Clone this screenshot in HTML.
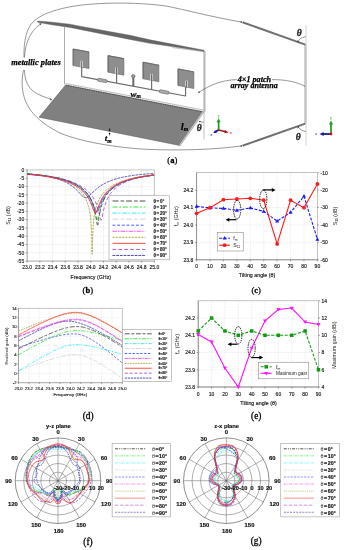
<!DOCTYPE html>
<html lang="en">
<head>
<meta charset="utf-8">
<title>Figure</title>
<style>
html,body{margin:0;padding:0;background:#fff;}
body{width:344px;height:550px;overflow:hidden;}
svg{display:block;filter:blur(0.35px);}
</style>
</head>
<body>
<svg width="344" height="550" viewBox="0 0 344 550">
<rect x="0" y="0" width="344" height="550" fill="#fff"/>
<g id="panel-a">
<g fill="none" stroke="#444" stroke-width="0.55">
<path d="M24 57.5 C23.5 40 27 28 33 22 C42 13 62 7 86 4.6 C110 2.3 140 2.5 166 6 C184 9.5 212 17 241 22"/>
<path d="M24.5 57.5 C25 44 30 31 40.5 24"/>
<path d="M23.5 70 C21 82 22 92 25.5 101 C30 112 40 123 60 133 C80 141.5 115 147.5 146 149.3 C176 150.6 212 150 241 146"/>
<path d="M24.5 70 C24.5 80 28 88 35 92.5 C40 95.5 46 97.5 51.5 99.5"/>
</g>
<path d="M41.6 23.2 L39.2 23.5 L40.5 25.3Z" fill="#444"/>
<path d="M52.4 99.9 L50.4 98.2 L50 100.2Z" fill="#444"/>
<polygon points="64.5,27 204,50.8 204,111.3 66,84.6 64.5,84.3" fill="#fff" stroke="none"/>
<line x1="64.5" y1="27" x2="64.5" y2="84.5" stroke="#8a8a8a" stroke-width="0.7"/>
<polygon points="203.7,51 205.2,51.3 205.2,111.6 203.7,111.3" fill="#c4c4c4" stroke="#888" stroke-width="0.35"/>
<line x1="204" y1="111.5" x2="204" y2="139.5" stroke="#999" stroke-width="0.6"/>
<path d="M172 47.6 L204 51.8" stroke="#999" stroke-width="0.5" fill="none"/>
<polygon points="37.6,21 50,21.95 70,24.2 80,26.15 130,35.35 150,39.85 204,50.25 204,51.35 150,43.35 130,39.45 80,29.45 70,27.4 50,24.45 37.6,22.2" fill="#666" stroke="#555" stroke-width="0.4"/>
<polygon points="66,84.6 202.5,111.2 178.7,145.3 39,117.2" fill="#808080" stroke="#555" stroke-width="0.5"/>
<polygon points="202.5,111.2 203.9,112 180,146 178.7,145.3" fill="#c9c9c9" stroke="#555" stroke-width="0.35"/>
<line x1="66" y1="84.2" x2="203" y2="110.7" stroke="#f4f4f4" stroke-width="0.9"/>
<line x1="66" y1="83.5" x2="203.5" y2="110" stroke="#777" stroke-width="0.45"/>
<line x1="66" y1="85.4" x2="202" y2="111.9" stroke="#222" stroke-width="0.7" stroke-dasharray="0.7 1.1"/>
<polygon points="73.1,49 89,52 89,68.6 73.1,65.6" fill="#8e8e8e" stroke="#666" stroke-width="0.6"/>
<polyline points="73.1,65.6 73.1,49 89,52" fill="none" stroke="#5c5c5c" stroke-width="0.7"/>
<polygon points="108,55.6 123.9,58.6 123.9,75.2 108,72.2" fill="#8e8e8e" stroke="#666" stroke-width="0.6"/>
<polyline points="108,72.2 108,55.6 123.9,58.6" fill="none" stroke="#5c5c5c" stroke-width="0.7"/>
<polygon points="143,62.2 158.9,65.2 158.9,81.8 143,78.8" fill="#8e8e8e" stroke="#666" stroke-width="0.6"/>
<polyline points="143,78.8 143,62.2 158.9,65.2" fill="none" stroke="#5c5c5c" stroke-width="0.7"/>
<polygon points="178,68.9 193.9,71.9 193.9,88.5 178,85.5" fill="#8e8e8e" stroke="#666" stroke-width="0.6"/>
<polyline points="178,85.5 178,68.9 193.9,71.9" fill="none" stroke="#5c5c5c" stroke-width="0.7"/>
<g fill="none" stroke-linejoin="round">
<line x1="81.7" y1="60.8" x2="81.7" y2="67.2" stroke="#e8e8e8" stroke-width="2.6"/>
<line x1="116.6" y1="67.4" x2="116.6" y2="73.8" stroke="#e8e8e8" stroke-width="2.6"/>
<line x1="151.6" y1="74" x2="151.6" y2="80.4" stroke="#e8e8e8" stroke-width="2.6"/>
<line x1="186.6" y1="80.7" x2="186.6" y2="87.1" stroke="#e8e8e8" stroke-width="2.6"/>
<path d="M81.7 67 L81.7 76.6 L185.6 95.98 L185.6 86.5" stroke="#6a6a6a" stroke-width="1.15"/>
<path d="M116.6 67.5 L116.6 83.11" stroke="#6a6a6a" stroke-width="1.15"/>
<path d="M151.6 75 L151.6 89.64" stroke="#6a6a6a" stroke-width="1.15"/>
<line x1="81.7" y1="61" x2="81.7" y2="67.7" stroke="#6a6a6a" stroke-width="1.1"/>
<line x1="116.6" y1="67.6" x2="116.6" y2="74.3" stroke="#6a6a6a" stroke-width="1.1"/>
<line x1="151.6" y1="74.2" x2="151.6" y2="80.9" stroke="#6a6a6a" stroke-width="1.1"/>
<line x1="186.6" y1="80.9" x2="186.6" y2="87.6" stroke="#6a6a6a" stroke-width="1.1"/>
</g>
<g transform="translate(102.4 80.46) rotate(10.6)"><rect x="-4.9" y="-1.5" width="9.8" height="3" rx="1.2" fill="#a9a9a9" stroke="#555" stroke-width="0.5"/></g>
<g transform="translate(164.2 91.99) rotate(10.6)"><rect x="-4.9" y="-1.5" width="9.8" height="3" rx="1.2" fill="#a9a9a9" stroke="#555" stroke-width="0.5"/></g>
<line x1="133.3" y1="76.5" x2="133.3" y2="86.22" stroke="#6a6a6a" stroke-width="2"/>
<circle cx="133.3" cy="76.2" r="1.75" fill="#9a9a9a" stroke="#555" stroke-width="0.5"/>
<text x="36" y="65.2" font-size="8.4" text-anchor="middle" font-family='"Liberation Serif", serif' font-weight="bold" font-style="italic" fill="#000" stroke="#000" stroke-width="0.25">metallic plates</text>
<text x="130.4" y="96.6" font-size="9" font-family='"Liberation Serif", serif' font-weight="bold" font-style="italic" fill="#000" stroke="#000" stroke-width="0.2">w<tspan font-size="5.6" dy="1.6">m</tspan></text>
<text x="180.8" y="129.6" font-size="10.5" font-family='"Liberation Serif", serif' font-weight="bold" font-style="italic" fill="#000" stroke="#000" stroke-width="0.2">l<tspan font-size="5.6" dy="1.2">m</tspan></text>
<text x="104.8" y="141" font-size="9" font-family='"Liberation Serif", serif' font-weight="bold" font-style="italic" fill="#000" stroke="#000" stroke-width="0.2">t<tspan font-size="5.6" dy="1.5">m</tspan></text>
<path d="M109.6 128.3 L109.6 130.6 M109.6 133.2 L109.6 135.4" stroke="#000" stroke-width="0.6" fill="none"/>
<path d="M109.6 131.4 L108.6 129.8 L110.6 129.8Z M109.6 132.4 L108.6 134 L110.6 134Z" fill="#000"/>
<text x="199.2" y="131" font-size="9.5" text-anchor="middle" font-family='"Liberation Serif", serif' font-weight="bold" font-style="italic" fill="#222" stroke="#222" stroke-width="0.28">θ</text>
<path d="M199.4 121.3 Q201.5 122.4 203.8 122.2" stroke="#333" stroke-width="0.5" fill="none"/>
<path d="M198.8 120.9 L200.8 121 L199.9 122.5Z" fill="#333"/>
<text x="254.4" y="82" font-size="8.1" text-anchor="middle" font-family='"Liberation Serif", serif' font-weight="bold" font-style="italic" fill="#000" stroke="#000" stroke-width="0.25">4×1 patch</text>
<text x="254.2" y="88" font-size="8.1" text-anchor="middle" font-family='"Liberation Serif", serif' font-weight="bold" font-style="italic" fill="#000" stroke="#000" stroke-width="0.25">array antenna</text>
<g fill="none" stroke="#444" stroke-width="0.55">
<path d="M199 92.2 C210 85 222 80 236.8 79.6"/>
<path d="M272 79.6 C286 79.6 297 82 305 86.3"/>
</g>
<circle cx="199" cy="92.2" r="0.8" fill="#333"/>
<circle cx="305" cy="86.3" r="0.7" fill="#333"/>
<line x1="306" y1="25" x2="306" y2="145.5" stroke="#b5b5b5" stroke-width="0.6"/>
<line x1="305.7" y1="44.6" x2="305.7" y2="123.6" stroke="#c6c6c6" stroke-width="1.9"/>
<line x1="304.6" y1="44.6" x2="304.6" y2="123.6" stroke="#999" stroke-width="0.4"/>
<line x1="242.5" y1="22.3" x2="305.3" y2="44.6" stroke="#707070" stroke-width="2"/>
<line x1="242.5" y1="145.7" x2="305.3" y2="123.6" stroke="#707070" stroke-width="2"/>
<circle cx="241.3" cy="22" r="0.8" fill="#222"/>
<circle cx="241.3" cy="146" r="0.8" fill="#222"/>
<text x="299.3" y="35.6" font-size="9.5" text-anchor="middle" font-family='"Liberation Serif", serif' font-weight="bold" font-style="italic" fill="#222" stroke="#222" stroke-width="0.28">θ</text>
<text x="298.3" y="139.6" font-size="9.5" text-anchor="middle" font-family='"Liberation Serif", serif' font-weight="bold" font-style="italic" fill="#222" stroke="#222" stroke-width="0.28">θ</text>
<path d="M297.5 41.6 Q300.5 37.2 305.8 36.6" stroke="#333" stroke-width="0.5" fill="none"/>
<path d="M297.8 126.8 Q300.8 131 305.8 131.6" stroke="#333" stroke-width="0.5" fill="none"/>
<path d="M297.2 42.4 L297.5 40.4 L299 41.6Z" fill="#333"/>
<path d="M297.3 126.2 L297.8 128.2 L299.2 127Z" fill="#333"/>
<g stroke-linecap="butt">
<line x1="218.6" y1="130.4" x2="218.6" y2="121.6" stroke="#1e9a1e" stroke-width="1.7"/>
<path d="M218.6 118.2 L216.6 122.2 L220.6 122.2Z" fill="#1e9a1e"/>
<line x1="218.6" y1="130" x2="225.6" y2="131.7" stroke="#b01818" stroke-width="1.6"/>
<path d="M228.6 132.4 L225 130 L224.4 133.3Z" fill="#b01818"/>
<line x1="218.6" y1="130" x2="215.6" y2="131.6" stroke="#181894" stroke-width="1.8"/>
<path d="M213.2 133 L216.8 133 L215.2 130.3Z" fill="#181894"/>
</g>
<text x="218.6" y="117.8" font-size="3.4" text-anchor="middle" font-family='"Liberation Sans", sans-serif' font-weight="bold" font-style="normal" fill="#5cc85c" stroke="#5cc85c" stroke-width="0.1">Y</text>
<text x="230.8" y="133.9" font-size="3.6" text-anchor="middle" font-family='"Liberation Sans", sans-serif' font-weight="bold" font-style="normal" fill="#f04040" stroke="#f04040" stroke-width="0.11">x</text>
<text x="211.4" y="135.6" font-size="3.6" text-anchor="middle" font-family='"Liberation Sans", sans-serif' font-weight="bold" font-style="normal" fill="#6060f0" stroke="#6060f0" stroke-width="0.11">z</text>
<line x1="331" y1="134" x2="331" y2="124" stroke="#1e9a1e" stroke-width="1.7"/>
<path d="M331 120.4 L329 124.6 L333 124.6Z" fill="#1e9a1e"/>
<line x1="331" y1="134" x2="323" y2="134" stroke="#181894" stroke-width="1.8"/>
<path d="M319.6 134 L323.6 132.1 L323.6 135.9Z" fill="#181894"/>
<circle cx="331" cy="134" r="1.4" fill="#d01818"/>
<text x="331" y="119.6" font-size="3.4" text-anchor="middle" font-family='"Liberation Sans", sans-serif' font-weight="bold" font-style="normal" fill="#5cc85c" stroke="#5cc85c" stroke-width="0.1">Y</text>
<text x="316.2" y="135" font-size="3.6" text-anchor="middle" font-family='"Liberation Sans", sans-serif' font-weight="bold" font-style="normal" fill="#6060f0" stroke="#6060f0" stroke-width="0.11">z</text>
<text x="172.3" y="163.1" font-size="8.5" text-anchor="middle" font-family='"Liberation Serif", serif' font-weight="normal" font-style="normal" fill="#000" stroke="#000" stroke-width="0.26">(<tspan font-weight="bold">a</tspan>)</text>
</g>
<g id="panel-b">
<rect x="27.15" y="169.9" width="127.25" height="91.2" fill="#fff" stroke="none"/>
<g stroke="#d6d6d6" stroke-width="0.45" stroke-dasharray="1.6 1.2" fill="none">
<line x1="39.87" y1="169.9" x2="39.87" y2="261.1"/>
<line x1="52.6" y1="169.9" x2="52.6" y2="261.1"/>
<line x1="65.33" y1="169.9" x2="65.33" y2="261.1"/>
<line x1="78.05" y1="169.9" x2="78.05" y2="261.1"/>
<line x1="90.78" y1="169.9" x2="90.78" y2="261.1"/>
<line x1="103.5" y1="169.9" x2="103.5" y2="261.1"/>
<line x1="116.22" y1="169.9" x2="116.22" y2="261.1"/>
<line x1="128.95" y1="169.9" x2="128.95" y2="261.1"/>
<line x1="141.68" y1="169.9" x2="141.68" y2="261.1"/>
<line x1="27.15" y1="178.19" x2="154.4" y2="178.19"/>
<line x1="27.15" y1="186.48" x2="154.4" y2="186.48"/>
<line x1="27.15" y1="194.77" x2="154.4" y2="194.77"/>
<line x1="27.15" y1="203.06" x2="154.4" y2="203.06"/>
<line x1="27.15" y1="211.35" x2="154.4" y2="211.35"/>
<line x1="27.15" y1="219.65" x2="154.4" y2="219.65"/>
<line x1="27.15" y1="227.94" x2="154.4" y2="227.94"/>
<line x1="27.15" y1="236.23" x2="154.4" y2="236.23"/>
<line x1="27.15" y1="244.52" x2="154.4" y2="244.52"/>
<line x1="27.15" y1="252.81" x2="154.4" y2="252.81"/>
</g>
<clipPath id="clipb"><rect x="27.15" y="169.9" width="127.25" height="91.2"/></clipPath>
<g clip-path="url(#clipb)" fill="none" stroke-width="0.8" stroke-linejoin="round">
<path d="M27.15 174.17 L27.95 174.23 L28.74 174.3 L29.54 174.37 L30.33 174.44 L31.13 174.51 L31.92 174.58 L32.72 174.65 L33.51 174.73 L34.31 174.81 L35.1 174.89 L35.9 174.97 L36.69 175.06 L37.49 175.14 L38.28 175.23 L39.08 175.32 L39.87 175.42 L40.67 175.52 L41.47 175.62 L42.26 175.72 L43.06 175.82 L43.85 175.93 L44.65 176.04 L45.44 176.16 L46.24 176.28 L47.03 176.4 L47.83 176.53 L48.62 176.65 L49.42 176.79 L50.21 176.93 L51.01 177.07 L51.8 177.21 L52.6 177.36 L53.4 177.52 L54.19 177.68 L54.99 177.85 L55.78 178.02 L56.58 178.19 L57.37 178.38 L58.17 178.57 L58.96 178.76 L59.76 178.96 L60.55 179.17 L61.35 179.39 L62.14 179.61 L62.94 179.85 L63.73 180.09 L64.53 180.34 L65.33 180.6 L66.12 180.87 L66.92 181.15 L67.71 181.44 L68.51 181.74 L69.3 182.05 L70.1 182.38 L70.89 182.72 L71.69 183.07 L72.48 183.44 L73.28 183.83 L74.07 184.24 L74.87 184.66 L75.66 185.1 L76.46 185.56 L77.25 186.05 L78.05 186.56 L78.85 187.1 L79.64 187.66 L80.44 188.26 L81.23 188.89 L82.03 189.56 L82.82 190.27 L83.62 191.03 L84.41 191.83 L85.21 192.69 L86 193.61 L86.8 194.61 L87.59 195.68 L88.39 196.84 L89.18 198.1 L89.98 199.48 L90.78 200.99 L91.57 202.65 L92.37 204.46 L93.16 206.41 L93.96 208.43 L94.75 210.33 L95.55 211.73 L96.12 211.52 L96.34 212.04 L97.14 211.04 L97.93 209.3 L98.73 207.3 L99.52 205.3 L100.32 203.43 L101.11 201.7 L101.91 200.13 L102.7 198.69 L103.5 197.38 L104.3 196.18 L105.09 195.07 L105.89 194.04 L106.68 193.09 L107.48 192.2 L108.27 191.37 L109.07 190.6 L109.86 189.87 L110.66 189.18 L111.45 188.53 L112.25 187.92 L113.04 187.34 L113.84 186.79 L114.63 186.27 L115.43 185.77 L116.22 185.3 L117.02 184.85 L117.82 184.42 L118.61 184.01 L119.41 183.61 L120.2 183.24 L121 182.87 L121.79 182.53 L122.59 182.19 L123.38 181.87 L124.18 181.57 L124.97 181.27 L125.77 180.99 L126.56 180.71 L127.36 180.45 L128.15 180.2 L128.95 179.95 L129.75 179.72 L130.54 179.49 L131.34 179.27 L132.13 179.06 L132.93 178.85 L133.72 178.65 L134.52 178.46 L135.31 178.27 L136.11 178.09 L136.9 177.92 L137.7 177.75 L138.49 177.59 L139.29 177.43 L140.08 177.28 L140.88 177.13 L141.68 176.99 L142.47 176.85 L143.27 176.71 L144.06 176.58 L144.86 176.45 L145.65 176.33 L146.45 176.21 L147.24 176.09 L148.04 175.98 L148.83 175.87 L149.63 175.76 L150.42 175.66 L151.22 175.56 L152.01 175.46 L152.81 175.37 L153.6 175.27 L154.4 175.18" stroke="#cdcdcd" stroke-dasharray="6 2 3.6 2"/>
<path d="M27.15 173.99 L27.95 174.06 L28.74 174.12 L29.54 174.18 L30.33 174.25 L31.13 174.32 L31.92 174.38 L32.72 174.46 L33.51 174.53 L34.31 174.6 L35.1 174.68 L35.9 174.76 L36.69 174.84 L37.49 174.92 L38.28 175.01 L39.08 175.1 L39.87 175.19 L40.67 175.28 L41.47 175.37 L42.26 175.47 L43.06 175.57 L43.85 175.68 L44.65 175.78 L45.44 175.89 L46.24 176.01 L47.03 176.12 L47.83 176.24 L48.62 176.37 L49.42 176.49 L50.21 176.63 L51.01 176.76 L51.8 176.9 L52.6 177.05 L53.4 177.19 L54.19 177.35 L54.99 177.51 L55.78 177.67 L56.58 177.84 L57.37 178.02 L58.17 178.2 L58.96 178.38 L59.76 178.58 L60.55 178.78 L61.35 178.99 L62.14 179.2 L62.94 179.42 L63.73 179.65 L64.53 179.89 L65.33 180.14 L66.12 180.4 L66.92 180.67 L67.71 180.95 L68.51 181.24 L69.3 181.54 L70.1 181.85 L70.89 182.18 L71.69 182.52 L72.48 182.87 L73.28 183.24 L74.07 183.63 L74.87 184.03 L75.66 184.46 L76.46 184.9 L77.25 185.36 L78.05 185.85 L78.85 186.37 L79.64 186.91 L80.44 187.48 L81.23 188.08 L82.03 188.71 L82.82 189.39 L83.62 190.11 L84.41 190.87 L85.21 191.68 L86 192.56 L86.8 193.49 L87.59 194.5 L88.39 195.6 L89.18 196.79 L89.98 198.09 L90.78 199.51 L91.57 201.08 L92.37 202.8 L93.16 204.71 L93.96 206.78 L94.75 208.94 L95.55 210.99 L96.34 212.46 L96.82 212.18 L97.14 212.63 L97.93 211.41 L98.73 209.49 L99.52 207.37 L100.32 205.31 L101.11 203.4 L101.91 201.65 L102.7 200.07 L103.5 198.63 L104.3 197.31 L105.09 196.1 L105.89 195 L106.68 193.97 L107.48 193.02 L108.27 192.14 L109.07 191.31 L109.86 190.54 L110.66 189.81 L111.45 189.13 L112.25 188.48 L113.04 187.87 L113.84 187.29 L114.63 186.75 L115.43 186.23 L116.22 185.73 L117.02 185.26 L117.82 184.81 L118.61 184.38 L119.41 183.97 L120.2 183.58 L121 183.2 L121.79 182.84 L122.59 182.49 L123.38 182.16 L124.18 181.84 L124.97 181.54 L125.77 181.24 L126.56 180.96 L127.36 180.69 L128.15 180.43 L128.95 180.17 L129.75 179.93 L130.54 179.69 L131.34 179.47 L132.13 179.25 L132.93 179.03 L133.72 178.83 L134.52 178.63 L135.31 178.44 L136.11 178.26 L136.9 178.08 L137.7 177.9 L138.49 177.74 L139.29 177.57 L140.08 177.42 L140.88 177.26 L141.68 177.12 L142.47 176.97 L143.27 176.83 L144.06 176.7 L144.86 176.57 L145.65 176.44 L146.45 176.32 L147.24 176.2 L148.04 176.08 L148.83 175.97 L149.63 175.86 L150.42 175.75 L151.22 175.65 L152.01 175.55 L152.81 175.45 L153.6 175.36 L154.4 175.26" stroke="#10e8ff" stroke-dasharray="4.6 1.5 1.8 1.8"/>
<path d="M27.15 173.87 L27.95 173.93 L28.74 173.99 L29.54 174.05 L30.33 174.11 L31.13 174.18 L31.92 174.24 L32.72 174.31 L33.51 174.38 L34.31 174.46 L35.1 174.53 L35.9 174.61 L36.69 174.69 L37.49 174.77 L38.28 174.85 L39.08 174.94 L39.87 175.02 L40.67 175.11 L41.47 175.21 L42.26 175.3 L43.06 175.4 L43.85 175.5 L44.65 175.61 L45.44 175.71 L46.24 175.82 L47.03 175.94 L47.83 176.05 L48.62 176.18 L49.42 176.3 L50.21 176.43 L51.01 176.56 L51.8 176.7 L52.6 176.84 L53.4 176.99 L54.19 177.14 L54.99 177.29 L55.78 177.45 L56.58 177.62 L57.37 177.79 L58.17 177.97 L58.96 178.15 L59.76 178.34 L60.55 178.54 L61.35 178.74 L62.14 178.96 L62.94 179.17 L63.73 179.4 L64.53 179.64 L65.33 179.88 L66.12 180.14 L66.92 180.4 L67.71 180.68 L68.51 180.96 L69.3 181.26 L70.1 181.57 L70.89 181.89 L71.69 182.23 L72.48 182.58 L73.28 182.95 L74.07 183.34 L74.87 183.74 L75.66 184.16 L76.46 184.6 L77.25 185.06 L78.05 185.55 L78.85 186.06 L79.64 186.6 L80.44 187.17 L81.23 187.78 L82.03 188.42 L82.82 189.1 L83.62 189.82 L84.41 190.59 L85.21 191.42 L86 192.31 L86.8 193.27 L87.59 194.31 L88.39 195.44 L89.18 196.69 L89.98 198.06 L90.78 199.59 L91.57 201.32 L92.37 203.28 L93.16 205.55 L93.96 208.21 L94.75 211.37 L95.55 215.06 L96.34 218.8 L97.01 219.81 L97.14 220.32 L97.93 217.78 L98.73 214.02 L99.52 210.54 L100.32 207.58 L101.11 205.07 L101.91 202.91 L102.7 201.04 L103.5 199.38 L104.3 197.91 L105.09 196.58 L105.89 195.37 L106.68 194.27 L107.48 193.25 L108.27 192.32 L109.07 191.45 L109.86 190.64 L110.66 189.88 L111.45 189.17 L112.25 188.5 L113.04 187.87 L113.84 187.28 L114.63 186.71 L115.43 186.18 L116.22 185.67 L117.02 185.19 L117.82 184.73 L118.61 184.29 L119.41 183.88 L120.2 183.48 L121 183.1 L121.79 182.73 L122.59 182.38 L123.38 182.04 L124.18 181.72 L124.97 181.41 L125.77 181.12 L126.56 180.83 L127.36 180.56 L128.15 180.29 L128.95 180.04 L129.75 179.79 L130.54 179.56 L131.34 179.33 L132.13 179.11 L132.93 178.9 L133.72 178.69 L134.52 178.5 L135.31 178.3 L136.11 178.12 L136.9 177.94 L137.7 177.77 L138.49 177.6 L139.29 177.44 L140.08 177.28 L140.88 177.13 L141.68 176.98 L142.47 176.84 L143.27 176.7 L144.06 176.57 L144.86 176.44 L145.65 176.31 L146.45 176.19 L147.24 176.07 L148.04 175.96 L148.83 175.85 L149.63 175.74 L150.42 175.63 L151.22 175.53 L152.01 175.43 L152.81 175.33 L153.6 175.24 L154.4 175.15" stroke="#10e810" stroke-dasharray="5 1.8 1.8 1.8"/>
<path d="M27.15 173.95 L27.95 174.01 L28.74 174.07 L29.54 174.13 L30.33 174.2 L31.13 174.26 L31.92 174.33 L32.72 174.4 L33.51 174.47 L34.31 174.54 L35.1 174.62 L35.9 174.7 L36.69 174.78 L37.49 174.86 L38.28 174.94 L39.08 175.03 L39.87 175.11 L40.67 175.2 L41.47 175.3 L42.26 175.39 L43.06 175.49 L43.85 175.59 L44.65 175.7 L45.44 175.81 L46.24 175.92 L47.03 176.03 L47.83 176.15 L48.62 176.27 L49.42 176.39 L50.21 176.52 L51.01 176.65 L51.8 176.79 L52.6 176.93 L53.4 177.08 L54.19 177.23 L54.99 177.38 L55.78 177.54 L56.58 177.71 L57.37 177.88 L58.17 178.05 L58.96 178.24 L59.76 178.43 L60.55 178.62 L61.35 178.82 L62.14 179.03 L62.94 179.25 L63.73 179.47 L64.53 179.71 L65.33 179.95 L66.12 180.2 L66.92 180.46 L67.71 180.73 L68.51 181.01 L69.3 181.31 L70.1 181.61 L70.89 181.93 L71.69 182.26 L72.48 182.6 L73.28 182.96 L74.07 183.34 L74.87 183.73 L75.66 184.15 L76.46 184.58 L77.25 185.03 L78.05 185.5 L78.85 186 L79.64 186.53 L80.44 187.08 L81.23 187.67 L82.03 188.28 L82.82 188.94 L83.62 189.64 L84.41 190.38 L85.21 191.18 L86 192.03 L86.8 192.95 L87.59 193.94 L88.39 195.03 L89.18 196.21 L89.98 197.51 L90.78 198.96 L91.57 200.58 L92.37 202.43 L93.16 204.57 L93.96 207.09 L94.75 210.15 L95.55 213.96 L96.34 218.81 L97.14 224.21 L97.58 225.12 L97.93 224.68 L98.73 219.27 L99.52 214.23 L100.32 210.28 L101.11 207.13 L101.91 204.55 L102.7 202.37 L103.5 200.49 L104.3 198.83 L105.09 197.37 L105.89 196.05 L106.68 194.85 L107.48 193.76 L108.27 192.76 L109.07 191.84 L109.86 190.98 L110.66 190.18 L111.45 189.43 L112.25 188.73 L113.04 188.07 L113.84 187.45 L114.63 186.86 L115.43 186.31 L116.22 185.78 L117.02 185.28 L117.82 184.81 L118.61 184.35 L119.41 183.92 L120.2 183.51 L121 183.12 L121.79 182.75 L122.59 182.39 L123.38 182.04 L124.18 181.71 L124.97 181.4 L125.77 181.09 L126.56 180.8 L127.36 180.52 L128.15 180.25 L128.95 179.99 L129.75 179.75 L130.54 179.5 L131.34 179.27 L132.13 179.05 L132.93 178.84 L133.72 178.63 L134.52 178.43 L135.31 178.23 L136.11 178.05 L136.9 177.87 L137.7 177.69 L138.49 177.52 L139.29 177.36 L140.08 177.2 L140.88 177.05 L141.68 176.9 L142.47 176.76 L143.27 176.62 L144.06 176.49 L144.86 176.36 L145.65 176.23 L146.45 176.11 L147.24 175.99 L148.04 175.87 L148.83 175.76 L149.63 175.65 L150.42 175.55 L151.22 175.44 L152.01 175.34 L152.81 175.25 L153.6 175.15 L154.4 175.06" stroke="#303030" stroke-dasharray="6 2 3.6 2"/>
<path d="M27.15 174.1 L27.95 174.16 L28.74 174.23 L29.54 174.29 L30.33 174.36 L31.13 174.43 L31.92 174.5 L32.72 174.57 L33.51 174.64 L34.31 174.72 L35.1 174.8 L35.9 174.88 L36.69 174.96 L37.49 175.04 L38.28 175.13 L39.08 175.22 L39.87 175.31 L40.67 175.41 L41.47 175.5 L42.26 175.6 L43.06 175.7 L43.85 175.81 L44.65 175.92 L45.44 176.03 L46.24 176.14 L47.03 176.26 L47.83 176.38 L48.62 176.51 L49.42 176.64 L50.21 176.77 L51.01 176.91 L51.8 177.05 L52.6 177.19 L53.4 177.34 L54.19 177.5 L54.99 177.66 L55.78 177.82 L56.58 177.99 L57.37 178.17 L58.17 178.35 L58.96 178.54 L59.76 178.73 L60.55 178.93 L61.35 179.14 L62.14 179.36 L62.94 179.58 L63.73 179.81 L64.53 180.05 L65.33 180.3 L66.12 180.56 L66.92 180.83 L67.71 181.1 L68.51 181.39 L69.3 181.69 L70.1 182.01 L70.89 182.33 L71.69 182.67 L72.48 183.02 L73.28 183.39 L74.07 183.77 L74.87 184.17 L75.66 184.59 L76.46 185.03 L77.25 185.49 L78.05 185.97 L78.85 186.48 L79.64 187.01 L80.44 187.57 L81.23 188.17 L82.03 188.79 L82.82 189.45 L83.62 190.15 L84.41 190.9 L85.21 191.69 L86 192.54 L86.8 193.45 L87.59 194.42 L88.39 195.48 L89.18 196.61 L89.98 197.85 L90.78 199.2 L91.57 200.66 L92.37 202.27 L93.16 204.01 L93.96 205.87 L94.75 207.79 L95.55 209.61 L96.34 210.98 L97.01 210.86 L97.14 211.42 L97.93 210.55 L98.73 208.87 L99.52 206.89 L100.32 204.89 L101.11 203.01 L101.91 201.27 L102.7 199.68 L103.5 198.23 L104.3 196.91 L105.09 195.69 L105.89 194.58 L106.68 193.54 L107.48 192.59 L108.27 191.7 L109.07 190.87 L109.86 190.09 L110.66 189.36 L111.45 188.67 L112.25 188.02 L113.04 187.41 L113.84 186.84 L114.63 186.29 L115.43 185.77 L116.22 185.27 L117.02 184.8 L117.82 184.35 L118.61 183.93 L119.41 183.52 L120.2 183.13 L121 182.75 L121.79 182.4 L122.59 182.05 L123.38 181.72 L124.18 181.41 L124.97 181.11 L125.77 180.81 L126.56 180.54 L127.36 180.27 L128.15 180.01 L128.95 179.76 L129.75 179.52 L130.54 179.29 L131.34 179.06 L132.13 178.85 L132.93 178.64 L133.72 178.44 L134.52 178.25 L135.31 178.06 L136.11 177.88 L136.9 177.7 L137.7 177.54 L138.49 177.37 L139.29 177.21 L140.08 177.06 L140.88 176.91 L141.68 176.77 L142.47 176.63 L143.27 176.5 L144.06 176.37 L144.86 176.24 L145.65 176.12 L146.45 176 L147.24 175.88 L148.04 175.77 L148.83 175.66 L149.63 175.55 L150.42 175.45 L151.22 175.35 L152.01 175.25 L152.81 175.16 L153.6 175.07 L154.4 174.98" stroke="#2838ff" stroke-dasharray="2.8 1.9"/>
<path d="M27.15 174.33 L27.95 174.4 L28.74 174.46 L29.54 174.53 L30.33 174.6 L31.13 174.68 L31.92 174.75 L32.72 174.83 L33.51 174.91 L34.31 174.99 L35.1 175.07 L35.9 175.16 L36.69 175.25 L37.49 175.34 L38.28 175.43 L39.08 175.53 L39.87 175.62 L40.67 175.72 L41.47 175.83 L42.26 175.93 L43.06 176.04 L43.85 176.16 L44.65 176.27 L45.44 176.39 L46.24 176.51 L47.03 176.64 L47.83 176.77 L48.62 176.9 L49.42 177.04 L50.21 177.18 L51.01 177.33 L51.8 177.48 L52.6 177.64 L53.4 177.8 L54.19 177.96 L54.99 178.13 L55.78 178.31 L56.58 178.49 L57.37 178.68 L58.17 178.88 L58.96 179.08 L59.76 179.29 L60.55 179.5 L61.35 179.72 L62.14 179.96 L62.94 180.2 L63.73 180.44 L64.53 180.7 L65.33 180.97 L66.12 181.25 L66.92 181.53 L67.71 181.83 L68.51 182.14 L69.3 182.47 L70.1 182.8 L70.89 183.15 L71.69 183.52 L72.48 183.9 L73.28 184.3 L74.07 184.72 L74.87 185.15 L75.66 185.61 L76.46 186.08 L77.25 186.59 L78.05 187.11 L78.85 187.67 L79.64 188.25 L80.44 188.87 L81.23 189.53 L82.03 190.22 L82.82 190.96 L83.62 191.74 L84.41 192.58 L85.21 193.48 L86 194.44 L86.8 195.48 L87.59 196.61 L88.39 197.84 L89.18 199.18 L89.98 200.65 L90.78 202.27 L91.57 204.05 L92.37 206.01 L93.16 208.11 L93.96 210.25 L94.75 212.14 L95.55 213.21 L95.74 212.68 L96.34 212.78 L97.14 211.14 L97.93 209.01 L98.73 206.83 L99.52 204.76 L100.32 202.87 L101.11 201.16 L101.91 199.61 L102.7 198.2 L103.5 196.92 L104.3 195.74 L105.09 194.66 L105.89 193.65 L106.68 192.72 L107.48 191.86 L108.27 191.05 L109.07 190.29 L109.86 189.58 L110.66 188.91 L111.45 188.27 L112.25 187.67 L113.04 187.11 L113.84 186.57 L114.63 186.06 L115.43 185.57 L116.22 185.1 L117.02 184.66 L117.82 184.24 L118.61 183.83 L119.41 183.45 L120.2 183.08 L121 182.72 L121.79 182.38 L122.59 182.05 L123.38 181.74 L124.18 181.44 L124.97 181.15 L125.77 180.87 L126.56 180.6 L127.36 180.34 L128.15 180.09 L128.95 179.85 L129.75 179.61 L130.54 179.39 L131.34 179.17 L132.13 178.96 L132.93 178.76 L133.72 178.57 L134.52 178.38 L135.31 178.19 L136.11 178.02 L136.9 177.85 L137.7 177.68 L138.49 177.52 L139.29 177.36 L140.08 177.21 L140.88 177.07 L141.68 176.92 L142.47 176.79 L143.27 176.65 L144.06 176.52 L144.86 176.4 L145.65 176.28 L146.45 176.16 L147.24 176.04 L148.04 175.93 L148.83 175.82 L149.63 175.72 L150.42 175.62 L151.22 175.52 L152.01 175.42 L152.81 175.32 L153.6 175.23 L154.4 175.14" stroke="#ff28ff" stroke-dasharray="4.5 1 1.3 1.3"/>
<path d="M27.15 173.76 L27.95 173.83 L28.74 173.9 L29.54 173.97 L30.33 174.04 L31.13 174.12 L31.92 174.2 L32.72 174.28 L33.51 174.37 L34.31 174.45 L35.1 174.54 L35.9 174.64 L36.69 174.73 L37.49 174.83 L38.28 174.93 L39.08 175.04 L39.87 175.15 L40.67 175.26 L41.47 175.38 L42.26 175.5 L43.06 175.63 L43.85 175.75 L44.65 175.89 L45.44 176.03 L46.24 176.17 L47.03 176.32 L47.83 176.48 L48.62 176.64 L49.42 176.81 L50.21 176.98 L51.01 177.16 L51.8 177.35 L52.6 177.54 L53.4 177.74 L54.19 177.96 L54.99 178.17 L55.78 178.4 L56.58 178.64 L57.37 178.89 L58.17 179.14 L58.96 179.41 L59.76 179.69 L60.55 179.99 L61.35 180.29 L62.14 180.61 L62.94 180.94 L63.73 181.29 L64.53 181.66 L65.33 182.04 L66.12 182.44 L66.92 182.86 L67.71 183.3 L68.51 183.76 L69.3 184.24 L70.1 184.75 L70.89 185.28 L71.69 185.84 L72.48 186.43 L73.28 187.05 L74.07 187.7 L74.87 188.38 L75.66 189.09 L76.46 189.84 L77.25 190.62 L78.05 191.43 L78.85 192.27 L79.64 193.13 L80.44 194 L81.23 194.85 L82.03 195.67 L82.82 196.43 L83.62 197.07 L84.41 197.55 L85.21 197.81 L85.56 197.26 L86 197.8 L86.8 197.55 L87.59 197.11 L88.39 196.54 L89.18 195.86 L89.98 195.12 L90.78 194.34 L91.57 193.54 L92.37 192.75 L93.16 191.96 L93.96 191.2 L94.75 190.46 L95.55 189.74 L96.34 189.06 L97.14 188.4 L97.93 187.77 L98.73 187.17 L99.52 186.59 L100.32 186.04 L101.11 185.52 L101.91 185.01 L102.7 184.53 L103.5 184.08 L104.3 183.64 L105.09 183.22 L105.89 182.82 L106.68 182.43 L107.48 182.06 L108.27 181.71 L109.07 181.37 L109.86 181.05 L110.66 180.73 L111.45 180.43 L112.25 180.15 L113.04 179.87 L113.84 179.61 L114.63 179.35 L115.43 179.1 L116.22 178.87 L117.02 178.64 L117.82 178.42 L118.61 178.21 L119.41 178.01 L120.2 177.81 L121 177.62 L121.79 177.44 L122.59 177.26 L123.38 177.09 L124.18 176.93 L124.97 176.77 L125.77 176.62 L126.56 176.47 L127.36 176.33 L128.15 176.19 L128.95 176.06 L129.75 175.93 L130.54 175.8 L131.34 175.68 L132.13 175.56 L132.93 175.45 L133.72 175.34 L134.52 175.23 L135.31 175.13 L136.11 175.03 L136.9 174.93 L137.7 174.84 L138.49 174.74 L139.29 174.66 L140.08 174.57 L140.88 174.49 L141.68 174.4 L142.47 174.33 L143.27 174.25 L144.06 174.17 L144.86 174.1 L145.65 174.03 L146.45 173.96 L147.24 173.9 L148.04 173.83 L148.83 173.77 L149.63 173.71 L150.42 173.65 L151.22 173.59 L152.01 173.53 L152.81 173.48 L153.6 173.42 L154.4 173.37" stroke="#282898" stroke-dasharray="2.8 0.9"/>
<path d="M27.15 174.15 L27.95 174.21 L28.74 174.27 L29.54 174.33 L30.33 174.39 L31.13 174.46 L31.92 174.52 L32.72 174.59 L33.51 174.66 L34.31 174.73 L35.1 174.81 L35.9 174.88 L36.69 174.96 L37.49 175.04 L38.28 175.12 L39.08 175.2 L39.87 175.29 L40.67 175.38 L41.47 175.46 L42.26 175.56 L43.06 175.65 L43.85 175.75 L44.65 175.85 L45.44 175.95 L46.24 176.06 L47.03 176.16 L47.83 176.27 L48.62 176.39 L49.42 176.5 L50.21 176.63 L51.01 176.75 L51.8 176.88 L52.6 177.01 L53.4 177.14 L54.19 177.28 L54.99 177.43 L55.78 177.57 L56.58 177.72 L57.37 177.88 L58.17 178.04 L58.96 178.21 L59.76 178.38 L60.55 178.56 L61.35 178.74 L62.14 178.93 L62.94 179.12 L63.73 179.32 L64.53 179.53 L65.33 179.75 L66.12 179.97 L66.92 180.2 L67.71 180.44 L68.51 180.68 L69.3 180.94 L70.1 181.2 L70.89 181.48 L71.69 181.76 L72.48 182.06 L73.28 182.37 L74.07 182.68 L74.87 183.02 L75.66 183.36 L76.46 183.72 L77.25 184.1 L78.05 184.49 L78.85 184.89 L79.64 185.32 L80.44 185.77 L81.23 186.23 L82.03 186.72 L82.82 187.24 L83.62 187.78 L84.41 188.35 L85.21 188.95 L86 189.59 L86.8 190.26 L87.59 190.97 L88.39 191.74 L89.18 192.55 L89.98 193.42 L90.78 194.36 L91.57 195.37 L92.37 196.47 L93.16 197.67 L93.96 198.99 L94.75 200.45 L95.55 202.08 L96.34 203.92 L97.14 206.03 L97.93 208.47 L98.73 211.3 L99.52 214.57 L100.32 218 L101.11 220.3 L101.27 219.81 L101.91 218.73 L102.7 214.68 L103.5 210.78 L104.3 207.5 L105.09 204.76 L105.89 202.45 L106.68 200.46 L107.48 198.71 L108.27 197.17 L109.07 195.79 L109.86 194.54 L110.66 193.4 L111.45 192.36 L112.25 191.4 L113.04 190.51 L113.84 189.69 L114.63 188.92 L115.43 188.2 L116.22 187.53 L117.02 186.89 L117.82 186.3 L118.61 185.73 L119.41 185.2 L120.2 184.7 L121 184.22 L121.79 183.76 L122.59 183.33 L123.38 182.91 L124.18 182.52 L124.97 182.15 L125.77 181.79 L126.56 181.44 L127.36 181.12 L128.15 180.8 L128.95 180.5 L129.75 180.21 L130.54 179.94 L131.34 179.67 L132.13 179.42 L132.93 179.17 L133.72 178.93 L134.52 178.71 L135.31 178.49 L136.11 178.28 L136.9 178.08 L137.7 177.88 L138.49 177.69 L139.29 177.51 L140.08 177.34 L140.88 177.17 L141.68 177.01 L142.47 176.85 L143.27 176.7 L144.06 176.55 L144.86 176.41 L145.65 176.27 L146.45 176.14 L147.24 176.01 L148.04 175.88 L148.83 175.76 L149.63 175.64 L150.42 175.53 L151.22 175.42 L152.01 175.32 L152.81 175.21 L153.6 175.11 L154.4 175.01" stroke="#a038c0" stroke-dasharray="3.7 2.2"/>
<path d="M27.15 173.99 L27.95 174.06 L28.74 174.12 L29.54 174.19 L30.33 174.26 L31.13 174.34 L31.92 174.41 L32.72 174.49 L33.51 174.57 L34.31 174.65 L35.1 174.73 L35.9 174.82 L36.69 174.91 L37.49 175 L38.28 175.09 L39.08 175.19 L39.87 175.29 L40.67 175.39 L41.47 175.5 L42.26 175.61 L43.06 175.72 L43.85 175.84 L44.65 175.96 L45.44 176.08 L46.24 176.21 L47.03 176.34 L47.83 176.48 L48.62 176.62 L49.42 176.76 L50.21 176.91 L51.01 177.07 L51.8 177.23 L52.6 177.4 L53.4 177.57 L54.19 177.75 L54.99 177.93 L55.78 178.13 L56.58 178.33 L57.37 178.53 L58.17 178.75 L58.96 178.97 L59.76 179.2 L60.55 179.44 L61.35 179.69 L62.14 179.95 L62.94 180.22 L63.73 180.5 L64.53 180.8 L65.33 181.1 L66.12 181.42 L66.92 181.76 L67.71 182.1 L68.51 182.47 L69.3 182.85 L70.1 183.25 L70.89 183.67 L71.69 184.11 L72.48 184.57 L73.28 185.06 L74.07 185.57 L74.87 186.11 L75.66 186.69 L76.46 187.29 L77.25 187.94 L78.05 188.62 L78.85 189.36 L79.64 190.14 L80.44 190.98 L81.23 191.89 L82.03 192.87 L82.82 193.94 L83.62 195.11 L84.41 196.41 L85.21 197.85 L86 199.48 L86.8 201.33 L87.59 203.5 L88.39 206.08 L89.18 209.28 L89.98 213.49 L90.78 219.6 L91.57 230.88 L92.17 254.3 L92.37 246.03 L93.16 225.93 L93.96 217.93 L94.75 212.91 L95.55 209.25 L96.34 206.37 L97.14 204.01 L97.93 202 L98.73 200.25 L99.52 198.71 L100.32 197.34 L101.11 196.1 L101.91 194.97 L102.7 193.93 L103.5 192.98 L104.3 192.09 L105.09 191.27 L105.89 190.5 L106.68 189.78 L107.48 189.1 L108.27 188.46 L109.07 187.86 L109.86 187.29 L110.66 186.75 L111.45 186.23 L112.25 185.74 L113.04 185.28 L113.84 184.83 L114.63 184.41 L115.43 184 L116.22 183.62 L117.02 183.25 L117.82 182.89 L118.61 182.55 L119.41 182.22 L120.2 181.91 L121 181.6 L121.79 181.31 L122.59 181.03 L123.38 180.76 L124.18 180.5 L124.97 180.25 L125.77 180.01 L126.56 179.77 L127.36 179.55 L128.15 179.33 L128.95 179.12 L129.75 178.92 L130.54 178.72 L131.34 178.53 L132.13 178.35 L132.93 178.17 L133.72 178 L134.52 177.83 L135.31 177.67 L136.11 177.51 L136.9 177.36 L137.7 177.21 L138.49 177.07 L139.29 176.93 L140.08 176.79 L140.88 176.66 L141.68 176.54 L142.47 176.41 L143.27 176.29 L144.06 176.18 L144.86 176.06 L145.65 175.96 L146.45 175.85 L147.24 175.74 L148.04 175.64 L148.83 175.54 L149.63 175.45 L150.42 175.36 L151.22 175.27 L152.01 175.18 L152.81 175.09 L153.6 175.01 L154.4 174.93" stroke="#9c9c28" stroke-dasharray="2.2 1"/>
<path d="M27.15 174.23 L27.95 174.3 L28.74 174.37 L29.54 174.44 L30.33 174.51 L31.13 174.58 L31.92 174.65 L32.72 174.73 L33.51 174.81 L34.31 174.89 L35.1 174.97 L35.9 175.06 L36.69 175.14 L37.49 175.23 L38.28 175.32 L39.08 175.42 L39.87 175.52 L40.67 175.62 L41.47 175.72 L42.26 175.82 L43.06 175.93 L43.85 176.04 L44.65 176.16 L45.44 176.28 L46.24 176.4 L47.03 176.52 L47.83 176.65 L48.62 176.79 L49.42 176.92 L50.21 177.07 L51.01 177.21 L51.8 177.36 L52.6 177.52 L53.4 177.68 L54.19 177.85 L54.99 178.02 L55.78 178.19 L56.58 178.38 L57.37 178.57 L58.17 178.76 L58.96 178.96 L59.76 179.17 L60.55 179.39 L61.35 179.61 L62.14 179.85 L62.94 180.09 L63.73 180.34 L64.53 180.6 L65.33 180.87 L66.12 181.15 L66.92 181.44 L67.71 181.74 L68.51 182.05 L69.3 182.38 L70.1 182.72 L70.89 183.08 L71.69 183.45 L72.48 183.83 L73.28 184.24 L74.07 184.66 L74.87 185.1 L75.66 185.57 L76.46 186.06 L77.25 186.57 L78.05 187.11 L78.85 187.67 L79.64 188.27 L80.44 188.91 L81.23 189.58 L82.03 190.29 L82.82 191.05 L83.62 191.86 L84.41 192.72 L85.21 193.65 L86 194.66 L86.8 195.74 L87.59 196.92 L88.39 198.2 L89.18 199.61 L89.98 201.16 L90.78 202.87 L91.57 204.76 L92.37 206.83 L93.16 209.01 L93.96 211.14 L94.75 212.78 L95.36 212.68 L95.55 213.2 L96.34 212.05 L97.14 210.03 L97.93 207.79 L98.73 205.61 L99.52 203.6 L100.32 201.78 L101.11 200.14 L101.91 198.65 L102.7 197.3 L103.5 196.06 L104.3 194.93 L105.09 193.88 L105.89 192.92 L106.68 192.02 L107.48 191.18 L108.27 190.4 L109.07 189.66 L109.86 188.97 L110.66 188.32 L111.45 187.7 L112.25 187.12 L113.04 186.57 L113.84 186.05 L114.63 185.55 L115.43 185.07 L116.22 184.62 L117.02 184.19 L117.82 183.78 L118.61 183.39 L119.41 183.01 L120.2 182.65 L121 182.3 L121.79 181.97 L122.59 181.65 L123.38 181.35 L124.18 181.05 L124.97 180.77 L125.77 180.5 L126.56 180.24 L127.36 179.99 L128.15 179.74 L128.95 179.51 L129.75 179.28 L130.54 179.07 L131.34 178.85 L132.13 178.65 L132.93 178.46 L133.72 178.27 L134.52 178.08 L135.31 177.91 L136.11 177.73 L136.9 177.57 L137.7 177.41 L138.49 177.25 L139.29 177.1 L140.08 176.95 L140.88 176.81 L141.68 176.68 L142.47 176.54 L143.27 176.41 L144.06 176.29 L144.86 176.17 L145.65 176.05 L146.45 175.93 L147.24 175.82 L148.04 175.72 L148.83 175.61 L149.63 175.51 L150.42 175.41 L151.22 175.31 L152.01 175.22 L152.81 175.13 L153.6 175.04 L154.4 174.95" stroke="#ff2828"/>
</g>
<path d="M27.15 169.9 L154.4 169.9 L154.4 261.1" fill="none" stroke="#9a9a9a" stroke-width="0.6"/>
<path d="M27.15 169.9 L27.15 261.1 L154.4 261.1" fill="none" stroke="#7c7c7c" stroke-width="0.7"/>
<g stroke="#505050" stroke-width="0.55">
<line x1="27.15" y1="261.1" x2="27.15" y2="262.6"/>
<line x1="39.87" y1="261.1" x2="39.87" y2="262.6"/>
<line x1="52.6" y1="261.1" x2="52.6" y2="262.6"/>
<line x1="65.33" y1="261.1" x2="65.33" y2="262.6"/>
<line x1="78.05" y1="261.1" x2="78.05" y2="262.6"/>
<line x1="90.78" y1="261.1" x2="90.78" y2="262.6"/>
<line x1="103.5" y1="261.1" x2="103.5" y2="262.6"/>
<line x1="116.22" y1="261.1" x2="116.22" y2="262.6"/>
<line x1="128.95" y1="261.1" x2="128.95" y2="262.6"/>
<line x1="141.68" y1="261.1" x2="141.68" y2="262.6"/>
<line x1="154.4" y1="261.1" x2="154.4" y2="262.6"/>
<line x1="25.65" y1="169.9" x2="27.15" y2="169.9"/>
<line x1="25.65" y1="178.19" x2="27.15" y2="178.19"/>
<line x1="25.65" y1="186.48" x2="27.15" y2="186.48"/>
<line x1="25.65" y1="194.77" x2="27.15" y2="194.77"/>
<line x1="25.65" y1="203.06" x2="27.15" y2="203.06"/>
<line x1="25.65" y1="211.35" x2="27.15" y2="211.35"/>
<line x1="25.65" y1="219.65" x2="27.15" y2="219.65"/>
<line x1="25.65" y1="227.94" x2="27.15" y2="227.94"/>
<line x1="25.65" y1="236.23" x2="27.15" y2="236.23"/>
<line x1="25.65" y1="244.52" x2="27.15" y2="244.52"/>
<line x1="25.65" y1="252.81" x2="27.15" y2="252.81"/>
<line x1="25.65" y1="261.1" x2="27.15" y2="261.1"/>
</g>
<text x="27.15" y="269.3" font-size="5.0" text-anchor="middle" font-family='"Liberation Sans", sans-serif' font-weight="normal" font-style="normal" fill="#1a1a1a" stroke="#1a1a1a" stroke-width="0.15">23.0</text>
<text x="39.87" y="269.3" font-size="5.0" text-anchor="middle" font-family='"Liberation Sans", sans-serif' font-weight="normal" font-style="normal" fill="#1a1a1a" stroke="#1a1a1a" stroke-width="0.15">23.2</text>
<text x="52.6" y="269.3" font-size="5.0" text-anchor="middle" font-family='"Liberation Sans", sans-serif' font-weight="normal" font-style="normal" fill="#1a1a1a" stroke="#1a1a1a" stroke-width="0.15">23.4</text>
<text x="65.33" y="269.3" font-size="5.0" text-anchor="middle" font-family='"Liberation Sans", sans-serif' font-weight="normal" font-style="normal" fill="#1a1a1a" stroke="#1a1a1a" stroke-width="0.15">23.6</text>
<text x="78.05" y="269.3" font-size="5.0" text-anchor="middle" font-family='"Liberation Sans", sans-serif' font-weight="normal" font-style="normal" fill="#1a1a1a" stroke="#1a1a1a" stroke-width="0.15">23.8</text>
<text x="90.78" y="269.3" font-size="5.0" text-anchor="middle" font-family='"Liberation Sans", sans-serif' font-weight="normal" font-style="normal" fill="#1a1a1a" stroke="#1a1a1a" stroke-width="0.15">24.0</text>
<text x="103.5" y="269.3" font-size="5.0" text-anchor="middle" font-family='"Liberation Sans", sans-serif' font-weight="normal" font-style="normal" fill="#1a1a1a" stroke="#1a1a1a" stroke-width="0.15">24.2</text>
<text x="116.22" y="269.3" font-size="5.0" text-anchor="middle" font-family='"Liberation Sans", sans-serif' font-weight="normal" font-style="normal" fill="#1a1a1a" stroke="#1a1a1a" stroke-width="0.15">24.4</text>
<text x="128.95" y="269.3" font-size="5.0" text-anchor="middle" font-family='"Liberation Sans", sans-serif' font-weight="normal" font-style="normal" fill="#1a1a1a" stroke="#1a1a1a" stroke-width="0.15">24.6</text>
<text x="141.68" y="269.3" font-size="5.0" text-anchor="middle" font-family='"Liberation Sans", sans-serif' font-weight="normal" font-style="normal" fill="#1a1a1a" stroke="#1a1a1a" stroke-width="0.15">24.8</text>
<text x="154.4" y="269.3" font-size="5.0" text-anchor="middle" font-family='"Liberation Sans", sans-serif' font-weight="normal" font-style="normal" fill="#1a1a1a" stroke="#1a1a1a" stroke-width="0.15">25.0</text>
<text x="24.2" y="171.7" font-size="5.0" text-anchor="end" font-family='"Liberation Sans", sans-serif' font-weight="normal" font-style="normal" fill="#1a1a1a" stroke="#1a1a1a" stroke-width="0.15">0</text>
<text x="24.2" y="179.99" font-size="5.0" text-anchor="end" font-family='"Liberation Sans", sans-serif' font-weight="normal" font-style="normal" fill="#1a1a1a" stroke="#1a1a1a" stroke-width="0.15">-5</text>
<text x="24.2" y="188.28" font-size="5.0" text-anchor="end" font-family='"Liberation Sans", sans-serif' font-weight="normal" font-style="normal" fill="#1a1a1a" stroke="#1a1a1a" stroke-width="0.15">-10</text>
<text x="24.2" y="196.57" font-size="5.0" text-anchor="end" font-family='"Liberation Sans", sans-serif' font-weight="normal" font-style="normal" fill="#1a1a1a" stroke="#1a1a1a" stroke-width="0.15">-15</text>
<text x="24.2" y="204.86" font-size="5.0" text-anchor="end" font-family='"Liberation Sans", sans-serif' font-weight="normal" font-style="normal" fill="#1a1a1a" stroke="#1a1a1a" stroke-width="0.15">-20</text>
<text x="24.2" y="213.15" font-size="5.0" text-anchor="end" font-family='"Liberation Sans", sans-serif' font-weight="normal" font-style="normal" fill="#1a1a1a" stroke="#1a1a1a" stroke-width="0.15">-25</text>
<text x="24.2" y="221.45" font-size="5.0" text-anchor="end" font-family='"Liberation Sans", sans-serif' font-weight="normal" font-style="normal" fill="#1a1a1a" stroke="#1a1a1a" stroke-width="0.15">-30</text>
<text x="24.2" y="229.74" font-size="5.0" text-anchor="end" font-family='"Liberation Sans", sans-serif' font-weight="normal" font-style="normal" fill="#1a1a1a" stroke="#1a1a1a" stroke-width="0.15">-35</text>
<text x="24.2" y="238.03" font-size="5.0" text-anchor="end" font-family='"Liberation Sans", sans-serif' font-weight="normal" font-style="normal" fill="#1a1a1a" stroke="#1a1a1a" stroke-width="0.15">-40</text>
<text x="24.2" y="246.32" font-size="5.0" text-anchor="end" font-family='"Liberation Sans", sans-serif' font-weight="normal" font-style="normal" fill="#1a1a1a" stroke="#1a1a1a" stroke-width="0.15">-45</text>
<text x="24.2" y="254.61" font-size="5.0" text-anchor="end" font-family='"Liberation Sans", sans-serif' font-weight="normal" font-style="normal" fill="#1a1a1a" stroke="#1a1a1a" stroke-width="0.15">-50</text>
<text x="24.2" y="262.9" font-size="5.0" text-anchor="end" font-family='"Liberation Sans", sans-serif' font-weight="normal" font-style="normal" fill="#1a1a1a" stroke="#1a1a1a" stroke-width="0.15">-55</text>
<text x="90.8" y="279.3" font-size="5.3" text-anchor="middle" font-family='"Liberation Sans", sans-serif' font-weight="normal" font-style="normal" fill="#1a1a1a" stroke="#1a1a1a" stroke-width="0.16">Frequency (GHz)</text>
<text transform="translate(10.3 215.4) rotate(-90)" font-size="5.3" text-anchor="middle" font-family='"Liberation Sans", sans-serif' fill="#1a1a1a">S<tspan font-size="3.4" dy="1">11</tspan><tspan dy="-1"> (dB)</tspan></text>
<rect x="109" y="195.8" width="60.3" height="64" fill="#fff" stroke="#8a8a8a" stroke-width="0.5"/>
<line x1="112.5" y1="201" x2="145.4" y2="201" stroke="#303030" stroke-width="0.85" stroke-dasharray="6 2 3.6 2"/>
<text x="153.4" y="202.6" font-size="4.6" text-anchor="start" font-family='"Liberation Sans", sans-serif' font-weight="bold" font-style="normal" fill="#1a1a1a" word-spacing="-0.6" stroke="#1a1a1a" stroke-width="0.14">θ = 0°</text>
<line x1="112.5" y1="207.05" x2="145.4" y2="207.05" stroke="#10e810" stroke-width="0.85" stroke-dasharray="5 1.8 1.8 1.8"/>
<text x="153.4" y="208.65" font-size="4.6" text-anchor="start" font-family='"Liberation Sans", sans-serif' font-weight="bold" font-style="normal" fill="#1a1a1a" word-spacing="-0.6" stroke="#1a1a1a" stroke-width="0.14">θ = 10°</text>
<line x1="112.5" y1="213.1" x2="145.4" y2="213.1" stroke="#10e8ff" stroke-width="0.85" stroke-dasharray="4.6 1.5 1.8 1.8"/>
<text x="153.4" y="214.7" font-size="4.6" text-anchor="start" font-family='"Liberation Sans", sans-serif' font-weight="bold" font-style="normal" fill="#1a1a1a" word-spacing="-0.6" stroke="#1a1a1a" stroke-width="0.14">θ = 20°</text>
<line x1="112.5" y1="219.15" x2="145.4" y2="219.15" stroke="#cdcdcd" stroke-width="0.85" stroke-dasharray="6 2 3.6 2"/>
<text x="153.4" y="220.75" font-size="4.6" text-anchor="start" font-family='"Liberation Sans", sans-serif' font-weight="bold" font-style="normal" fill="#1a1a1a" word-spacing="-0.6" stroke="#1a1a1a" stroke-width="0.14">θ = 30°</text>
<line x1="112.5" y1="225.2" x2="145.4" y2="225.2" stroke="#2838ff" stroke-width="0.85" stroke-dasharray="2.8 1.9"/>
<text x="153.4" y="226.8" font-size="4.6" text-anchor="start" font-family='"Liberation Sans", sans-serif' font-weight="bold" font-style="normal" fill="#1a1a1a" word-spacing="-0.6" stroke="#1a1a1a" stroke-width="0.14">θ = 40°</text>
<line x1="112.5" y1="231.25" x2="145.4" y2="231.25" stroke="#ff28ff" stroke-width="0.85" stroke-dasharray="4.5 1 1.3 1.3"/>
<text x="153.4" y="232.85" font-size="4.6" text-anchor="start" font-family='"Liberation Sans", sans-serif' font-weight="bold" font-style="normal" fill="#1a1a1a" word-spacing="-0.6" stroke="#1a1a1a" stroke-width="0.14">θ = 50°</text>
<line x1="112.5" y1="237.3" x2="145.4" y2="237.3" stroke="#9c9c28" stroke-width="0.85" stroke-dasharray="2.2 1"/>
<text x="153.4" y="238.9" font-size="4.6" text-anchor="start" font-family='"Liberation Sans", sans-serif' font-weight="bold" font-style="normal" fill="#1a1a1a" word-spacing="-0.6" stroke="#1a1a1a" stroke-width="0.14">θ = 60°</text>
<line x1="112.5" y1="243.35" x2="145.4" y2="243.35" stroke="#ff2828" stroke-width="0.85"/>
<text x="153.4" y="244.95" font-size="4.6" text-anchor="start" font-family='"Liberation Sans", sans-serif' font-weight="bold" font-style="normal" fill="#1a1a1a" word-spacing="-0.6" stroke="#1a1a1a" stroke-width="0.14">θ = 70°</text>
<line x1="112.5" y1="249.4" x2="145.4" y2="249.4" stroke="#a038c0" stroke-width="0.85" stroke-dasharray="3.7 2.2"/>
<text x="153.4" y="251" font-size="4.6" text-anchor="start" font-family='"Liberation Sans", sans-serif' font-weight="bold" font-style="normal" fill="#1a1a1a" word-spacing="-0.6" stroke="#1a1a1a" stroke-width="0.14">θ = 80°</text>
<line x1="112.5" y1="255.45" x2="145.4" y2="255.45" stroke="#282898" stroke-width="0.85" stroke-dasharray="2.8 0.9"/>
<text x="153.4" y="257.05" font-size="4.6" text-anchor="start" font-family='"Liberation Sans", sans-serif' font-weight="bold" font-style="normal" fill="#1a1a1a" word-spacing="-0.6" stroke="#1a1a1a" stroke-width="0.14">θ = 90°</text>
<text x="87.8" y="293.1" font-size="8.5" text-anchor="middle" font-family='"Liberation Serif", serif' font-weight="normal" font-style="normal" fill="#000" stroke="#000" stroke-width="0.26">(<tspan font-weight="bold">b</tspan>)</text>
</g>
<g id="panel-c">
<rect x="196.6" y="172.7" width="120.8" height="87.1" fill="#fff"/>
<g stroke="#d6d6d6" stroke-width="0.45" stroke-dasharray="1.6 1.2" fill="none">
<line x1="210.02" y1="172.7" x2="210.02" y2="259.8"/>
<line x1="223.44" y1="172.7" x2="223.44" y2="259.8"/>
<line x1="236.87" y1="172.7" x2="236.87" y2="259.8"/>
<line x1="250.29" y1="172.7" x2="250.29" y2="259.8"/>
<line x1="263.71" y1="172.7" x2="263.71" y2="259.8"/>
<line x1="277.13" y1="172.7" x2="277.13" y2="259.8"/>
<line x1="290.56" y1="172.7" x2="290.56" y2="259.8"/>
<line x1="303.98" y1="172.7" x2="303.98" y2="259.8"/>
<line x1="196.6" y1="242.38" x2="317.4" y2="242.38"/>
<line x1="196.6" y1="224.96" x2="317.4" y2="224.96"/>
<line x1="196.6" y1="207.54" x2="317.4" y2="207.54"/>
<line x1="196.6" y1="190.12" x2="317.4" y2="190.12"/>
</g>
<rect x="196.6" y="172.7" width="120.8" height="87.1" fill="none" stroke="#9a9a9a" stroke-width="0.6"/>
<path d="M196.6 172.7 L196.6 259.8 L317.4 259.8" fill="none" stroke="#7c7c7c" stroke-width="0.7"/>
<g stroke="#505050" stroke-width="0.55">
<line x1="196.6" y1="259.8" x2="196.6" y2="261.3"/>
<line x1="210.02" y1="259.8" x2="210.02" y2="261.3"/>
<line x1="223.44" y1="259.8" x2="223.44" y2="261.3"/>
<line x1="236.87" y1="259.8" x2="236.87" y2="261.3"/>
<line x1="250.29" y1="259.8" x2="250.29" y2="261.3"/>
<line x1="263.71" y1="259.8" x2="263.71" y2="261.3"/>
<line x1="277.13" y1="259.8" x2="277.13" y2="261.3"/>
<line x1="290.56" y1="259.8" x2="290.56" y2="261.3"/>
<line x1="303.98" y1="259.8" x2="303.98" y2="261.3"/>
<line x1="317.4" y1="259.8" x2="317.4" y2="261.3"/>
<line x1="195.1" y1="259.8" x2="196.6" y2="259.8"/>
<line x1="317.4" y1="259.8" x2="318.9" y2="259.8"/>
<line x1="195.1" y1="242.38" x2="196.6" y2="242.38"/>
<line x1="317.4" y1="242.38" x2="318.9" y2="242.38"/>
<line x1="195.1" y1="224.96" x2="196.6" y2="224.96"/>
<line x1="317.4" y1="224.96" x2="318.9" y2="224.96"/>
<line x1="195.1" y1="207.54" x2="196.6" y2="207.54"/>
<line x1="317.4" y1="207.54" x2="318.9" y2="207.54"/>
<line x1="195.1" y1="190.12" x2="196.6" y2="190.12"/>
<line x1="317.4" y1="190.12" x2="318.9" y2="190.12"/>
<line x1="317.4" y1="172.7" x2="318.9" y2="172.7"/>
</g>
<path d="M196.6 206.32 L210.02 207.89 L223.44 208.41 L236.87 210.33 L250.29 207.89 L263.71 211.37 L277.13 221.13 L290.56 212.42 L303.98 196.22 L317.4 239.24" fill="none" stroke="#1a1aff" stroke-width="1.1" stroke-dasharray="3 1.5"/>
<path d="M196.6 213.29 L210.02 207.71 L223.44 199.7 L236.87 199 L250.29 198.31 L263.71 200.22 L277.13 243.95 L290.56 200.22 L303.98 207.71 L317.4 184.02" fill="none" stroke="#ff1a1a" stroke-width="1.1"/>
<path d="M196.6 204.22 L194.6 207.72 L198.6 207.72Z" fill="#1a1aff"/>
<path d="M210.02 205.79 L208.02 209.29 L212.02 209.29Z" fill="#1a1aff"/>
<path d="M223.44 206.31 L221.44 209.81 L225.44 209.81Z" fill="#1a1aff"/>
<path d="M236.87 208.23 L234.87 211.73 L238.87 211.73Z" fill="#1a1aff"/>
<path d="M250.29 205.79 L248.29 209.29 L252.29 209.29Z" fill="#1a1aff"/>
<path d="M263.71 209.27 L261.71 212.77 L265.71 212.77Z" fill="#1a1aff"/>
<path d="M277.13 219.03 L275.13 222.53 L279.13 222.53Z" fill="#1a1aff"/>
<path d="M290.56 210.32 L288.56 213.82 L292.56 213.82Z" fill="#1a1aff"/>
<path d="M303.98 194.12 L301.98 197.62 L305.98 197.62Z" fill="#1a1aff"/>
<path d="M317.4 237.14 L315.4 240.64 L319.4 240.64Z" fill="#1a1aff"/>
<circle cx="196.6" cy="213.29" r="1.9" fill="#ff1a1a"/>
<circle cx="210.02" cy="207.71" r="1.9" fill="#ff1a1a"/>
<circle cx="223.44" cy="199.7" r="1.9" fill="#ff1a1a"/>
<circle cx="236.87" cy="199" r="1.9" fill="#ff1a1a"/>
<circle cx="250.29" cy="198.31" r="1.9" fill="#ff1a1a"/>
<circle cx="263.71" cy="200.22" r="1.9" fill="#ff1a1a"/>
<circle cx="277.13" cy="243.95" r="1.9" fill="#ff1a1a"/>
<circle cx="290.56" cy="200.22" r="1.9" fill="#ff1a1a"/>
<circle cx="303.98" cy="207.71" r="1.9" fill="#ff1a1a"/>
<circle cx="317.4" cy="184.02" r="1.9" fill="#ff1a1a"/>
<g fill="none" stroke="#000" stroke-width="0.9">
<ellipse cx="237.2" cy="209.6" rx="3.6" ry="9.3" stroke-dasharray="1.4 0.9"/>
<ellipse cx="263.3" cy="199.3" rx="3.6" ry="9.3" stroke-dasharray="1.4 0.9"/>
<path d="M236.4 219.7 L228.5 219.7" stroke-width="1.2"/>
<path d="M262.9 189.9 L272.5 189.9" stroke-width="1.2"/>
</g>
<path d="M225.6 219.7 L229.4 217.7 L229.4 221.7Z" fill="#000"/>
<path d="M275.6 189.9 L271.8 187.9 L271.8 191.9Z" fill="#000"/>
<rect x="217.2" y="232.6" width="26" height="18.4" fill="#fff" stroke="#777" stroke-width="0.5"/>
<line x1="219.2" y1="238.2" x2="230" y2="238.2" stroke="#1a1aff" stroke-width="1.1" stroke-dasharray="3 1.5"/>
<path d="M224.6 236.1 L222.6 239.6 L226.6 239.6Z" fill="#1a1aff"/>
<line x1="219.2" y1="245.2" x2="230" y2="245.2" stroke="#ff1a1a" stroke-width="1.1"/>
<circle cx="224.6" cy="245.2" r="1.9" fill="#ff1a1a"/>
<text x="233.2" y="240" font-size="5.2" font-family='"Liberation Sans", sans-serif' fill="#1a1a1a">f<tspan font-size="3.4" dy="1">m</tspan></text>
<text x="233.2" y="247" font-size="5.2" font-family='"Liberation Sans", sans-serif' fill="#1a1a1a">S<tspan font-size="3.4" dy="1">11</tspan></text>
<text x="196.6" y="268" font-size="5.0" text-anchor="middle" font-family='"Liberation Sans", sans-serif' font-weight="normal" font-style="normal" fill="#1a1a1a" stroke="#1a1a1a" stroke-width="0.15">0</text>
<text x="210.02" y="268" font-size="5.0" text-anchor="middle" font-family='"Liberation Sans", sans-serif' font-weight="normal" font-style="normal" fill="#1a1a1a" stroke="#1a1a1a" stroke-width="0.15">10</text>
<text x="223.44" y="268" font-size="5.0" text-anchor="middle" font-family='"Liberation Sans", sans-serif' font-weight="normal" font-style="normal" fill="#1a1a1a" stroke="#1a1a1a" stroke-width="0.15">20</text>
<text x="236.87" y="268" font-size="5.0" text-anchor="middle" font-family='"Liberation Sans", sans-serif' font-weight="normal" font-style="normal" fill="#1a1a1a" stroke="#1a1a1a" stroke-width="0.15">30</text>
<text x="250.29" y="268" font-size="5.0" text-anchor="middle" font-family='"Liberation Sans", sans-serif' font-weight="normal" font-style="normal" fill="#1a1a1a" stroke="#1a1a1a" stroke-width="0.15">40</text>
<text x="263.71" y="268" font-size="5.0" text-anchor="middle" font-family='"Liberation Sans", sans-serif' font-weight="normal" font-style="normal" fill="#1a1a1a" stroke="#1a1a1a" stroke-width="0.15">50</text>
<text x="277.13" y="268" font-size="5.0" text-anchor="middle" font-family='"Liberation Sans", sans-serif' font-weight="normal" font-style="normal" fill="#1a1a1a" stroke="#1a1a1a" stroke-width="0.15">60</text>
<text x="290.56" y="268" font-size="5.0" text-anchor="middle" font-family='"Liberation Sans", sans-serif' font-weight="normal" font-style="normal" fill="#1a1a1a" stroke="#1a1a1a" stroke-width="0.15">70</text>
<text x="303.98" y="268" font-size="5.0" text-anchor="middle" font-family='"Liberation Sans", sans-serif' font-weight="normal" font-style="normal" fill="#1a1a1a" stroke="#1a1a1a" stroke-width="0.15">80</text>
<text x="317.4" y="268" font-size="5.0" text-anchor="middle" font-family='"Liberation Sans", sans-serif' font-weight="normal" font-style="normal" fill="#1a1a1a" stroke="#1a1a1a" stroke-width="0.15">90</text>
<text x="193.3" y="261.6" font-size="5.0" text-anchor="end" font-family='"Liberation Sans", sans-serif' font-weight="normal" font-style="normal" fill="#1a1a1a" stroke="#1a1a1a" stroke-width="0.15">23.8</text>
<text x="193.3" y="244.18" font-size="5.0" text-anchor="end" font-family='"Liberation Sans", sans-serif' font-weight="normal" font-style="normal" fill="#1a1a1a" stroke="#1a1a1a" stroke-width="0.15">23.9</text>
<text x="193.3" y="226.76" font-size="5.0" text-anchor="end" font-family='"Liberation Sans", sans-serif' font-weight="normal" font-style="normal" fill="#1a1a1a" stroke="#1a1a1a" stroke-width="0.15">24.0</text>
<text x="193.3" y="209.34" font-size="5.0" text-anchor="end" font-family='"Liberation Sans", sans-serif' font-weight="normal" font-style="normal" fill="#1a1a1a" stroke="#1a1a1a" stroke-width="0.15">24.1</text>
<text x="193.3" y="191.92" font-size="5.0" text-anchor="end" font-family='"Liberation Sans", sans-serif' font-weight="normal" font-style="normal" fill="#1a1a1a" stroke="#1a1a1a" stroke-width="0.15">24.2</text>
<text x="320.6" y="174.5" font-size="5.0" text-anchor="start" font-family='"Liberation Sans", sans-serif' font-weight="normal" font-style="normal" fill="#1a1a1a" stroke="#1a1a1a" stroke-width="0.15">-10</text>
<text x="320.6" y="191.92" font-size="5.0" text-anchor="start" font-family='"Liberation Sans", sans-serif' font-weight="normal" font-style="normal" fill="#1a1a1a" stroke="#1a1a1a" stroke-width="0.15">-20</text>
<text x="320.6" y="209.34" font-size="5.0" text-anchor="start" font-family='"Liberation Sans", sans-serif' font-weight="normal" font-style="normal" fill="#1a1a1a" stroke="#1a1a1a" stroke-width="0.15">-30</text>
<text x="320.6" y="226.76" font-size="5.0" text-anchor="start" font-family='"Liberation Sans", sans-serif' font-weight="normal" font-style="normal" fill="#1a1a1a" stroke="#1a1a1a" stroke-width="0.15">-40</text>
<text x="320.6" y="244.18" font-size="5.0" text-anchor="start" font-family='"Liberation Sans", sans-serif' font-weight="normal" font-style="normal" fill="#1a1a1a" stroke="#1a1a1a" stroke-width="0.15">-50</text>
<text x="320.6" y="261.6" font-size="5.0" text-anchor="start" font-family='"Liberation Sans", sans-serif' font-weight="normal" font-style="normal" fill="#1a1a1a" stroke="#1a1a1a" stroke-width="0.15">-60</text>
<text x="257" y="277" font-size="5.3" text-anchor="middle" font-family='"Liberation Sans", sans-serif' font-weight="normal" font-style="normal" fill="#1a1a1a" stroke="#1a1a1a" stroke-width="0.16">Tilting angle (θ)</text>
<text transform="translate(178 216.2) rotate(-90)" font-size="5.3" text-anchor="middle" font-family='"Liberation Sans", sans-serif' fill="#1a1a1a">f<tspan font-size="3.4" dy="1">m</tspan><tspan dy="-1"> (GHz)</tspan></text>
<text transform="translate(336.6 216) rotate(-90)" font-size="5.3" text-anchor="middle" font-family='"Liberation Sans", sans-serif' fill="#1a1a1a">S<tspan font-size="3.4" dy="1">11</tspan><tspan dy="-1"> (dB)</tspan></text>
<text x="256.2" y="293.1" font-size="8.5" text-anchor="middle" font-family='"Liberation Serif", serif' font-weight="normal" font-style="normal" fill="#000" stroke="#000" stroke-width="0.26">(<tspan font-weight="bold">c</tspan>)</text>
</g>
<g id="panel-d">
<rect x="18.5" y="308.4" width="103.9" height="74.3" fill="#fff"/>
<g stroke="#d6d6d6" stroke-width="0.4" stroke-dasharray="1.4 1.1" fill="none">
<line x1="28.89" y1="308.4" x2="28.89" y2="382.7"/>
<line x1="39.28" y1="308.4" x2="39.28" y2="382.7"/>
<line x1="49.67" y1="308.4" x2="49.67" y2="382.7"/>
<line x1="60.06" y1="308.4" x2="60.06" y2="382.7"/>
<line x1="70.45" y1="308.4" x2="70.45" y2="382.7"/>
<line x1="80.84" y1="308.4" x2="80.84" y2="382.7"/>
<line x1="91.23" y1="308.4" x2="91.23" y2="382.7"/>
<line x1="101.62" y1="308.4" x2="101.62" y2="382.7"/>
<line x1="112.01" y1="308.4" x2="112.01" y2="382.7"/>
<line x1="18.5" y1="373.41" x2="122.4" y2="373.41"/>
<line x1="18.5" y1="364.12" x2="122.4" y2="364.12"/>
<line x1="18.5" y1="354.84" x2="122.4" y2="354.84"/>
<line x1="18.5" y1="345.55" x2="122.4" y2="345.55"/>
<line x1="18.5" y1="336.26" x2="122.4" y2="336.26"/>
<line x1="18.5" y1="326.97" x2="122.4" y2="326.97"/>
<line x1="18.5" y1="317.69" x2="122.4" y2="317.69"/>
</g>
<clipPath id="clipd"><rect x="18.5" y="308.4" width="103.9" height="74.3"/></clipPath>
<g clip-path="url(#clipd)" fill="none" stroke-width="0.85" stroke-linejoin="round" opacity="0.85">
<path d="M18.5 370.63 L19.8 370.15 L21.1 369.67 L22.4 369.2 L23.7 368.73 L24.99 368.26 L26.29 367.79 L27.59 367.32 L28.89 366.85 L30.19 366.39 L31.49 365.93 L32.79 365.47 L34.09 365.01 L35.38 364.56 L36.68 364.1 L37.98 363.66 L39.28 363.21 L40.58 362.77 L41.88 362.33 L43.18 361.9 L44.48 361.47 L45.77 361.05 L47.07 360.63 L48.37 360.22 L49.67 359.82 L50.97 359.42 L52.27 359.03 L53.57 358.65 L54.86 358.28 L56.16 357.92 L57.46 357.57 L58.76 357.24 L60.06 356.92 L61.36 356.62 L62.66 356.34 L63.96 356.07 L65.25 355.83 L66.55 355.6 L67.85 355.41 L69.15 355.24 L70.45 355.1 L71.75 354.98 L73.05 354.9 L74.35 354.85 L75.65 354.84 L76.94 354.87 L78.24 354.96 L79.54 355.12 L80.84 355.33 L82.14 355.6 L83.44 355.93 L84.74 356.31 L86.04 356.74 L87.33 357.21 L88.63 357.72 L89.93 358.28 L91.23 358.87 L92.53 359.49 L93.83 360.14 L95.13 360.82 L96.43 361.52 L97.72 362.25 L99.02 362.99 L100.32 363.76 L101.62 364.54 L102.92 365.34 L104.22 366.15 L105.52 366.98 L106.81 367.82 L108.11 368.66 L109.41 369.52 L110.71 370.39 L112.01 371.27 L113.31 372.15 L114.61 373.04 L115.91 373.94 L117.2 374.85 L118.5 375.76 L119.8 376.67 L121.1 377.6 L122.4 378.52" stroke="#cdcdcd" stroke-dasharray="4.92 1.64 2.95 1.64"/>
<path d="M18.5 371.09 L19.8 370.29 L21.1 369.49 L22.4 368.7 L23.7 367.91 L24.99 367.12 L26.29 366.33 L27.59 365.55 L28.89 364.76 L30.19 363.99 L31.49 363.21 L32.79 362.44 L34.09 361.68 L35.38 360.91 L36.68 360.16 L37.98 359.4 L39.28 358.66 L40.58 357.92 L41.88 357.19 L43.18 356.46 L44.48 355.74 L45.77 355.03 L47.07 354.33 L48.37 353.64 L49.67 352.97 L50.97 352.3 L52.27 351.65 L53.57 351.01 L54.86 350.39 L56.16 349.79 L57.46 349.21 L58.76 348.65 L60.06 348.12 L61.36 347.61 L62.66 347.13 L63.96 346.69 L65.25 346.28 L66.55 345.91 L67.85 345.58 L69.15 345.29 L70.45 345.05 L71.75 344.87 L73.05 344.73 L74.35 344.65 L75.65 344.62 L76.94 344.63 L78.24 344.67 L79.54 344.74 L80.84 344.83 L82.14 344.94 L83.44 345.07 L84.74 345.23 L86.04 345.4 L87.33 345.6 L88.63 345.81 L89.93 346.04 L91.23 346.28 L92.53 346.54 L93.83 346.8 L95.13 347.08 L96.43 347.37 L97.72 347.67 L99.02 347.98 L100.32 348.29 L101.62 348.62 L102.92 348.95 L104.22 349.28 L105.52 349.62 L106.81 349.97 L108.11 350.31 L109.41 350.67 L110.71 351.03 L112.01 351.39 L113.31 351.75 L114.61 352.12 L115.91 352.49 L117.2 352.86 L118.5 353.24 L119.8 353.61 L121.1 353.99 L122.4 354.37" stroke="#10e8ff" stroke-dasharray="3.77 1.23 1.48 1.48"/>
<path d="M18.5 354.84 L19.8 354.11 L21.1 353.38 L22.4 352.65 L23.7 351.92 L24.99 351.2 L26.29 350.48 L27.59 349.76 L28.89 349.04 L30.19 348.33 L31.49 347.62 L32.79 346.92 L34.09 346.21 L35.38 345.52 L36.68 344.82 L37.98 344.14 L39.28 343.45 L40.58 342.78 L41.88 342.1 L43.18 341.44 L44.48 340.78 L45.77 340.13 L47.07 339.49 L48.37 338.86 L49.67 338.24 L50.97 337.63 L52.27 337.03 L53.57 336.45 L54.86 335.88 L56.16 335.33 L57.46 334.8 L58.76 334.29 L60.06 333.8 L61.36 333.33 L62.66 332.9 L63.96 332.49 L65.25 332.11 L66.55 331.77 L67.85 331.47 L69.15 331.21 L70.45 330.99 L71.75 330.82 L73.05 330.7 L74.35 330.62 L75.65 330.6 L76.94 330.61 L78.24 330.65 L79.54 330.71 L80.84 330.8 L82.14 330.92 L83.44 331.05 L84.74 331.21 L86.04 331.39 L87.33 331.58 L88.63 331.8 L89.93 332.03 L91.23 332.27 L92.53 332.53 L93.83 332.8 L95.13 333.08 L96.43 333.38 L97.72 333.68 L99.02 333.99 L100.32 334.31 L101.62 334.63 L102.92 334.96 L104.22 335.3 L105.52 335.64 L106.81 335.99 L108.11 336.34 L109.41 336.7 L110.71 337.06 L112.01 337.43 L113.31 337.79 L114.61 338.17 L115.91 338.54 L117.2 338.92 L118.5 339.29 L119.8 339.67 L121.1 340.06 L122.4 340.44" stroke="#10e810" stroke-dasharray="4.1 1.48 1.48 1.48"/>
<path d="M18.5 347.41 L19.8 346.99 L21.1 346.57 L22.4 346.15 L23.7 345.73 L24.99 345.32 L26.29 344.9 L27.59 344.49 L28.89 344.08 L30.19 343.67 L31.49 343.26 L32.79 342.86 L34.09 342.45 L35.38 342.05 L36.68 341.65 L37.98 341.26 L39.28 340.87 L40.58 340.48 L41.88 340.1 L43.18 339.72 L44.48 339.34 L45.77 338.97 L47.07 338.6 L48.37 338.25 L49.67 337.89 L50.97 337.55 L52.27 337.21 L53.57 336.88 L54.86 336.56 L56.16 336.25 L57.46 335.96 L58.76 335.67 L60.06 335.4 L61.36 335.15 L62.66 334.92 L63.96 334.7 L65.25 334.5 L66.55 334.33 L67.85 334.18 L69.15 334.06 L70.45 333.96 L71.75 333.9 L73.05 333.86 L74.35 333.85 L75.65 333.9 L76.94 334.02 L78.24 334.22 L79.54 334.48 L80.84 334.81 L82.14 335.2 L83.44 335.66 L84.74 336.17 L86.04 336.73 L87.33 337.34 L88.63 338 L89.93 338.7 L91.23 339.43 L92.53 340.21 L93.83 341.01 L95.13 341.85 L96.43 342.71 L97.72 343.59 L99.02 344.5 L100.32 345.43 L101.62 346.38 L102.92 347.35 L104.22 348.33 L105.52 349.33 L106.81 350.34 L108.11 351.36 L109.41 352.39 L110.71 353.44 L112.01 354.49 L113.31 355.55 L114.61 356.62 L115.91 357.7 L117.2 358.79 L118.5 359.88 L119.8 360.98 L121.1 362.09 L122.4 363.2" stroke="#2838ff" stroke-dasharray="2.3 1.56"/>
<path d="M18.5 348.8 L19.8 348.14 L21.1 347.48 L22.4 346.83 L23.7 346.17 L24.99 345.52 L26.29 344.87 L27.59 344.22 L28.89 343.58 L30.19 342.94 L31.49 342.3 L32.79 341.66 L34.09 341.03 L35.38 340.4 L36.68 339.77 L37.98 339.15 L39.28 338.53 L40.58 337.92 L41.88 337.31 L43.18 336.71 L44.48 336.12 L45.77 335.53 L47.07 334.95 L48.37 334.38 L49.67 333.81 L50.97 333.26 L52.27 332.72 L53.57 332.18 L54.86 331.67 L56.16 331.16 L57.46 330.67 L58.76 330.2 L60.06 329.75 L61.36 329.32 L62.66 328.91 L63.96 328.52 L65.25 328.17 L66.55 327.84 L67.85 327.54 L69.15 327.28 L70.45 327.06 L71.75 326.87 L73.05 326.73 L74.35 326.63 L75.65 326.57 L76.94 326.56 L78.24 326.6 L79.54 326.69 L80.84 326.84 L82.14 327.05 L83.44 327.3 L84.74 327.61 L86.04 327.95 L87.33 328.35 L88.63 328.78 L89.93 329.24 L91.23 329.75 L92.53 330.28 L93.83 330.84 L95.13 331.42 L96.43 332.03 L97.72 332.66 L99.02 333.31 L100.32 333.98 L101.62 334.66 L102.92 335.36 L104.22 336.07 L105.52 336.8 L106.81 337.53 L108.11 338.28 L109.41 339.03 L110.71 339.79 L112.01 340.56 L113.31 341.34 L114.61 342.12 L115.91 342.91 L117.2 343.71 L118.5 344.51 L119.8 345.32 L121.1 346.13 L122.4 346.94" stroke="#303030" stroke-dasharray="4.92 1.64 2.95 1.64"/>
<path d="M18.5 340.91 L19.8 340.21 L21.1 339.51 L22.4 338.82 L23.7 338.13 L24.99 337.44 L26.29 336.76 L27.59 336.08 L28.89 335.4 L30.19 334.73 L31.49 334.06 L32.79 333.39 L34.09 332.73 L35.38 332.07 L36.68 331.43 L37.98 330.78 L39.28 330.15 L40.58 329.52 L41.88 328.9 L43.18 328.29 L44.48 327.69 L45.77 327.11 L47.07 326.53 L48.37 325.98 L49.67 325.44 L50.97 324.91 L52.27 324.41 L53.57 323.94 L54.86 323.49 L56.16 323.06 L57.46 322.68 L58.76 322.33 L60.06 322.02 L61.36 321.75 L62.66 321.53 L63.96 321.36 L65.25 321.24 L66.55 321.18 L67.85 321.17 L69.15 321.22 L70.45 321.3 L71.75 321.44 L73.05 321.62 L74.35 321.84 L75.65 322.1 L76.94 322.4 L78.24 322.74 L79.54 323.12 L80.84 323.53 L82.14 323.97 L83.44 324.44 L84.74 324.94 L86.04 325.46 L87.33 326.01 L88.63 326.58 L89.93 327.17 L91.23 327.77 L92.53 328.4 L93.83 329.04 L95.13 329.7 L96.43 330.37 L97.72 331.05 L99.02 331.75 L100.32 332.45 L101.62 333.17 L102.92 333.89 L104.22 334.63 L105.52 335.37 L106.81 336.12 L108.11 336.88 L109.41 337.64 L110.71 338.41 L112.01 339.18 L113.31 339.96 L114.61 340.75 L115.91 341.54 L117.2 342.33 L118.5 343.13 L119.8 343.93 L121.1 344.74 L122.4 345.55" stroke="#282898" stroke-dasharray="2.3 0.74"/>
<path d="M18.5 336.73 L19.8 336.23 L21.1 335.73 L22.4 335.23 L23.7 334.73 L24.99 334.23 L26.29 333.74 L27.59 333.25 L28.89 332.76 L30.19 332.27 L31.49 331.78 L32.79 331.3 L34.09 330.82 L35.38 330.34 L36.68 329.86 L37.98 329.39 L39.28 328.92 L40.58 328.46 L41.88 328 L43.18 327.54 L44.48 327.09 L45.77 326.64 L47.07 326.2 L48.37 325.77 L49.67 325.34 L50.97 324.92 L52.27 324.5 L53.57 324.1 L54.86 323.71 L56.16 323.32 L57.46 322.95 L58.76 322.59 L60.06 322.25 L61.36 321.92 L62.66 321.61 L63.96 321.32 L65.25 321.05 L66.55 320.8 L67.85 320.57 L69.15 320.38 L70.45 320.21 L71.75 320.07 L73.05 319.96 L74.35 319.88 L75.65 319.83 L76.94 319.82 L78.24 319.87 L79.54 319.97 L80.84 320.13 L82.14 320.35 L83.44 320.63 L84.74 320.96 L86.04 321.33 L87.33 321.75 L88.63 322.22 L89.93 322.72 L91.23 323.27 L92.53 323.84 L93.83 324.45 L95.13 325.08 L96.43 325.74 L97.72 326.42 L99.02 327.12 L100.32 327.84 L101.62 328.58 L102.92 329.33 L104.22 330.1 L105.52 330.88 L106.81 331.67 L108.11 332.48 L109.41 333.29 L110.71 334.11 L112.01 334.95 L113.31 335.79 L114.61 336.63 L115.91 337.49 L117.2 338.34 L118.5 339.21 L119.8 340.08 L121.1 340.96 L122.4 341.83" stroke="#a038c0" stroke-dasharray="3.03 1.8"/>
<path d="M18.5 336.26 L19.8 335.75 L21.1 335.23 L22.4 334.72 L23.7 334.21 L24.99 333.7 L26.29 333.19 L27.59 332.68 L28.89 332.18 L30.19 331.68 L31.49 331.18 L32.79 330.68 L34.09 330.18 L35.38 329.69 L36.68 329.2 L37.98 328.72 L39.28 328.24 L40.58 327.76 L41.88 327.29 L43.18 326.82 L44.48 326.35 L45.77 325.9 L47.07 325.44 L48.37 325 L49.67 324.56 L50.97 324.13 L52.27 323.71 L53.57 323.3 L54.86 322.9 L56.16 322.51 L57.46 322.14 L58.76 321.78 L60.06 321.43 L61.36 321.1 L62.66 320.79 L63.96 320.51 L65.25 320.24 L66.55 320 L67.85 319.79 L69.15 319.61 L70.45 319.45 L71.75 319.33 L73.05 319.24 L74.35 319.19 L75.65 319.17 L76.94 319.2 L78.24 319.29 L79.54 319.44 L80.84 319.64 L82.14 319.89 L83.44 320.2 L84.74 320.55 L86.04 320.95 L87.33 321.4 L88.63 321.88 L89.93 322.4 L91.23 322.95 L92.53 323.53 L93.83 324.14 L95.13 324.78 L96.43 325.44 L97.72 326.12 L99.02 326.82 L100.32 327.54 L101.62 328.27 L102.92 329.02 L104.22 329.78 L105.52 330.55 L106.81 331.34 L108.11 332.13 L109.41 332.94 L110.71 333.75 L112.01 334.57 L113.31 335.4 L114.61 336.24 L115.91 337.08 L117.2 337.93 L118.5 338.78 L119.8 339.64 L121.1 340.5 L122.4 341.37" stroke="#ff28ff" stroke-dasharray="3.69 0.82 1.07 1.07"/>
<path d="M18.5 331.15 L19.8 330.61 L21.1 330.06 L22.4 329.52 L23.7 328.98 L24.99 328.44 L26.29 327.91 L27.59 327.37 L28.89 326.84 L30.19 326.31 L31.49 325.78 L32.79 325.25 L34.09 324.73 L35.38 324.21 L36.68 323.69 L37.98 323.18 L39.28 322.67 L40.58 322.17 L41.88 321.67 L43.18 321.17 L44.48 320.68 L45.77 320.2 L47.07 319.72 L48.37 319.25 L49.67 318.79 L50.97 318.33 L52.27 317.89 L53.57 317.45 L54.86 317.03 L56.16 316.62 L57.46 316.22 L58.76 315.84 L60.06 315.48 L61.36 315.13 L62.66 314.8 L63.96 314.5 L65.25 314.22 L66.55 313.97 L67.85 313.74 L69.15 313.55 L70.45 313.39 L71.75 313.26 L73.05 313.17 L74.35 313.11 L75.65 313.09 L76.94 313.12 L78.24 313.2 L79.54 313.33 L80.84 313.51 L82.14 313.74 L83.44 314.01 L84.74 314.33 L86.04 314.69 L87.33 315.09 L88.63 315.52 L89.93 315.98 L91.23 316.48 L92.53 317 L93.83 317.55 L95.13 318.12 L96.43 318.71 L97.72 319.32 L99.02 319.95 L100.32 320.59 L101.62 321.25 L102.92 321.92 L104.22 322.61 L105.52 323.3 L106.81 324.01 L108.11 324.72 L109.41 325.44 L110.71 326.17 L112.01 326.91 L113.31 327.66 L114.61 328.41 L115.91 329.16 L117.2 329.92 L118.5 330.69 L119.8 331.46 L121.1 332.23 L122.4 333.01" stroke="#9c9c28" stroke-dasharray="1.8 0.82"/>
<path d="M18.5 334.87 L19.8 334.19 L21.1 333.51 L22.4 332.83 L23.7 332.15 L24.99 331.48 L26.29 330.81 L27.59 330.14 L28.89 329.47 L30.19 328.81 L31.49 328.15 L32.79 327.49 L34.09 326.84 L35.38 326.19 L36.68 325.55 L37.98 324.91 L39.28 324.27 L40.58 323.64 L41.88 323.01 L43.18 322.4 L44.48 321.78 L45.77 321.18 L47.07 320.58 L48.37 319.99 L49.67 319.42 L50.97 318.85 L52.27 318.29 L53.57 317.75 L54.86 317.22 L56.16 316.71 L57.46 316.21 L58.76 315.74 L60.06 315.28 L61.36 314.85 L62.66 314.44 L63.96 314.06 L65.25 313.71 L66.55 313.4 L67.85 313.12 L69.15 312.87 L70.45 312.67 L71.75 312.51 L73.05 312.39 L74.35 312.32 L75.65 312.3 L76.94 312.33 L78.24 312.41 L79.54 312.55 L80.84 312.73 L82.14 312.97 L83.44 313.26 L84.74 313.59 L86.04 313.96 L87.33 314.38 L88.63 314.83 L89.93 315.31 L91.23 315.82 L92.53 316.37 L93.83 316.94 L95.13 317.53 L96.43 318.15 L97.72 318.78 L99.02 319.43 L100.32 320.1 L101.62 320.79 L102.92 321.49 L104.22 322.2 L105.52 322.92 L106.81 323.65 L108.11 324.39 L109.41 325.14 L110.71 325.9 L112.01 326.67 L113.31 327.44 L114.61 328.22 L115.91 329.01 L117.2 329.8 L118.5 330.6 L119.8 331.4 L121.1 332.2 L122.4 333.01" stroke="#ff2828"/>
</g>
<path d="M18.5 308.4 L122.4 308.4 L122.4 382.7" fill="none" stroke="#9a9a9a" stroke-width="0.6"/>
<path d="M18.5 308.4 L18.5 382.7 L122.4 382.7" fill="none" stroke="#7c7c7c" stroke-width="0.7"/>
<g stroke="#505050" stroke-width="0.5">
<line x1="18.5" y1="382.7" x2="18.5" y2="384"/>
<line x1="28.89" y1="382.7" x2="28.89" y2="384"/>
<line x1="39.28" y1="382.7" x2="39.28" y2="384"/>
<line x1="49.67" y1="382.7" x2="49.67" y2="384"/>
<line x1="60.06" y1="382.7" x2="60.06" y2="384"/>
<line x1="70.45" y1="382.7" x2="70.45" y2="384"/>
<line x1="80.84" y1="382.7" x2="80.84" y2="384"/>
<line x1="91.23" y1="382.7" x2="91.23" y2="384"/>
<line x1="101.62" y1="382.7" x2="101.62" y2="384"/>
<line x1="112.01" y1="382.7" x2="112.01" y2="384"/>
<line x1="122.4" y1="382.7" x2="122.4" y2="384"/>
<line x1="17.2" y1="382.7" x2="18.5" y2="382.7"/>
<line x1="17.2" y1="373.41" x2="18.5" y2="373.41"/>
<line x1="17.2" y1="364.12" x2="18.5" y2="364.12"/>
<line x1="17.2" y1="354.84" x2="18.5" y2="354.84"/>
<line x1="17.2" y1="345.55" x2="18.5" y2="345.55"/>
<line x1="17.2" y1="336.26" x2="18.5" y2="336.26"/>
<line x1="17.2" y1="326.97" x2="18.5" y2="326.97"/>
<line x1="17.2" y1="317.69" x2="18.5" y2="317.69"/>
<line x1="17.2" y1="308.4" x2="18.5" y2="308.4"/>
</g>
<text x="18.5" y="389.8" font-size="4.2" text-anchor="middle" font-family='"Liberation Sans", sans-serif' font-weight="normal" font-style="normal" fill="#1a1a1a" stroke="#1a1a1a" stroke-width="0.13">23.0</text>
<text x="28.89" y="389.8" font-size="4.2" text-anchor="middle" font-family='"Liberation Sans", sans-serif' font-weight="normal" font-style="normal" fill="#1a1a1a" stroke="#1a1a1a" stroke-width="0.13">23.2</text>
<text x="39.28" y="389.8" font-size="4.2" text-anchor="middle" font-family='"Liberation Sans", sans-serif' font-weight="normal" font-style="normal" fill="#1a1a1a" stroke="#1a1a1a" stroke-width="0.13">23.4</text>
<text x="49.67" y="389.8" font-size="4.2" text-anchor="middle" font-family='"Liberation Sans", sans-serif' font-weight="normal" font-style="normal" fill="#1a1a1a" stroke="#1a1a1a" stroke-width="0.13">23.6</text>
<text x="60.06" y="389.8" font-size="4.2" text-anchor="middle" font-family='"Liberation Sans", sans-serif' font-weight="normal" font-style="normal" fill="#1a1a1a" stroke="#1a1a1a" stroke-width="0.13">23.8</text>
<text x="70.45" y="389.8" font-size="4.2" text-anchor="middle" font-family='"Liberation Sans", sans-serif' font-weight="normal" font-style="normal" fill="#1a1a1a" stroke="#1a1a1a" stroke-width="0.13">24.0</text>
<text x="80.84" y="389.8" font-size="4.2" text-anchor="middle" font-family='"Liberation Sans", sans-serif' font-weight="normal" font-style="normal" fill="#1a1a1a" stroke="#1a1a1a" stroke-width="0.13">24.2</text>
<text x="91.23" y="389.8" font-size="4.2" text-anchor="middle" font-family='"Liberation Sans", sans-serif' font-weight="normal" font-style="normal" fill="#1a1a1a" stroke="#1a1a1a" stroke-width="0.13">24.4</text>
<text x="101.62" y="389.8" font-size="4.2" text-anchor="middle" font-family='"Liberation Sans", sans-serif' font-weight="normal" font-style="normal" fill="#1a1a1a" stroke="#1a1a1a" stroke-width="0.13">24.6</text>
<text x="112.01" y="389.8" font-size="4.2" text-anchor="middle" font-family='"Liberation Sans", sans-serif' font-weight="normal" font-style="normal" fill="#1a1a1a" stroke="#1a1a1a" stroke-width="0.13">24.8</text>
<text x="122.4" y="389.8" font-size="4.2" text-anchor="middle" font-family='"Liberation Sans", sans-serif' font-weight="normal" font-style="normal" fill="#1a1a1a" stroke="#1a1a1a" stroke-width="0.13">25.0</text>
<text x="16.6" y="384.2" font-size="4.2" text-anchor="end" font-family='"Liberation Sans", sans-serif' font-weight="normal" font-style="normal" fill="#1a1a1a" stroke="#1a1a1a" stroke-width="0.13">-2</text>
<text x="16.6" y="374.91" font-size="4.2" text-anchor="end" font-family='"Liberation Sans", sans-serif' font-weight="normal" font-style="normal" fill="#1a1a1a" stroke="#1a1a1a" stroke-width="0.13">0</text>
<text x="16.6" y="365.62" font-size="4.2" text-anchor="end" font-family='"Liberation Sans", sans-serif' font-weight="normal" font-style="normal" fill="#1a1a1a" stroke="#1a1a1a" stroke-width="0.13">2</text>
<text x="16.6" y="356.34" font-size="4.2" text-anchor="end" font-family='"Liberation Sans", sans-serif' font-weight="normal" font-style="normal" fill="#1a1a1a" stroke="#1a1a1a" stroke-width="0.13">4</text>
<text x="16.6" y="347.05" font-size="4.2" text-anchor="end" font-family='"Liberation Sans", sans-serif' font-weight="normal" font-style="normal" fill="#1a1a1a" stroke="#1a1a1a" stroke-width="0.13">6</text>
<text x="16.6" y="337.76" font-size="4.2" text-anchor="end" font-family='"Liberation Sans", sans-serif' font-weight="normal" font-style="normal" fill="#1a1a1a" stroke="#1a1a1a" stroke-width="0.13">8</text>
<text x="16.6" y="328.47" font-size="4.2" text-anchor="end" font-family='"Liberation Sans", sans-serif' font-weight="normal" font-style="normal" fill="#1a1a1a" stroke="#1a1a1a" stroke-width="0.13">10</text>
<text x="16.6" y="319.19" font-size="4.2" text-anchor="end" font-family='"Liberation Sans", sans-serif' font-weight="normal" font-style="normal" fill="#1a1a1a" stroke="#1a1a1a" stroke-width="0.13">12</text>
<text x="16.6" y="309.9" font-size="4.2" text-anchor="end" font-family='"Liberation Sans", sans-serif' font-weight="normal" font-style="normal" fill="#1a1a1a" stroke="#1a1a1a" stroke-width="0.13">14</text>
<text x="70.3" y="396.3" font-size="4.4" text-anchor="middle" font-family='"Liberation Sans", sans-serif' font-weight="normal" font-style="normal" fill="#1a1a1a" stroke="#1a1a1a" stroke-width="0.13">Frequency (GHz)</text>
<text transform="translate(8.4 346) rotate(-90)" font-size="4.4" text-anchor="middle" font-family='"Liberation Sans", sans-serif' fill="#1a1a1a">Realized gain (dBi)</text>
<rect x="122.3" y="329.5" width="49.3" height="52.2" fill="#fff" stroke="#8a8a8a" stroke-width="0.5"/>
<line x1="124.8" y1="333.8" x2="151.7" y2="333.8" stroke="#303030" stroke-width="1" opacity="0.8" stroke-dasharray="4.92 1.64 2.95 1.64"/>
<text x="158.5" y="335" font-size="3.3" text-anchor="start" font-family='"Liberation Sans", sans-serif' font-weight="bold" font-style="normal" fill="#1a1a1a" word-spacing="-0.9" stroke="#1a1a1a" stroke-width="0.1">θ = 0°</text>
<line x1="124.8" y1="338.72" x2="151.7" y2="338.72" stroke="#10e810" stroke-width="1" opacity="0.8" stroke-dasharray="4.1 1.48 1.48 1.48"/>
<text x="158.5" y="339.92" font-size="3.3" text-anchor="start" font-family='"Liberation Sans", sans-serif' font-weight="bold" font-style="normal" fill="#1a1a1a" word-spacing="-0.9" stroke="#1a1a1a" stroke-width="0.1">θ = 10°</text>
<line x1="124.8" y1="343.64" x2="151.7" y2="343.64" stroke="#10e8ff" stroke-width="1" opacity="0.8" stroke-dasharray="3.77 1.23 1.48 1.48"/>
<text x="158.5" y="344.84" font-size="3.3" text-anchor="start" font-family='"Liberation Sans", sans-serif' font-weight="bold" font-style="normal" fill="#1a1a1a" word-spacing="-0.9" stroke="#1a1a1a" stroke-width="0.1">θ = 20°</text>
<line x1="124.8" y1="348.56" x2="151.7" y2="348.56" stroke="#cdcdcd" stroke-width="1" opacity="0.8" stroke-dasharray="4.92 1.64 2.95 1.64"/>
<text x="158.5" y="349.76" font-size="3.3" text-anchor="start" font-family='"Liberation Sans", sans-serif' font-weight="bold" font-style="normal" fill="#1a1a1a" word-spacing="-0.9" stroke="#1a1a1a" stroke-width="0.1">θ = 30°</text>
<line x1="124.8" y1="353.48" x2="151.7" y2="353.48" stroke="#2838ff" stroke-width="1" opacity="0.8" stroke-dasharray="2.3 1.56"/>
<text x="158.5" y="354.68" font-size="3.3" text-anchor="start" font-family='"Liberation Sans", sans-serif' font-weight="bold" font-style="normal" fill="#1a1a1a" word-spacing="-0.9" stroke="#1a1a1a" stroke-width="0.1">θ = 40°</text>
<line x1="124.8" y1="358.4" x2="151.7" y2="358.4" stroke="#ff28ff" stroke-width="1" opacity="0.8" stroke-dasharray="3.69 0.82 1.07 1.07"/>
<text x="158.5" y="359.6" font-size="3.3" text-anchor="start" font-family='"Liberation Sans", sans-serif' font-weight="bold" font-style="normal" fill="#1a1a1a" word-spacing="-0.9" stroke="#1a1a1a" stroke-width="0.1">θ = 50°</text>
<line x1="124.8" y1="363.32" x2="151.7" y2="363.32" stroke="#9c9c28" stroke-width="1" opacity="0.8" stroke-dasharray="1.8 0.82"/>
<text x="158.5" y="364.52" font-size="3.3" text-anchor="start" font-family='"Liberation Sans", sans-serif' font-weight="bold" font-style="normal" fill="#1a1a1a" word-spacing="-0.9" stroke="#1a1a1a" stroke-width="0.1">θ = 60°</text>
<line x1="124.8" y1="368.24" x2="151.7" y2="368.24" stroke="#ff2828" stroke-width="1" opacity="0.8"/>
<text x="158.5" y="369.44" font-size="3.3" text-anchor="start" font-family='"Liberation Sans", sans-serif' font-weight="bold" font-style="normal" fill="#1a1a1a" word-spacing="-0.9" stroke="#1a1a1a" stroke-width="0.1">θ = 70°</text>
<line x1="124.8" y1="373.16" x2="151.7" y2="373.16" stroke="#a038c0" stroke-width="1" opacity="0.8" stroke-dasharray="3.03 1.8"/>
<text x="158.5" y="374.36" font-size="3.3" text-anchor="start" font-family='"Liberation Sans", sans-serif' font-weight="bold" font-style="normal" fill="#1a1a1a" word-spacing="-0.9" stroke="#1a1a1a" stroke-width="0.1">θ = 80°</text>
<line x1="124.8" y1="378.08" x2="151.7" y2="378.08" stroke="#282898" stroke-width="1" opacity="0.8" stroke-dasharray="2.3 0.74"/>
<text x="158.5" y="379.28" font-size="3.3" text-anchor="start" font-family='"Liberation Sans", sans-serif' font-weight="bold" font-style="normal" fill="#1a1a1a" word-spacing="-0.9" stroke="#1a1a1a" stroke-width="0.1">θ = 90°</text>
<text x="88.1" y="418.7" font-size="9.3" text-anchor="middle" font-family='"Liberation Serif", serif' font-weight="normal" font-style="normal" fill="#000" stroke="#000" stroke-width="0.28">(d)</text>
</g>
<g id="panel-e">
<rect x="198.2" y="300.8" width="120.3" height="86.2" fill="#fff"/>
<g stroke="#d6d6d6" stroke-width="0.45" stroke-dasharray="1.6 1.2" fill="none">
<line x1="211.57" y1="300.8" x2="211.57" y2="387"/>
<line x1="224.93" y1="300.8" x2="224.93" y2="387"/>
<line x1="238.3" y1="300.8" x2="238.3" y2="387"/>
<line x1="251.67" y1="300.8" x2="251.67" y2="387"/>
<line x1="265.03" y1="300.8" x2="265.03" y2="387"/>
<line x1="278.4" y1="300.8" x2="278.4" y2="387"/>
<line x1="291.77" y1="300.8" x2="291.77" y2="387"/>
<line x1="305.13" y1="300.8" x2="305.13" y2="387"/>
<line x1="198.2" y1="369.76" x2="318.5" y2="369.76"/>
<line x1="198.2" y1="352.52" x2="318.5" y2="352.52"/>
<line x1="198.2" y1="335.28" x2="318.5" y2="335.28"/>
<line x1="198.2" y1="318.04" x2="318.5" y2="318.04"/>
</g>
<rect x="198.2" y="300.8" width="120.3" height="86.2" fill="none" stroke="#9a9a9a" stroke-width="0.6"/>
<path d="M198.2 300.8 L198.2 387 L318.5 387" fill="none" stroke="#7c7c7c" stroke-width="0.7"/>
<g stroke="#505050" stroke-width="0.55">
<line x1="198.2" y1="387" x2="198.2" y2="388.5"/>
<line x1="211.57" y1="387" x2="211.57" y2="388.5"/>
<line x1="224.93" y1="387" x2="224.93" y2="388.5"/>
<line x1="238.3" y1="387" x2="238.3" y2="388.5"/>
<line x1="251.67" y1="387" x2="251.67" y2="388.5"/>
<line x1="265.03" y1="387" x2="265.03" y2="388.5"/>
<line x1="278.4" y1="387" x2="278.4" y2="388.5"/>
<line x1="291.77" y1="387" x2="291.77" y2="388.5"/>
<line x1="305.13" y1="387" x2="305.13" y2="388.5"/>
<line x1="318.5" y1="387" x2="318.5" y2="388.5"/>
<line x1="196.7" y1="387" x2="198.2" y2="387"/>
<line x1="318.5" y1="387" x2="320" y2="387"/>
<line x1="196.7" y1="369.76" x2="198.2" y2="369.76"/>
<line x1="318.5" y1="369.76" x2="320" y2="369.76"/>
<line x1="196.7" y1="352.52" x2="198.2" y2="352.52"/>
<line x1="318.5" y1="352.52" x2="320" y2="352.52"/>
<line x1="196.7" y1="335.28" x2="198.2" y2="335.28"/>
<line x1="318.5" y1="335.28" x2="320" y2="335.28"/>
<line x1="196.7" y1="318.04" x2="198.2" y2="318.04"/>
<line x1="318.5" y1="318.04" x2="320" y2="318.04"/>
<line x1="318.5" y1="300.8" x2="320" y2="300.8"/>
</g>
<path d="M198.2 334.5 L211.57 342 L224.93 368.04 L238.3 387 L251.67 348.04 L265.03 320.8 L278.4 309.51 L291.77 308.04 L305.13 322.01 L318.5 324.5" fill="none" stroke="#ff10ff" stroke-width="1.1"/>
<path d="M198.2 330.97 L211.57 318.04 L224.93 330.97 L238.3 335.28 L251.67 330.97 L265.03 335.28 L278.4 335.28 L291.77 335.28 L305.13 330.97 L318.5 369.76" fill="none" stroke="#109a10" stroke-width="1.1" stroke-dasharray="3 1.5"/>
<path d="M198.2 336.6 L196.2 333.1 L200.2 333.1Z" fill="#ff10ff"/>
<path d="M211.57 344.1 L209.57 340.6 L213.57 340.6Z" fill="#ff10ff"/>
<path d="M224.93 370.14 L222.93 366.64 L226.93 366.64Z" fill="#ff10ff"/>
<path d="M238.3 389.1 L236.3 385.6 L240.3 385.6Z" fill="#ff10ff"/>
<path d="M251.67 350.14 L249.67 346.64 L253.67 346.64Z" fill="#ff10ff"/>
<path d="M265.03 322.9 L263.03 319.4 L267.03 319.4Z" fill="#ff10ff"/>
<path d="M278.4 311.61 L276.4 308.11 L280.4 308.11Z" fill="#ff10ff"/>
<path d="M291.77 310.14 L289.77 306.64 L293.77 306.64Z" fill="#ff10ff"/>
<path d="M305.13 324.11 L303.13 320.61 L307.13 320.61Z" fill="#ff10ff"/>
<path d="M318.5 326.61 L316.5 323.11 L320.5 323.11Z" fill="#ff10ff"/>
<rect x="196.45" y="329.22" width="3.5" height="3.5" fill="#109a10"/>
<rect x="209.82" y="316.29" width="3.5" height="3.5" fill="#109a10"/>
<rect x="223.18" y="329.22" width="3.5" height="3.5" fill="#109a10"/>
<rect x="236.55" y="333.53" width="3.5" height="3.5" fill="#109a10"/>
<rect x="249.92" y="329.22" width="3.5" height="3.5" fill="#109a10"/>
<rect x="263.28" y="333.53" width="3.5" height="3.5" fill="#109a10"/>
<rect x="276.65" y="333.53" width="3.5" height="3.5" fill="#109a10"/>
<rect x="290.02" y="333.53" width="3.5" height="3.5" fill="#109a10"/>
<rect x="303.38" y="329.22" width="3.5" height="3.5" fill="#109a10"/>
<rect x="316.75" y="368.01" width="3.5" height="3.5" fill="#109a10"/>
<g fill="none" stroke="#000" stroke-width="0.9">
<ellipse cx="238.3" cy="335.3" rx="3.6" ry="8.7" stroke-dasharray="1.4 0.9"/>
<ellipse cx="251.6" cy="348.3" rx="3.6" ry="9" stroke-dasharray="1.4 0.9"/>
<path d="M237.5 344.2 L230.5 344.2" stroke-width="1.2"/>
<path d="M251.5 357.6 L260 357.6" stroke-width="1.2"/>
</g>
<path d="M227.6 344.2 L231.4 342.2 L231.4 346.2Z" fill="#000"/>
<path d="M263.2 357.6 L259.4 355.6 L259.4 359.6Z" fill="#000"/>
<rect x="258.6" y="362.2" width="50.2" height="16.6" fill="#fff" stroke="#777" stroke-width="0.5"/>
<line x1="260.6" y1="366.8" x2="271.8" y2="366.8" stroke="#109a10" stroke-width="1.1" stroke-dasharray="3 1.5"/>
<rect x="264.45" y="365.05" width="3.5" height="3.5" fill="#109a10"/>
<line x1="260.6" y1="373.3" x2="271.8" y2="373.3" stroke="#ff10ff" stroke-width="1.1"/>
<path d="M266.2 375.4 L264.2 371.9 L268.2 371.9Z" fill="#ff10ff"/>
<text x="276" y="368.6" font-size="5.2" font-family='"Liberation Sans", sans-serif' fill="#1a1a1a">f<tspan font-size="3.4" dy="1">m</tspan></text>
<text x="276" y="375" font-size="4.8" font-family='"Liberation Sans", sans-serif' fill="#1a1a1a">Maximum gain</text>
<text x="198.2" y="395.6" font-size="5.0" text-anchor="middle" font-family='"Liberation Sans", sans-serif' font-weight="normal" font-style="normal" fill="#1a1a1a" stroke="#1a1a1a" stroke-width="0.15">0</text>
<text x="211.57" y="395.6" font-size="5.0" text-anchor="middle" font-family='"Liberation Sans", sans-serif' font-weight="normal" font-style="normal" fill="#1a1a1a" stroke="#1a1a1a" stroke-width="0.15">10</text>
<text x="224.93" y="395.6" font-size="5.0" text-anchor="middle" font-family='"Liberation Sans", sans-serif' font-weight="normal" font-style="normal" fill="#1a1a1a" stroke="#1a1a1a" stroke-width="0.15">20</text>
<text x="238.3" y="395.6" font-size="5.0" text-anchor="middle" font-family='"Liberation Sans", sans-serif' font-weight="normal" font-style="normal" fill="#1a1a1a" stroke="#1a1a1a" stroke-width="0.15">30</text>
<text x="251.67" y="395.6" font-size="5.0" text-anchor="middle" font-family='"Liberation Sans", sans-serif' font-weight="normal" font-style="normal" fill="#1a1a1a" stroke="#1a1a1a" stroke-width="0.15">40</text>
<text x="265.03" y="395.6" font-size="5.0" text-anchor="middle" font-family='"Liberation Sans", sans-serif' font-weight="normal" font-style="normal" fill="#1a1a1a" stroke="#1a1a1a" stroke-width="0.15">50</text>
<text x="278.4" y="395.6" font-size="5.0" text-anchor="middle" font-family='"Liberation Sans", sans-serif' font-weight="normal" font-style="normal" fill="#1a1a1a" stroke="#1a1a1a" stroke-width="0.15">60</text>
<text x="291.77" y="395.6" font-size="5.0" text-anchor="middle" font-family='"Liberation Sans", sans-serif' font-weight="normal" font-style="normal" fill="#1a1a1a" stroke="#1a1a1a" stroke-width="0.15">70</text>
<text x="305.13" y="395.6" font-size="5.0" text-anchor="middle" font-family='"Liberation Sans", sans-serif' font-weight="normal" font-style="normal" fill="#1a1a1a" stroke="#1a1a1a" stroke-width="0.15">80</text>
<text x="318.5" y="395.6" font-size="5.0" text-anchor="middle" font-family='"Liberation Sans", sans-serif' font-weight="normal" font-style="normal" fill="#1a1a1a" stroke="#1a1a1a" stroke-width="0.15">90</text>
<text x="195" y="388.8" font-size="5.0" text-anchor="end" font-family='"Liberation Sans", sans-serif' font-weight="normal" font-style="normal" fill="#1a1a1a" stroke="#1a1a1a" stroke-width="0.15">23.8</text>
<text x="195" y="371.56" font-size="5.0" text-anchor="end" font-family='"Liberation Sans", sans-serif' font-weight="normal" font-style="normal" fill="#1a1a1a" stroke="#1a1a1a" stroke-width="0.15">23.9</text>
<text x="195" y="354.32" font-size="5.0" text-anchor="end" font-family='"Liberation Sans", sans-serif' font-weight="normal" font-style="normal" fill="#1a1a1a" stroke="#1a1a1a" stroke-width="0.15">24.0</text>
<text x="195" y="337.08" font-size="5.0" text-anchor="end" font-family='"Liberation Sans", sans-serif' font-weight="normal" font-style="normal" fill="#1a1a1a" stroke="#1a1a1a" stroke-width="0.15">24.1</text>
<text x="195" y="319.84" font-size="5.0" text-anchor="end" font-family='"Liberation Sans", sans-serif' font-weight="normal" font-style="normal" fill="#1a1a1a" stroke="#1a1a1a" stroke-width="0.15">24.2</text>
<text x="321.6" y="388.8" font-size="5.0" text-anchor="start" font-family='"Liberation Sans", sans-serif' font-weight="normal" font-style="normal" fill="#1a1a1a" stroke="#1a1a1a" stroke-width="0.15">4</text>
<text x="321.6" y="371.56" font-size="5.0" text-anchor="start" font-family='"Liberation Sans", sans-serif' font-weight="normal" font-style="normal" fill="#1a1a1a" stroke="#1a1a1a" stroke-width="0.15">6</text>
<text x="321.6" y="354.32" font-size="5.0" text-anchor="start" font-family='"Liberation Sans", sans-serif' font-weight="normal" font-style="normal" fill="#1a1a1a" stroke="#1a1a1a" stroke-width="0.15">8</text>
<text x="321.6" y="337.08" font-size="5.0" text-anchor="start" font-family='"Liberation Sans", sans-serif' font-weight="normal" font-style="normal" fill="#1a1a1a" stroke="#1a1a1a" stroke-width="0.15">10</text>
<text x="321.6" y="319.84" font-size="5.0" text-anchor="start" font-family='"Liberation Sans", sans-serif' font-weight="normal" font-style="normal" fill="#1a1a1a" stroke="#1a1a1a" stroke-width="0.15">12</text>
<text x="321.6" y="302.6" font-size="5.0" text-anchor="start" font-family='"Liberation Sans", sans-serif' font-weight="normal" font-style="normal" fill="#1a1a1a" stroke="#1a1a1a" stroke-width="0.15">14</text>
<text x="258.5" y="404.5" font-size="5.3" text-anchor="middle" font-family='"Liberation Sans", sans-serif' font-weight="normal" font-style="normal" fill="#1a1a1a" stroke="#1a1a1a" stroke-width="0.16">Tilting angle (θ)</text>
<text transform="translate(179.3 344) rotate(-90)" font-size="5.3" text-anchor="middle" font-family='"Liberation Sans", sans-serif' fill="#1a1a1a">f<tspan font-size="3.4" dy="1">m</tspan><tspan dy="-1"> (GHz)</tspan></text>
<text transform="translate(336 345.1) rotate(-90)" font-size="5.3" text-anchor="middle" font-family='"Liberation Sans", sans-serif' fill="#1a1a1a">Maximum gain (dBi)</text>
<text x="256.2" y="418.8" font-size="9.3" text-anchor="middle" font-family='"Liberation Serif", serif' font-weight="normal" font-style="normal" fill="#000" stroke="#000" stroke-width="0.28">(e)</text>
</g>
<g id="panel-f">
<g fill="none" stroke="#5e5e5e" stroke-width="0.5">
<circle cx="58" cy="480.7" r="8.56"/>
<circle cx="58" cy="480.7" r="17.12"/>
<circle cx="58" cy="480.7" r="25.68"/>
<circle cx="58" cy="480.7" r="34.24"/>
<line x1="58" y1="523.5" x2="58" y2="437.9"/>
<line x1="36.6" y1="517.77" x2="79.4" y2="443.63"/>
<line x1="20.93" y1="502.1" x2="95.07" y2="459.3"/>
<line x1="15.2" y1="480.7" x2="100.8" y2="480.7"/>
<line x1="20.93" y1="459.3" x2="95.07" y2="502.1"/>
<line x1="36.6" y1="443.63" x2="79.4" y2="517.77"/>
</g>
<circle cx="58" cy="480.7" r="42.8" fill="none" stroke="#444" stroke-width="0.6"/>
<path d="M58 497.7 L57.43 497.12 L56.91 496.31 L56.46 495.31 L56.17 493.74 L56.07 491.64 L56.07 489.8 L55.94 488.97 L55.58 489.15 L55.06 489.74 L54.41 490.57 L53.63 491.52 L52.78 492.42 L51.92 493.16 L51.14 493.6 L50.43 493.82 L49.72 493.94 L49.03 494 L48.35 493.99 L47.67 493.93 L46.99 493.82 L46.31 493.68 L45.62 493.52 L44.91 493.34 L44.18 493.14 L43.42 492.94 L42.61 492.72 L41.79 492.48 L40.94 492.21 L40.07 491.9 L39.2 491.56 L38.31 491.17 L37.42 490.74 L36.54 490.25 L35.66 489.72 L34.81 489.14 L33.93 488.52 L33.03 487.86 L32.12 487.15 L31.21 486.39 L30.34 485.58 L29.51 484.7 L28.76 483.77 L28.09 482.79 L27.54 481.76 L27.13 480.7 L26.83 479.61 L26.61 478.5 L26.46 477.38 L26.37 476.25 L26.34 475.12 L26.36 473.97 L26.42 472.83 L26.51 471.67 L26.64 470.51 L26.78 469.34 L26.91 468.14 L27.04 466.92 L27.2 465.68 L27.42 464.44 L27.71 463.21 L28.12 462.03 L28.66 460.91 L29.33 459.87 L30.05 458.87 L30.82 457.89 L31.62 456.94 L32.45 456.03 L33.32 455.15 L34.23 454.3 L35.16 453.48 L36.18 452.78 L37.33 452.25 L38.56 451.87 L39.84 451.64 L41.15 451.51 L42.45 451.46 L43.74 451.46 L44.99 451.48 L46.19 451.48 L47.34 451.42 L48.46 451.35 L49.58 451.32 L50.68 451.33 L51.77 451.37 L52.84 451.43 L53.9 451.5 L54.94 451.58 L55.97 451.64 L56.99 451.68 L58 451.7 L59.01 451.68 L60.03 451.62 L61.06 451.54 L62.11 451.46 L63.17 451.38 L64.25 451.31 L65.34 451.28 L66.43 451.29 L67.54 451.35 L68.64 451.48 L69.73 451.66 L70.83 451.88 L71.94 452.13 L73.04 452.42 L74.13 452.75 L75.23 453.13 L76.31 453.56 L77.37 454.04 L78.42 454.57 L79.44 455.15 L80.45 455.77 L81.45 456.42 L82.43 457.11 L83.38 457.85 L84.29 458.64 L85.14 459.5 L85.92 460.42 L86.6 461.41 L87.16 462.48 L87.61 463.61 L87.96 464.77 L88.23 465.96 L88.46 467.14 L88.66 468.31 L88.87 469.47 L89.08 470.6 L89.27 471.73 L89.43 472.86 L89.56 473.99 L89.66 475.12 L89.7 476.24 L89.7 477.37 L89.63 478.49 L89.49 479.6 L89.28 480.7 L88.94 481.78 L88.44 482.83 L87.81 483.83 L87.06 484.78 L86.22 485.68 L85.31 486.5 L84.34 487.27 L83.35 487.97 L82.35 488.61 L81.36 489.2 L80.34 489.72 L79.22 490.15 L78.06 490.48 L76.87 490.73 L75.69 490.91 L74.54 491.04 L73.45 491.12 L72.45 491.2 L71.55 491.28 L70.76 491.41 L70.08 491.57 L69.44 491.75 L68.85 491.93 L68.28 492.11 L67.72 492.29 L67.17 492.44 L66.61 492.56 L66.05 492.63 L65.47 492.65 L64.86 492.59 L64.24 492.44 L63.53 492.03 L62.71 491.29 L61.89 490.34 L61.14 489.34 L60.51 488.44 L60.04 487.8 L59.72 487.59 L59.72 488.81 L59.91 491.51 L59.93 494.41 L59.63 496.21 L59.14 496.95 L58.59 497.49 L58 497.7Z" fill="none" stroke="#cdcdcd" stroke-width="0.75" stroke-linejoin="round" stroke-dasharray="2.2 0.9 0.8 0.9 0.8 0.9"/>
<path d="M58 498.7 L57.37 498.66 L56.75 498.54 L56.15 498.34 L55.56 498.08 L54.99 497.74 L54.46 497.35 L53.96 496.89 L53.68 495.75 L53.75 493.79 L53.98 491.75 L54.1 490.34 L53.81 490.11 L53.18 490.58 L52.32 491.38 L51.32 492.26 L50.34 492.96 L49.53 493.25 L48.91 493.22 L48.32 493.09 L47.76 492.9 L47.23 492.66 L46.7 492.4 L46.17 492.12 L45.62 491.85 L45.02 491.59 L44.37 491.35 L43.66 491.12 L42.9 490.89 L42.1 490.64 L41.25 490.37 L40.38 490.07 L39.49 489.73 L38.59 489.34 L37.69 488.91 L36.8 488.42 L35.86 487.89 L34.83 487.34 L33.74 486.75 L32.63 486.09 L31.54 485.37 L30.51 484.56 L29.57 483.69 L28.77 482.74 L28.15 481.74 L27.74 480.7 L27.5 479.63 L27.35 478.56 L27.27 477.47 L27.26 476.38 L27.3 475.29 L27.38 474.19 L27.49 473.09 L27.63 471.99 L27.77 470.88 L27.92 469.75 L28.01 468.58 L28.01 467.35 L27.99 466.06 L28.02 464.76 L28.14 463.46 L28.41 462.21 L28.88 461.06 L29.56 460.04 L30.31 459.06 L31.1 458.12 L31.92 457.22 L32.79 456.35 L33.68 455.52 L34.61 454.73 L35.57 453.97 L36.57 453.27 L37.63 452.66 L38.73 452.13 L39.86 451.67 L41.01 451.27 L42.17 450.93 L43.34 450.64 L44.5 450.39 L45.66 450.16 L46.81 449.95 L47.95 449.77 L49.1 449.65 L50.24 449.58 L51.38 449.55 L52.51 449.56 L53.63 449.58 L54.73 449.62 L55.83 449.66 L56.92 449.69 L58 449.7 L59.08 449.67 L60.18 449.58 L61.28 449.46 L62.41 449.32 L63.56 449.18 L64.73 449.06 L65.91 448.97 L67.11 448.94 L68.31 448.98 L69.5 449.1 L70.69 449.28 L71.9 449.49 L73.11 449.72 L74.32 450 L75.53 450.34 L76.72 450.75 L77.88 451.23 L79 451.8 L80.06 452.46 L81.06 453.21 L81.98 454.06 L82.83 454.99 L83.61 455.97 L84.32 457 L84.98 458.06 L85.6 459.14 L86.18 460.23 L86.74 461.32 L87.25 462.42 L87.72 463.54 L88.15 464.67 L88.53 465.81 L88.85 466.96 L89.13 468.12 L89.35 469.29 L89.52 470.46 L89.65 471.62 L89.73 472.79 L89.76 473.95 L89.73 475.11 L89.65 476.25 L89.51 477.39 L89.31 478.51 L89.05 479.62 L88.72 480.7 L88.32 481.76 L87.83 482.79 L87.26 483.78 L86.62 484.72 L85.92 485.62 L85.16 486.47 L84.36 487.27 L83.51 488.01 L82.63 488.7 L81.73 489.34 L80.74 489.89 L79.64 490.33 L78.45 490.68 L77.23 490.93 L76.02 491.11 L74.85 491.23 L73.76 491.33 L72.78 491.44 L71.94 491.59 L71.25 491.82 L70.68 492.12 L70.15 492.43 L69.65 492.76 L69.14 493.08 L68.63 493.37 L68.09 493.62 L67.52 493.8 L66.91 493.9 L66.02 493.53 L64.83 492.52 L63.6 491.22 L62.54 490 L61.81 489.25 L61.56 489.51 L61.89 491.39 L62.35 494.09 L62.56 496.6 L62.27 497.84 L61.69 498.07 L61.1 498.26 L60.49 498.42 L59.88 498.54 L59.25 498.63 L58.63 498.68 L58 498.7Z" fill="none" stroke="#10e8ff" stroke-width="0.75" stroke-linejoin="round" stroke-dasharray="2 0.9 0.7 0.9"/>
<path d="M58 499.7 L57.36 498.98 L56.78 498.09 L56.28 497.04 L55.88 495.78 L55.67 493.9 L55.63 491.86 L55.63 490.2 L55.48 489.48 L55.06 489.75 L54.4 490.6 L53.53 491.77 L52.5 493.05 L51.41 494.21 L50.37 495.04 L49.53 495.36 L48.86 495.33 L48.22 495.2 L47.6 495.01 L47.01 494.77 L46.43 494.48 L45.87 494.17 L45.31 493.85 L44.73 493.51 L44.13 493.18 L43.5 492.86 L42.8 492.57 L42.03 492.31 L41.17 492.05 L40.27 491.78 L39.31 491.49 L38.33 491.16 L37.34 490.78 L36.35 490.34 L35.4 489.83 L34.49 489.26 L33.59 488.63 L32.64 487.97 L31.67 487.26 L30.72 486.5 L29.8 485.67 L28.95 484.78 L28.2 483.83 L27.57 482.83 L27.1 481.78 L26.81 480.7 L26.66 479.61 L26.59 478.5 L26.58 477.4 L26.63 476.29 L26.72 475.19 L26.86 474.08 L27.03 472.98 L27.22 471.87 L27.43 470.77 L27.64 469.65 L27.79 468.5 L27.85 467.28 L27.87 466.01 L27.92 464.7 L28.03 463.39 L28.25 462.11 L28.64 460.89 L29.19 459.77 L29.82 458.68 L30.5 457.62 L31.22 456.59 L32.01 455.6 L32.84 454.65 L33.73 453.75 L34.68 452.9 L35.67 452.12 L36.72 451.4 L37.8 450.75 L38.91 450.16 L40.06 449.62 L41.22 449.14 L42.4 448.71 L43.59 448.32 L44.78 447.98 L45.98 447.67 L47.19 447.43 L48.41 447.26 L49.64 447.16 L50.86 447.12 L52.08 447.12 L53.28 447.15 L54.48 447.19 L55.66 447.24 L56.83 447.28 L58 447.3 L59.17 447.32 L60.33 447.37 L61.49 447.46 L62.65 447.59 L63.81 447.75 L64.96 447.95 L66.11 448.19 L67.24 448.46 L68.37 448.77 L69.49 449.12 L70.62 449.46 L71.77 449.77 L72.94 450.06 L74.13 450.37 L75.32 450.71 L76.5 451.09 L77.67 451.54 L78.79 452.08 L79.87 452.71 L80.86 453.45 L81.78 454.29 L82.62 455.2 L83.41 456.17 L84.13 457.17 L84.8 458.21 L85.44 459.26 L86.05 460.32 L86.63 461.39 L87.19 462.46 L87.71 463.55 L88.19 464.65 L88.63 465.76 L89.03 466.89 L89.37 468.03 L89.65 469.18 L89.88 470.34 L90.06 471.51 L90.2 472.67 L90.27 473.84 L90.29 475.01 L90.25 476.17 L90.15 477.32 L89.98 478.46 L89.74 479.59 L89.43 480.7 L88.96 481.78 L88.3 482.82 L87.47 483.8 L86.52 484.71 L85.49 485.55 L84.43 486.32 L83.36 487.02 L82.33 487.68 L81.38 488.3 L80.55 488.91 L79.79 489.5 L79.04 490.07 L78.32 490.61 L77.6 491.12 L76.89 491.61 L76.19 492.06 L75.48 492.49 L74.78 492.89 L74.08 493.26 L73.37 493.59 L72.67 493.91 L72 494.22 L71.34 494.52 L70.69 494.8 L70.04 495.05 L69.37 495.26 L68.69 495.41 L67.99 495.51 L67.26 495.52 L66.51 495.44 L65.62 495.03 L64.57 494.18 L63.5 493.05 L62.5 491.83 L61.65 490.72 L61 489.93 L60.57 489.68 L60.43 490.44 L60.44 492.16 L60.39 494.27 L60.17 496.16 L59.75 497.36 L59.23 498.33 L58.64 499.12 L58 499.7Z" fill="none" stroke="#10e810" stroke-width="0.75" stroke-linejoin="round" stroke-dasharray="2 0.9 0.7 0.9"/>
<path d="M58 500.7 L57.31 500.57 L56.64 500.21 L56.01 499.66 L55.43 498.98 L54.91 498.2 L54.48 497.24 L54.31 495.52 L54.33 493.51 L54.39 491.82 L54.23 491.04 L53.72 491.29 L52.92 492.11 L51.91 493.2 L50.77 494.29 L49.67 495.13 L48.77 495.48 L48.05 495.46 L47.37 495.33 L46.72 495.13 L46.1 494.88 L45.5 494.59 L44.9 494.27 L44.28 493.95 L43.64 493.63 L42.94 493.33 L42.15 493.08 L41.24 492.88 L40.22 492.69 L39.13 492.49 L37.98 492.26 L36.81 491.97 L35.64 491.6 L34.52 491.15 L33.48 490.61 L32.55 489.96 L31.71 489.24 L30.89 488.47 L30.1 487.66 L29.36 486.79 L28.67 485.87 L28.05 484.91 L27.49 483.91 L27.01 482.87 L26.62 481.8 L26.33 480.7 L26.12 479.59 L25.98 478.46 L25.9 477.33 L25.88 476.19 L25.92 475.04 L26 473.9 L26.12 472.75 L26.28 471.6 L26.47 470.45 L26.68 469.3 L26.93 468.15 L27.22 467 L27.55 465.85 L27.92 464.71 L28.33 463.57 L28.77 462.44 L29.26 461.31 L29.77 460.19 L30.28 459.05 L30.82 457.89 L31.39 456.74 L32.03 455.62 L32.75 454.55 L33.56 453.56 L34.48 452.67 L35.49 451.89 L36.56 451.19 L37.67 450.56 L38.82 450 L39.99 449.5 L41.18 449.06 L42.37 448.66 L43.58 448.31 L44.78 447.98 L45.98 447.67 L47.18 447.4 L48.39 447.18 L49.6 447.01 L50.81 446.88 L52.02 446.79 L53.23 446.73 L54.43 446.7 L55.62 446.69 L56.81 446.69 L58 446.7 L59.19 446.73 L60.37 446.81 L61.55 446.92 L62.73 447.08 L63.89 447.27 L65.06 447.5 L66.21 447.78 L67.35 448.09 L68.48 448.43 L69.6 448.82 L70.74 449.18 L71.91 449.47 L73.11 449.72 L74.35 449.96 L75.6 450.22 L76.85 450.54 L78.08 450.93 L79.27 451.42 L80.4 452.03 L81.43 452.77 L82.38 453.62 L83.27 454.53 L84.1 455.49 L84.88 456.5 L85.59 457.55 L86.25 458.63 L86.85 459.74 L87.37 460.89 L87.61 462.2 L87.61 463.61 L87.45 465.04 L87.22 466.45 L87.02 467.78 L86.96 469 L87.14 470.09 L87.46 471.13 L87.76 472.17 L88.02 473.21 L88.25 474.27 L88.45 475.33 L88.61 476.4 L88.73 477.47 L88.81 478.55 L88.85 479.62 L88.83 480.7 L88.7 481.77 L88.38 482.82 L87.89 483.84 L87.28 484.81 L86.55 485.73 L85.75 486.6 L84.9 487.41 L84.02 488.16 L83.13 488.87 L82.28 489.54 L81.41 490.16 L80.47 490.7 L79.49 491.18 L78.49 491.6 L77.49 491.95 L76.49 492.25 L75.52 492.52 L74.59 492.75 L73.71 492.97 L72.89 493.2 L72.14 493.43 L71.43 493.67 L70.75 493.9 L70.09 494.12 L69.43 494.32 L68.76 494.47 L68.07 494.56 L67.36 494.58 L66.62 494.5 L65.77 494.16 L64.81 493.51 L63.86 492.71 L63 491.94 L62.32 491.38 L61.84 491.24 L61.64 491.89 L61.61 493.27 L61.56 494.96 L61.36 496.49 L60.96 497.5 L60.48 498.35 L59.94 499.13 L59.34 499.8 L58.69 500.33 L58 500.7Z" fill="none" stroke="#303030" stroke-width="0.75" stroke-linejoin="round" stroke-dasharray="2.2 0.9 0.8 0.9 0.8 0.9"/>
<path d="M58 500.7 L57.34 499.65 L56.75 498.61 L56.22 497.59 L55.77 496.58 L55.37 495.61 L55.06 494.52 L54.84 493.36 L54.66 492.34 L54.44 491.66 L54.06 491.52 L53.49 491.86 L52.76 492.46 L51.93 493.14 L51.09 493.7 L50.33 493.98 L49.67 494.03 L49.01 494.03 L48.36 493.97 L47.72 493.86 L47.09 493.7 L46.48 493.49 L45.89 493.24 L45.32 492.95 L44.76 492.62 L44.24 492.25 L43.73 491.85 L43.26 491.41 L42.81 490.95 L42.38 490.46 L41.98 489.95 L41.59 489.42 L41.22 488.88 L40.86 488.33 L40.5 487.77 L40.15 487.2 L39.8 486.62 L39.44 486.02 L39.09 485.41 L38.75 484.79 L38.42 484.15 L38.1 483.5 L37.8 482.82 L37.52 482.13 L37.27 481.42 L37.04 480.7 L36.83 479.96 L36.65 479.21 L36.49 478.44 L36.35 477.66 L36.24 476.86 L36.16 476.06 L36.1 475.24 L36.07 474.41 L36.08 473.58 L36.12 472.74 L36.2 471.89 L36.32 471.05 L36.49 470.21 L36.69 469.37 L36.93 468.54 L37.19 467.7 L37.46 466.85 L37.74 465.98 L38.03 465.09 L38.26 464.14 L38.44 463.09 L38.6 461.97 L38.79 460.8 L39.03 459.63 L39.36 458.48 L39.8 457.4 L40.31 456.35 L40.86 455.28 L41.45 454.21 L42.11 453.17 L42.84 452.18 L43.65 451.27 L44.54 450.47 L45.52 449.8 L46.57 449.31 L47.68 448.94 L48.8 448.62 L49.94 448.35 L51.08 448.14 L52.23 447.97 L53.38 447.84 L54.54 447.75 L55.69 447.7 L56.85 447.69 L58 447.7 L59.15 447.75 L60.3 447.83 L61.44 447.95 L62.58 448.1 L63.71 448.3 L64.84 448.53 L65.95 448.81 L67.05 449.13 L68.14 449.5 L69.21 449.9 L70.25 450.38 L71.25 450.93 L72.21 451.56 L73.12 452.26 L73.98 453.03 L74.78 453.85 L75.53 454.72 L76.21 455.63 L76.85 456.58 L77.29 457.71 L77.46 459.09 L77.42 460.59 L77.25 462.11 L77.06 463.54 L76.95 464.8 L77.04 465.83 L77.26 466.71 L77.46 467.57 L77.66 468.42 L77.85 469.24 L78.04 470.04 L78.25 470.82 L78.49 471.58 L78.76 472.31 L79.04 473.04 L79.29 473.78 L79.52 474.53 L79.72 475.28 L79.9 476.05 L80.05 476.81 L80.17 477.58 L80.26 478.36 L80.33 479.14 L80.37 479.92 L80.38 480.7 L80.31 481.48 L80.09 482.24 L79.76 482.99 L79.33 483.7 L78.83 484.37 L78.28 485.01 L77.71 485.61 L77.12 486.18 L76.56 486.73 L76.03 487.26 L75.51 487.77 L74.96 488.25 L74.4 488.7 L73.83 489.12 L73.26 489.51 L72.69 489.88 L72.14 490.24 L71.61 490.59 L71.1 490.93 L70.62 491.29 L70.16 491.65 L69.71 492.01 L69.27 492.37 L68.82 492.71 L68.36 493.04 L67.89 493.36 L67.4 493.64 L66.9 493.9 L66.38 494.11 L65.83 494.27 L65.13 494.1 L64.24 493.49 L63.32 492.65 L62.51 491.87 L61.89 491.4 L61.52 491.52 L61.31 492.24 L61.15 493.34 L60.95 494.57 L60.64 495.7 L60.25 496.69 L59.79 497.69 L59.26 498.7 L58.66 499.7 L58 500.7Z" fill="none" stroke="#2838ff" stroke-width="0.75" stroke-linejoin="round" stroke-dasharray="1.7 1"/>
<path d="M58 499.7 L57.34 499.53 L56.71 499.19 L56.11 498.7 L55.55 498.1 L55.05 497.41 L54.61 496.65 L54.22 495.85 L53.99 494.69 L53.97 493.11 L54.07 491.49 L54.16 490.21 L54.03 489.62 L53.52 489.88 L52.69 490.69 L51.65 491.69 L50.6 492.54 L49.74 492.94 L49.09 492.97 L48.45 492.92 L47.84 492.8 L47.26 492.63 L46.69 492.41 L46.14 492.16 L45.6 491.86 L45.07 491.55 L44.55 491.21 L44.02 490.86 L43.5 490.48 L43.01 490.06 L42.55 489.62 L42.1 489.15 L41.67 488.67 L41.23 488.17 L40.8 487.65 L40.35 487.12 L39.88 486.59 L39.31 486.06 L38.58 485.54 L37.75 485 L36.88 484.42 L36.04 483.79 L35.27 483.09 L34.64 482.33 L34.22 481.53 L34.07 480.7 L34.15 479.87 L34.39 479.05 L34.73 478.25 L35.15 477.49 L35.62 476.75 L36.09 476.04 L36.53 475.35 L36.91 474.65 L37.2 473.94 L37.26 473.15 L37.04 472.23 L36.68 471.21 L36.3 470.12 L36.04 469.02 L36 468 L36.28 467.13 L36.91 466.48 L37.79 466.01 L38.79 465.69 L39.81 465.44 L40.76 465.18 L41.55 464.82 L42.13 464.27 L42.61 463.6 L43.02 462.85 L43.4 462.01 L43.77 461.12 L44.16 460.19 L44.59 459.24 L45.07 458.3 L45.55 457.29 L46.02 456.13 L46.5 454.88 L47.05 453.59 L47.67 452.32 L48.4 451.15 L49.23 450.12 L50.17 449.29 L51.16 448.51 L52.19 447.77 L53.28 447.1 L54.41 446.53 L55.58 446.09 L56.78 445.8 L58 445.7 L59.22 445.84 L60.41 446.23 L61.56 446.82 L62.66 447.57 L63.69 448.43 L64.66 449.35 L65.58 450.29 L66.45 451.23 L67.22 452.31 L67.89 453.52 L68.47 454.78 L68.98 456.04 L69.44 457.24 L69.89 458.33 L70.37 459.27 L70.86 460.12 L71.31 460.97 L71.73 461.8 L72.14 462.6 L72.56 463.35 L73 464.04 L73.48 464.67 L74.06 465.19 L74.84 465.53 L75.8 465.76 L76.83 465.99 L77.85 466.28 L78.73 466.72 L79.37 467.35 L79.66 468.19 L79.68 469.17 L79.5 470.22 L79.21 471.26 L78.92 472.25 L78.73 473.16 L78.75 473.96 L78.92 474.7 L79.08 475.44 L79.22 476.19 L79.34 476.94 L79.44 477.69 L79.51 478.44 L79.55 479.19 L79.55 479.95 L79.51 480.7 L79.34 481.45 L78.99 482.17 L78.51 482.86 L77.93 483.5 L77.28 484.1 L76.62 484.66 L75.98 485.18 L75.39 485.69 L74.9 486.19 L74.47 486.69 L74.05 487.18 L73.63 487.66 L73.22 488.12 L72.8 488.57 L72.37 489 L71.93 489.41 L71.48 489.79 L71.02 490.16 L70.55 490.51 L70.09 490.85 L69.64 491.18 L69.18 491.5 L68.71 491.79 L68.22 492.05 L67.71 492.28 L67.18 492.45 L66.62 492.57 L66.04 492.62 L65.19 492.21 L64.06 491.19 L62.92 489.96 L62.02 488.94 L61.51 488.57 L61.44 489.22 L61.62 490.66 L61.83 492.48 L61.89 494.25 L61.7 495.53 L61.34 496.41 L60.92 497.24 L60.43 498 L59.89 498.65 L59.29 499.17 L58.66 499.53 L58 499.7Z" fill="none" stroke="#282898" stroke-width="0.75" stroke-linejoin="round" stroke-dasharray="1.5 0.9"/>
<path d="M58 501.7 L57.27 501.65 L56.55 501.5 L55.84 501.25 L55.16 500.91 L54.51 500.5 L53.9 500.01 L53.53 498.64 L53.55 496.23 L53.77 493.71 L53.9 491.96 L53.53 491.77 L52.54 492.95 L51.11 494.83 L49.44 496.79 L47.86 498.26 L46.76 498.68 L46.07 498.39 L45.4 498.05 L44.76 497.65 L44.14 497.22 L43.54 496.75 L42.96 496.27 L42.39 495.78 L41.81 495.28 L41.22 494.78 L40.54 494.34 L39.69 494 L38.72 493.7 L37.66 493.41 L36.55 493.09 L35.43 492.7 L34.37 492.23 L33.4 491.65 L32.6 490.96 L32 490.16 L31.57 489.29 L31.19 488.39 L30.86 487.47 L30.58 486.53 L30.34 485.58 L30.13 484.62 L29.95 483.65 L29.79 482.67 L29.65 481.69 L29.51 480.7 L29.31 479.7 L29.01 478.67 L28.65 477.61 L28.26 476.52 L27.89 475.39 L27.57 474.23 L27.35 473.06 L27.26 471.88 L27.33 470.73 L27.6 469.63 L27.99 468.58 L28.42 467.53 L28.89 466.5 L29.4 465.49 L29.94 464.5 L30.52 463.53 L31.13 462.58 L31.78 461.65 L32.46 460.75 L33.17 459.87 L33.98 459.07 L34.92 458.41 L35.94 457.86 L37.01 457.38 L38.08 456.96 L39.12 456.54 L40.12 456.09 L41.04 455.55 L41.79 454.76 L42.38 453.64 L42.91 452.32 L43.48 450.92 L44.15 449.59 L44.98 448.47 L46 447.73 L47.13 447.26 L48.29 446.83 L49.46 446.45 L50.65 446.12 L51.85 445.84 L53.07 445.61 L54.29 445.43 L55.52 445.3 L56.76 445.23 L58 445.2 L59.24 445.23 L60.47 445.34 L61.7 445.5 L62.91 445.73 L64.11 446.03 L65.3 446.38 L66.46 446.79 L67.59 447.25 L68.7 447.77 L69.78 448.33 L70.76 449.11 L71.58 450.2 L72.27 451.45 L72.87 452.74 L73.44 453.96 L74.06 454.99 L74.83 455.75 L75.77 456.24 L76.85 456.57 L78.03 456.83 L79.26 457.09 L80.5 457.4 L81.68 457.83 L82.75 458.42 L83.62 459.2 L84.34 460.12 L84.98 461.1 L85.56 462.11 L86.07 463.16 L86.52 464.23 L86.92 465.32 L87.27 466.43 L87.57 467.54 L87.83 468.65 L88.07 469.76 L88.27 470.87 L88.42 471.98 L88.52 473.09 L88.58 474.2 L88.59 475.31 L88.55 476.41 L88.47 477.5 L88.33 478.58 L88.15 479.65 L87.93 480.7 L87.65 481.74 L87.31 482.75 L86.91 483.74 L86.47 484.7 L85.99 485.63 L85.47 486.54 L84.92 487.41 L84.36 488.26 L83.78 489.08 L83.19 489.87 L82.59 490.64 L81.97 491.37 L81.33 492.08 L80.68 492.76 L80.01 493.41 L79.32 494.03 L78.63 494.62 L77.92 495.18 L77.21 495.71 L76.49 496.21 L75.77 496.7 L75.07 497.18 L74.37 497.65 L73.66 498.1 L72.94 498.5 L72.19 498.86 L71.4 499.15 L70.59 499.36 L69.73 499.47 L68.57 499.01 L67.07 497.75 L65.53 496.14 L64.2 494.62 L63.25 493.7 L62.78 493.84 L62.61 494.88 L62.49 496.37 L62.29 497.89 L61.88 498.97 L61.34 499.66 L60.76 500.3 L60.12 500.86 L59.44 501.31 L58.73 501.6 L58 501.7Z" fill="none" stroke="#ff28ff" stroke-width="0.75" stroke-linejoin="round" stroke-dasharray="2 0.9 0.7 0.9"/>
<path d="M58 502.7 L57.26 501.93 L56.58 501.05 L55.96 500.07 L55.44 498.91 L55.07 497.31 L54.81 495.7 L54.54 494.59 L54.06 494.44 L53.32 495.11 L52.33 496.29 L51.14 497.68 L49.86 498.98 L48.62 499.92 L47.6 500.25 L46.77 500.16 L45.96 499.97 L45.18 499.71 L44.42 499.39 L43.68 499.03 L42.97 498.62 L42.26 498.18 L41.57 497.72 L40.87 497.25 L40.16 496.77 L39.43 496.28 L38.67 495.8 L37.87 495.32 L37.06 494.83 L36.22 494.31 L35.38 493.76 L34.54 493.17 L33.72 492.54 L32.93 491.86 L32.18 491.13 L31.48 490.35 L30.82 489.53 L30.17 488.68 L29.54 487.8 L28.94 486.88 L28.39 485.92 L27.9 484.93 L27.47 483.91 L27.12 482.86 L26.86 481.79 L26.7 480.7 L26.61 479.6 L26.58 478.5 L26.6 477.4 L26.66 476.3 L26.77 475.19 L26.93 474.1 L27.13 473 L27.37 471.92 L27.66 470.84 L27.98 469.77 L28.34 468.72 L28.73 467.67 L29.17 466.64 L29.64 465.62 L30.15 464.62 L30.69 463.64 L31.28 462.68 L31.91 461.74 L32.58 460.84 L33.28 459.96 L34.16 459.23 L35.28 458.76 L36.54 458.48 L37.85 458.32 L39.12 458.2 L40.29 458.03 L41.3 457.72 L42.1 457.13 L42.64 456.11 L43.02 454.76 L43.37 453.19 L43.78 451.55 L44.33 449.99 L45.05 448.66 L46 447.73 L47.08 447.08 L48.19 446.49 L49.34 445.95 L50.51 445.48 L51.72 445.07 L52.94 444.73 L54.19 444.46 L55.45 444.26 L56.72 444.14 L58 444.1 L59.28 444.16 L60.54 444.32 L61.8 444.59 L63.02 444.95 L64.23 445.4 L65.39 445.92 L66.52 446.52 L67.61 447.18 L68.66 447.89 L69.67 448.65 L70.55 449.63 L71.25 450.94 L71.79 452.43 L72.22 453.96 L72.6 455.41 L73.02 456.67 L73.57 457.61 L74.36 458.19 L75.34 458.5 L76.49 458.67 L77.73 458.79 L79 458.95 L80.23 459.24 L81.32 459.7 L82.18 460.41 L82.86 461.27 L83.51 462.17 L84.11 463.09 L84.67 464.04 L85.18 465.01 L85.66 465.99 L86.1 466.99 L86.51 468.01 L86.88 469.03 L87.23 470.06 L87.54 471.1 L87.82 472.15 L88.07 473.2 L88.28 474.26 L88.45 475.33 L88.59 476.4 L88.68 477.48 L88.72 478.55 L88.73 479.63 L88.68 480.7 L88.57 481.77 L88.39 482.83 L88.15 483.87 L87.84 484.89 L87.47 485.9 L87.04 486.87 L86.56 487.82 L86.04 488.74 L85.47 489.62 L84.86 490.48 L84.14 491.26 L83.26 491.95 L82.28 492.54 L81.23 493.05 L80.15 493.49 L79.09 493.88 L78.09 494.25 L77.17 494.63 L76.36 495.05 L75.69 495.55 L75.1 496.1 L74.51 496.64 L73.91 497.18 L73.31 497.7 L72.69 498.2 L72.05 498.68 L71.4 499.14 L70.72 499.56 L70.03 499.95 L69.31 500.3 L68.58 500.6 L67.62 500.42 L66.38 499.53 L65.07 498.2 L63.84 496.74 L62.8 495.47 L62.02 494.73 L61.54 494.88 L61.24 495.95 L60.96 497.5 L60.58 499.04 L60.04 500.15 L59.43 501.1 L58.74 501.96 L58 502.7Z" fill="none" stroke="#9c9c28" stroke-width="0.75" stroke-linejoin="round" stroke-dasharray="1 0.8"/>
<path d="M58 502.7 L57.27 501.72 L56.6 500.68 L56.01 499.59 L55.54 498.22 L55.18 496.72 L54.82 495.65 L54.29 495.56 L53.43 496.65 L52.27 498.32 L51 499.95 L49.83 500.91 L48.85 501.25 L47.9 501.42 L46.96 501.47 L46.02 501.46 L45.04 501.44 L44.01 501.44 L42.93 501.44 L41.84 501.38 L40.77 501.24 L39.76 500.96 L38.86 500.52 L38.05 499.97 L37.28 499.36 L36.55 498.7 L35.86 498 L35.19 497.27 L34.56 496.51 L33.94 495.74 L33.33 494.94 L32.73 494.14 L32.15 493.31 L31.59 492.46 L31.06 491.59 L30.55 490.69 L30.06 489.78 L29.6 488.84 L29.17 487.89 L28.77 486.91 L28.4 485.92 L28.07 484.91 L27.76 483.88 L27.49 482.83 L27.24 481.77 L27.01 480.7 L26.81 479.61 L26.64 478.51 L26.5 477.39 L26.41 476.26 L26.37 475.12 L26.39 473.98 L26.46 472.84 L26.6 471.7 L26.8 470.56 L27.08 469.45 L27.41 468.34 L27.79 467.25 L28.2 466.17 L28.66 465.1 L29.17 464.05 L29.72 463.03 L30.31 462.02 L30.95 461.05 L31.64 460.1 L32.36 459.19 L33.19 458.36 L34.12 457.64 L35.12 457.01 L36.16 456.44 L37.2 455.92 L38.23 455.39 L39.2 454.83 L40.11 454.17 L40.91 453.35 L41.66 452.4 L42.41 451.38 L43.2 450.35 L44.06 449.38 L45.01 448.54 L46.06 447.91 L47.19 447.43 L48.33 446.99 L49.5 446.6 L50.68 446.26 L51.88 445.97 L53.09 445.73 L54.3 445.54 L55.53 445.41 L56.76 445.33 L58 445.3 L59.24 445.32 L60.47 445.4 L61.7 445.52 L62.92 445.69 L64.13 445.91 L65.34 446.17 L66.53 446.48 L67.71 446.84 L68.87 447.24 L70.02 447.68 L71.13 448.21 L72.18 448.85 L73.19 449.56 L74.15 450.32 L75.09 451.1 L76.02 451.87 L76.95 452.6 L77.93 453.27 L78.97 453.86 L80.07 454.4 L81.2 454.93 L82.33 455.5 L83.42 456.15 L84.43 456.9 L85.31 457.79 L86.08 458.76 L86.8 459.78 L87.46 460.83 L88.07 461.91 L88.63 463.01 L89.14 464.14 L89.6 465.29 L90.01 466.45 L90.38 467.62 L90.71 468.8 L90.99 469.98 L91.21 471.18 L91.37 472.38 L91.48 473.58 L91.53 474.79 L91.53 475.99 L91.47 477.18 L91.37 478.37 L91.21 479.54 L91.01 480.7 L90.77 481.84 L90.48 482.97 L90.14 484.08 L89.74 485.16 L89.26 486.21 L88.73 487.23 L88.15 488.22 L87.53 489.17 L86.89 490.09 L86.22 490.97 L85.55 491.83 L84.87 492.67 L84.21 493.48 L83.55 494.29 L82.92 495.09 L82.28 495.87 L81.64 496.65 L80.99 497.4 L80.32 498.13 L79.62 498.84 L78.89 499.51 L78.13 500.14 L77.34 500.73 L76.52 501.26 L75.67 501.75 L74.79 502.19 L73.88 502.56 L72.95 502.86 L71.99 503.09 L70.99 503.2 L69.94 503.15 L68.85 502.94 L67.74 502.57 L66.62 502.03 L65.3 500.74 L63.83 498.64 L62.53 496.48 L61.58 495.07 L61.09 495.24 L60.9 497.17 L60.66 499.64 L60.16 501.28 L59.49 501.98 L58.76 502.5 L58 502.7Z" fill="none" stroke="#a038c0" stroke-width="0.75" stroke-linejoin="round" stroke-dasharray="2.6 1.2"/>
<path d="M58 503.5 L57.2 503.53 L56.41 503.37 L55.71 502.48 L55.12 501.21 L54.59 500.04 L54.01 499.46 L53.15 500.14 L52.02 501.57 L50.95 502.4 L50.08 502.45 L49.23 502.41 L48.39 502.29 L47.56 502.1 L46.75 501.85 L45.96 501.55 L45.18 501.21 L44.42 500.83 L43.68 500.41 L42.96 499.95 L42.26 499.46 L41.58 498.93 L40.92 498.38 L40.28 497.81 L39.64 497.23 L39.01 496.63 L38.39 496.02 L37.73 495.43 L37.01 494.85 L36.25 494.29 L35.46 493.71 L34.66 493.11 L33.86 492.47 L33.1 491.79 L32.38 491.05 L31.74 490.26 L31.14 489.43 L30.54 488.57 L29.97 487.69 L29.43 486.77 L28.94 485.82 L28.51 484.84 L28.15 483.84 L27.88 482.81 L27.71 481.76 L27.64 480.7 L27.67 479.64 L27.73 478.58 L27.84 477.53 L27.99 476.48 L28.18 475.44 L28.41 474.41 L28.67 473.39 L28.98 472.38 L29.32 471.38 L29.69 470.4 L30.11 469.43 L30.56 468.48 L31.05 467.55 L31.58 466.65 L32.14 465.77 L32.75 464.92 L33.39 464.1 L34.07 463.31 L34.79 462.56 L35.63 461.93 L36.65 461.47 L37.76 461.16 L38.91 460.94 L40.05 460.76 L41.11 460.57 L42.06 460.3 L42.87 459.87 L43.44 459.11 L43.8 457.97 L44.07 456.58 L44.38 455.08 L44.81 453.66 L45.41 452.41 L46.07 451.17 L46.81 449.95 L47.64 448.81 L48.57 447.83 L49.61 447.04 L50.69 446.33 L51.82 445.67 L52.99 445.08 L54.21 444.59 L55.45 444.22 L56.72 443.98 L58 443.9 L59.28 443.96 L60.56 444.14 L61.81 444.44 L63.04 444.83 L64.24 445.32 L65.4 445.89 L66.52 446.54 L67.57 447.33 L68.43 448.6 L69.11 450.18 L69.67 451.82 L70.21 453.28 L70.82 454.42 L71.39 455.52 L71.93 456.58 L72.46 457.56 L73.04 458.4 L73.73 459.05 L74.6 459.45 L75.68 459.63 L76.91 459.7 L78.23 459.75 L79.57 459.87 L80.85 460.13 L81.96 460.6 L82.81 461.32 L83.45 462.21 L84.03 463.14 L84.56 464.11 L85.03 465.09 L85.46 466.1 L85.86 467.11 L86.23 468.13 L86.59 469.15 L86.93 470.17 L87.28 471.19 L87.61 472.21 L87.92 473.24 L88.2 474.28 L88.46 475.33 L88.68 476.39 L88.85 477.46 L88.99 478.53 L89.07 479.62 L89.1 480.7 L88.97 481.78 L88.63 482.84 L88.1 483.86 L87.44 484.84 L86.68 485.76 L85.88 486.63 L85.06 487.45 L84.27 488.23 L83.55 489 L82.94 489.78 L82.37 490.55 L81.79 491.29 L81.19 492.01 L80.59 492.71 L79.99 493.39 L79.39 494.07 L78.81 494.73 L78.24 495.4 L77.69 496.08 L77.15 496.77 L76.62 497.46 L76.07 498.15 L75.5 498.82 L74.91 499.49 L74.3 500.13 L73.66 500.74 L72.98 501.32 L72.27 501.86 L71.51 502.32 L70.61 502.54 L69.61 502.53 L68.55 502.33 L67.48 502 L66.44 501.58 L65.43 501.13 L64.5 500.7 L63.57 500.12 L62.68 499.47 L61.94 499.24 L61.38 499.86 L60.87 501.11 L60.29 502.48 L59.59 503.44 L58.8 503.61 L58 503.5Z" fill="none" stroke="#ff2828" stroke-width="0.75" stroke-linejoin="round"/>
<text x="58.4" y="427.8" font-size="5.8" text-anchor="middle" font-family='"Liberation Sans", sans-serif' font-weight="bold" font-style="normal" fill="#111" stroke="#111" stroke-width="0.15">y-z plane</text>
<text x="58.2" y="434.4" font-size="5.9" text-anchor="middle" font-family='"Liberation Sans", sans-serif' font-weight="bold" font-style="normal" fill="#111" stroke="#111" stroke-width="0.15">0</text>
<text x="58.7" y="533.2" font-size="5.9" text-anchor="middle" font-family='"Liberation Sans", sans-serif' font-weight="bold" font-style="normal" fill="#111" stroke="#111" stroke-width="0.15">180</text>
<text x="35.5" y="440.5" font-size="5.9" text-anchor="middle" font-family='"Liberation Sans", sans-serif' font-weight="bold" font-style="normal" fill="#111" stroke="#111" stroke-width="0.15">30</text>
<text x="81.4" y="440.5" font-size="5.9" text-anchor="middle" font-family='"Liberation Sans", sans-serif' font-weight="bold" font-style="normal" fill="#111" stroke="#111" stroke-width="0.15">30</text>
<text x="14.6" y="459.5" font-size="5.9" text-anchor="middle" font-family='"Liberation Sans", sans-serif' font-weight="bold" font-style="normal" fill="#111" stroke="#111" stroke-width="0.15">60</text>
<text x="104" y="459.5" font-size="5.9" text-anchor="middle" font-family='"Liberation Sans", sans-serif' font-weight="bold" font-style="normal" fill="#111" stroke="#111" stroke-width="0.15">60</text>
<text x="8.6" y="482.8" font-size="5.9" text-anchor="middle" font-family='"Liberation Sans", sans-serif' font-weight="bold" font-style="normal" fill="#111" stroke="#111" stroke-width="0.15">90</text>
<text x="109.3" y="482.8" font-size="5.9" text-anchor="middle" font-family='"Liberation Sans", sans-serif' font-weight="bold" font-style="normal" fill="#111" stroke="#111" stroke-width="0.15">90</text>
<text x="12.8" y="506.2" font-size="5.9" text-anchor="middle" font-family='"Liberation Sans", sans-serif' font-weight="bold" font-style="normal" fill="#111" stroke="#111" stroke-width="0.15">120</text>
<text x="106" y="506.2" font-size="5.9" text-anchor="middle" font-family='"Liberation Sans", sans-serif' font-weight="bold" font-style="normal" fill="#111" stroke="#111" stroke-width="0.15">120</text>
<text x="36.1" y="526.9" font-size="5.9" text-anchor="middle" font-family='"Liberation Sans", sans-serif' font-weight="bold" font-style="normal" fill="#111" stroke="#111" stroke-width="0.15">150</text>
<text x="81.2" y="526.9" font-size="5.9" text-anchor="middle" font-family='"Liberation Sans", sans-serif' font-weight="bold" font-style="normal" fill="#111" stroke="#111" stroke-width="0.15">150</text>
<text x="58" y="490.1" font-size="5.6" text-anchor="middle" font-family='"Liberation Sans", sans-serif' font-weight="bold" font-style="normal" fill="#111" stroke="#111" stroke-width="0.15">-30</text>
<text x="66.56" y="490.1" font-size="5.6" text-anchor="middle" font-family='"Liberation Sans", sans-serif' font-weight="bold" font-style="normal" fill="#111" stroke="#111" stroke-width="0.15">-20</text>
<text x="75.12" y="490.1" font-size="5.6" text-anchor="middle" font-family='"Liberation Sans", sans-serif' font-weight="bold" font-style="normal" fill="#111" stroke="#111" stroke-width="0.15">-10</text>
<text x="83.68" y="490.1" font-size="5.6" text-anchor="middle" font-family='"Liberation Sans", sans-serif' font-weight="bold" font-style="normal" fill="#111" stroke="#111" stroke-width="0.15">0</text>
<text x="92.24" y="490.1" font-size="5.6" text-anchor="middle" font-family='"Liberation Sans", sans-serif' font-weight="bold" font-style="normal" fill="#111" stroke="#111" stroke-width="0.15">10</text>
<text x="100.8" y="490.1" font-size="5.6" text-anchor="middle" font-family='"Liberation Sans", sans-serif' font-weight="bold" font-style="normal" fill="#111" stroke="#111" stroke-width="0.15">20</text>
<rect x="112.1" y="443.7" width="58.5" height="73.2" fill="#fff" stroke="#8a8a8a" stroke-width="0.5"/>
<line x1="115.1" y1="448.8" x2="145.3" y2="448.8" stroke="#303030" stroke-width="0.85" stroke-dasharray="3 1.1 1 1.1 1 1.1"/>
<text x="151.9" y="451.1" font-size="5.3" font-family='"Liberation Sans", sans-serif' fill="#1a1a1a" word-spacing="-0.9"><tspan font-weight="normal">θ</tspan><tspan font-weight="bold" stroke="#1a1a1a" stroke-width="0.18"> = 0°</tspan></text>
<line x1="115.1" y1="455.85" x2="145.3" y2="455.85" stroke="#10e810" stroke-width="0.55" stroke-dasharray="2.6 1 0.9 1"/>
<text x="151.9" y="458.15" font-size="5.3" font-family='"Liberation Sans", sans-serif' fill="#1a1a1a" word-spacing="-0.9"><tspan font-weight="normal">θ</tspan><tspan font-weight="bold" stroke="#1a1a1a" stroke-width="0.18"> = 10°</tspan></text>
<line x1="115.1" y1="462.9" x2="145.3" y2="462.9" stroke="#10e8ff" stroke-width="0.55" stroke-dasharray="2.6 1 0.9 1"/>
<text x="151.9" y="465.2" font-size="5.3" font-family='"Liberation Sans", sans-serif' fill="#1a1a1a" word-spacing="-0.9"><tspan font-weight="normal">θ</tspan><tspan font-weight="bold" stroke="#1a1a1a" stroke-width="0.18"> = 20°</tspan></text>
<line x1="115.1" y1="469.95" x2="145.3" y2="469.95" stroke="#cdcdcd" stroke-width="0.55" stroke-dasharray="3 1.1 1 1.1 1 1.1"/>
<text x="151.9" y="472.25" font-size="5.3" font-family='"Liberation Sans", sans-serif' fill="#1a1a1a" word-spacing="-0.9"><tspan font-weight="normal">θ</tspan><tspan font-weight="bold" stroke="#1a1a1a" stroke-width="0.18"> = 30°</tspan></text>
<line x1="115.1" y1="477" x2="145.3" y2="477" stroke="#2838ff" stroke-width="0.55" stroke-dasharray="2.2 1.2"/>
<text x="151.9" y="479.3" font-size="5.3" font-family='"Liberation Sans", sans-serif' fill="#1a1a1a" word-spacing="-0.9"><tspan font-weight="normal">θ</tspan><tspan font-weight="bold" stroke="#1a1a1a" stroke-width="0.18"> = 40°</tspan></text>
<line x1="115.1" y1="484.05" x2="145.3" y2="484.05" stroke="#ff28ff" stroke-width="0.55" stroke-dasharray="2.6 1 0.9 1"/>
<text x="151.9" y="486.35" font-size="5.3" font-family='"Liberation Sans", sans-serif' fill="#1a1a1a" word-spacing="-0.9"><tspan font-weight="normal">θ</tspan><tspan font-weight="bold" stroke="#1a1a1a" stroke-width="0.18"> = 50°</tspan></text>
<line x1="115.1" y1="491.1" x2="145.3" y2="491.1" stroke="#9c9c28" stroke-width="0.55" stroke-dasharray="1.2 0.9"/>
<text x="151.9" y="493.4" font-size="5.3" font-family='"Liberation Sans", sans-serif' fill="#1a1a1a" word-spacing="-0.9"><tspan font-weight="normal">θ</tspan><tspan font-weight="bold" stroke="#1a1a1a" stroke-width="0.18"> = 60°</tspan></text>
<line x1="115.1" y1="498.15" x2="145.3" y2="498.15" stroke="#ff2828" stroke-width="0.55"/>
<text x="151.9" y="500.45" font-size="5.3" font-family='"Liberation Sans", sans-serif' fill="#1a1a1a" word-spacing="-0.9"><tspan font-weight="normal">θ</tspan><tspan font-weight="bold" stroke="#1a1a1a" stroke-width="0.18"> = 70°</tspan></text>
<line x1="115.1" y1="505.2" x2="145.3" y2="505.2" stroke="#a038c0" stroke-width="0.55" stroke-dasharray="3.4 1.6"/>
<text x="151.9" y="507.5" font-size="5.3" font-family='"Liberation Sans", sans-serif' fill="#1a1a1a" word-spacing="-0.9"><tspan font-weight="normal">θ</tspan><tspan font-weight="bold" stroke="#1a1a1a" stroke-width="0.18"> = 80°</tspan></text>
<line x1="115.1" y1="512.25" x2="145.3" y2="512.25" stroke="#282898" stroke-width="0.55" stroke-dasharray="2 1.1"/>
<text x="151.9" y="514.55" font-size="5.3" font-family='"Liberation Sans", sans-serif' fill="#1a1a1a" word-spacing="-0.9"><tspan font-weight="normal">θ</tspan><tspan font-weight="bold" stroke="#1a1a1a" stroke-width="0.18"> = 90°</tspan></text>
<text x="88" y="544.8" font-size="9.3" text-anchor="middle" font-family='"Liberation Serif", serif' font-weight="normal" font-style="normal" fill="#000" stroke="#000" stroke-width="0.28">(f)</text>
</g>
<g id="panel-g">
<g fill="none" stroke="#5e5e5e" stroke-width="0.5">
<circle cx="226.3" cy="480.7" r="8.56"/>
<circle cx="226.3" cy="480.7" r="17.12"/>
<circle cx="226.3" cy="480.7" r="25.68"/>
<circle cx="226.3" cy="480.7" r="34.24"/>
<line x1="226.3" y1="523.5" x2="226.3" y2="437.9"/>
<line x1="204.9" y1="517.77" x2="247.7" y2="443.63"/>
<line x1="189.23" y1="502.1" x2="263.37" y2="459.3"/>
<line x1="183.5" y1="480.7" x2="269.1" y2="480.7"/>
<line x1="189.23" y1="459.3" x2="263.37" y2="502.1"/>
<line x1="204.9" y1="443.63" x2="247.7" y2="517.77"/>
</g>
<circle cx="226.3" cy="480.7" r="42.8" fill="none" stroke="#444" stroke-width="0.6"/>
<path d="M226.3 500.22 L225.62 500.19 L224.94 500.09 L224.28 499.95 L223.62 499.76 L222.98 499.53 L222.36 499.25 L221.77 498.89 L221.21 498.45 L220.7 497.94 L220.23 497.37 L219.86 496.63 L219.63 495.68 L219.51 494.62 L219.47 493.54 L219.46 492.55 L219.5 491.59 L219.61 490.61 L219.77 489.68 L219.93 488.85 L220.03 488.17 L220.1 487.58 L220.19 487.02 L220.27 486.53 L220.27 486.13 L220.17 485.85 L219.99 485.63 L219.82 485.41 L219.65 485.19 L219.49 484.96 L219.33 484.72 L219.16 484.5 L218.95 484.28 L218.72 484.08 L218.46 483.87 L218.18 483.66 L217.9 483.43 L217.62 483.19 L217.33 482.94 L216.95 482.69 L216.52 482.42 L216.06 482.14 L215.63 481.82 L215.26 481.47 L215.01 481.09 L214.92 480.7 L214.94 480.3 L214.99 479.91 L215.07 479.52 L215.17 479.14 L215.28 478.76 L215.4 478.38 L215.52 478.01 L215.65 477.65 L215.78 477.28 L215.93 476.93 L216.09 476.58 L216.28 476.24 L216.49 475.92 L216.78 475.64 L217.13 475.4 L217.5 475.2 L217.88 475.02 L218.23 474.84 L218.55 474.64 L218.8 474.41 L218.87 474.01 L218.7 473.36 L218.39 472.51 L218.04 471.52 L217.71 470.47 L217.47 469.39 L217.2 468.18 L216.91 466.78 L216.61 465.19 L216.01 462.87 L215.3 460.02 L215.13 457.81 L215.83 457.19 L216.77 457.11 L217.66 456.97 L218.4 456.4 L219.06 455.45 L219.74 454.38 L220.51 453.44 L221.4 452.92 L222.37 452.71 L223.34 452.54 L224.32 452.43 L225.31 452.35 L226.3 452.33 L227.29 452.38 L228.27 452.51 L229.24 452.73 L230.19 453.01 L231.12 453.35 L231.98 453.96 L232.73 454.89 L233.4 455.94 L234.04 456.89 L234.73 457.54 L235.5 457.94 L236.26 458.34 L236.84 459.1 L236.63 461.27 L235.95 463.99 L235.37 466.18 L235.08 467.68 L234.8 469 L234.57 470.12 L234.37 471.08 L234.12 472.02 L233.84 472.89 L233.62 473.63 L233.51 474.21 L233.59 474.58 L233.85 474.8 L234.16 474.99 L234.53 475.15 L234.92 475.31 L235.31 475.5 L235.68 475.71 L236.01 475.97 L236.26 476.27 L236.5 476.58 L236.71 476.91 L236.91 477.25 L237.08 477.61 L237.21 477.98 L237.3 478.36 L237.36 478.75 L237.38 479.14 L237.38 479.54 L237.36 479.93 L237.31 480.32 L237.24 480.7 L237.11 481.08 L236.87 481.44 L236.55 481.78 L236.19 482.09 L235.8 482.38 L235.41 482.64 L235.05 482.88 L234.73 483.12 L234.41 483.33 L234.07 483.53 L233.74 483.7 L233.42 483.87 L233.12 484.03 L232.86 484.19 L232.64 484.36 L232.45 484.54 L232.25 484.72 L232.07 484.89 L231.89 485.06 L231.72 485.25 L231.64 485.51 L231.68 485.9 L231.79 486.39 L231.94 486.96 L232.07 487.57 L232.28 488.35 L232.61 489.38 L232.94 490.55 L233.19 491.72 L233.26 492.76 L233.2 493.69 L233.07 494.59 L232.86 495.44 L232.57 496.21 L232.18 496.86 L231.73 497.4 L231.23 497.88 L230.69 498.3 L230.12 498.68 L229.53 499.03 L228.92 499.34 L228.29 499.62 L227.64 499.87 L226.98 500.07 L226.3 500.22Z" fill="none" stroke="#cdcdcd" stroke-width="0.75" stroke-linejoin="round" stroke-dasharray="2.2 0.9 0.8 0.9 0.8 0.9"/>
<path d="M226.3 500.71 L225.6 500.67 L224.91 500.55 L224.23 500.36 L223.57 500.12 L222.93 499.83 L222.32 499.41 L221.79 498.79 L221.32 498.05 L220.92 497.26 L220.55 496.49 L220.23 495.74 L219.95 494.96 L219.74 494.16 L219.58 493.33 L219.5 492.48 L219.54 491.52 L219.71 490.47 L219.95 489.45 L220.17 488.55 L220.28 487.88 L220.31 487.36 L220.33 486.88 L220.34 486.45 L220.31 486.1 L220.21 485.81 L220.07 485.57 L219.94 485.32 L219.8 485.08 L219.67 484.84 L219.54 484.61 L219.34 484.4 L219.06 484.23 L218.7 484.08 L218.29 483.93 L217.87 483.77 L217.46 483.57 L217.09 483.34 L216.78 483.07 L216.49 482.79 L216.21 482.48 L215.94 482.16 L215.7 481.81 L215.49 481.46 L215.31 481.08 L215.17 480.7 L215.06 480.31 L214.96 479.91 L214.88 479.5 L214.84 479.09 L214.83 478.68 L214.87 478.27 L214.97 477.88 L215.17 477.51 L215.45 477.18 L215.78 476.87 L216.12 476.59 L216.45 476.32 L216.75 476.04 L217.06 475.79 L217.38 475.55 L217.7 475.33 L218.01 475.11 L218.31 474.89 L218.58 474.67 L218.81 474.42 L218.9 474.04 L218.79 473.45 L218.55 472.68 L218.27 471.78 L218.02 470.83 L217.82 469.84 L217.58 468.69 L217.3 467.36 L217.01 465.83 L216.49 463.7 L215.87 461.08 L215.63 458.83 L216.05 457.68 L216.71 456.97 L217.41 456.28 L218.08 455.41 L218.77 454.43 L219.51 453.46 L220.33 452.6 L221.24 451.98 L222.2 451.53 L223.19 451.15 L224.21 450.84 L225.25 450.64 L226.3 450.57 L227.35 450.59 L228.4 450.66 L229.45 450.77 L230.48 450.93 L231.51 451.13 L232.48 451.62 L233.33 452.51 L234.08 453.57 L234.78 454.59 L235.53 455.35 L236.34 455.84 L237.15 456.34 L237.72 457.28 L237.42 459.78 L236.61 462.84 L235.97 465.23 L235.7 466.76 L235.48 468.07 L235.3 469.19 L235.13 470.17 L234.91 471.14 L234.66 472.05 L234.45 472.83 L234.36 473.44 L234.47 473.85 L234.73 474.12 L235.01 474.37 L235.32 474.61 L235.65 474.86 L235.97 475.12 L236.28 475.39 L236.56 475.69 L236.81 476.02 L237.04 476.36 L237.25 476.71 L237.45 477.08 L237.64 477.45 L237.81 477.83 L237.99 478.22 L238.17 478.61 L238.35 479.01 L238.51 479.42 L238.65 479.84 L238.74 480.27 L238.77 480.7 L238.66 481.13 L238.35 481.54 L237.9 481.92 L237.36 482.25 L236.78 482.55 L236.22 482.81 L235.71 483.05 L235.3 483.28 L234.87 483.49 L234.44 483.66 L234.01 483.82 L233.62 483.96 L233.28 484.1 L233.01 484.27 L232.83 484.47 L232.7 484.7 L232.56 484.92 L232.42 485.15 L232.29 485.38 L232.14 485.6 L232.12 485.94 L232.27 486.47 L232.52 487.14 L232.78 487.89 L232.97 488.65 L233.14 489.45 L233.31 490.35 L233.45 491.31 L233.54 492.29 L233.54 493.25 L233.49 494.21 L233.38 495.21 L233.19 496.19 L232.92 497.1 L232.56 497.89 L232.12 498.61 L231.64 499.33 L231.1 499.96 L230.5 500.44 L229.83 500.69 L229.13 500.8 L228.42 500.87 L227.71 500.89 L227 500.84 L226.3 500.71Z" fill="none" stroke="#10e8ff" stroke-width="0.75" stroke-linejoin="round" stroke-dasharray="2 0.9 0.7 0.9"/>
<path d="M226.3 501.68 L225.57 501.65 L224.84 501.54 L224.13 501.38 L223.42 501.17 L222.74 500.91 L222.08 500.53 L221.49 499.98 L220.96 499.32 L220.49 498.58 L220.07 497.82 L219.71 497 L219.45 496.09 L219.27 495.12 L219.15 494.15 L219.07 493.22 L219.05 492.31 L219.09 491.38 L219.18 490.49 L219.3 489.66 L219.4 488.92 L219.53 488.21 L219.72 487.51 L219.9 486.88 L219.99 486.38 L219.92 486.06 L219.73 485.83 L219.55 485.6 L219.38 485.37 L219.22 485.13 L219.06 484.88 L218.87 484.65 L218.6 484.46 L218.28 484.27 L217.91 484.09 L217.53 483.89 L217.14 483.68 L216.76 483.43 L216.41 483.16 L216.03 482.88 L215.62 482.58 L215.22 482.26 L214.83 481.91 L214.48 481.53 L214.21 481.12 L214.02 480.7 L213.89 480.27 L213.78 479.82 L213.71 479.38 L213.67 478.92 L213.67 478.47 L213.71 478.02 L213.82 477.59 L214.01 477.18 L214.27 476.79 L214.56 476.43 L214.88 476.09 L215.2 475.76 L215.51 475.44 L215.84 475.14 L216.19 474.86 L216.55 474.61 L216.9 474.36 L217.24 474.11 L217.54 473.86 L217.81 473.58 L217.95 473.18 L217.92 472.61 L217.79 471.88 L217.59 471.03 L217.4 470.09 L217.2 469.06 L216.84 467.68 L216.4 466.03 L216.01 464.23 L215.53 462.05 L215.05 459.54 L214.9 457.33 L215.29 455.98 L215.94 455.05 L216.64 454.16 L217.33 453.11 L218.06 451.98 L218.87 450.88 L219.76 449.95 L220.77 449.31 L221.83 448.89 L222.92 448.53 L224.03 448.26 L225.16 448.09 L226.3 448.03 L227.44 448.06 L228.58 448.14 L229.71 448.29 L230.83 448.49 L231.93 448.75 L232.96 449.34 L233.85 450.41 L234.61 451.71 L235.29 453.03 L235.96 454.15 L236.69 454.98 L237.38 455.82 L237.8 457.12 L237.61 459.42 L237.04 462.1 L236.47 464.42 L235.99 466.34 L235.44 468.12 L235.01 469.55 L234.85 470.51 L234.73 471.33 L234.63 472.07 L234.58 472.7 L234.62 473.21 L234.79 473.58 L235.04 473.87 L235.3 474.16 L235.56 474.45 L235.83 474.75 L236.09 475.05 L236.36 475.35 L236.62 475.67 L236.9 475.98 L237.28 476.26 L237.74 476.54 L238.2 476.83 L238.61 477.17 L238.9 477.56 L239.02 478 L239.09 478.44 L239.14 478.9 L239.15 479.35 L239.14 479.8 L239.1 480.25 L239.04 480.7 L238.86 481.14 L238.5 481.55 L238.01 481.93 L237.45 482.27 L236.87 482.56 L236.32 482.83 L235.87 483.09 L235.52 483.34 L235.19 483.59 L234.85 483.81 L234.53 484.03 L234.23 484.23 L233.97 484.44 L233.75 484.66 L233.57 484.9 L233.42 485.15 L233.27 485.4 L233.12 485.66 L232.96 485.91 L232.8 486.16 L232.68 486.45 L232.64 486.82 L232.64 487.26 L232.66 487.77 L232.69 488.32 L232.85 489.08 L233.16 490.14 L233.49 491.36 L233.73 492.59 L233.78 493.66 L233.67 494.55 L233.46 495.38 L233.19 496.17 L232.86 496.94 L232.5 497.72 L232.11 498.59 L231.7 499.53 L231.21 500.41 L230.63 501.09 L229.96 501.43 L229.23 501.55 L228.5 501.63 L227.77 501.69 L227.03 501.7 L226.3 501.68Z" fill="none" stroke="#10e810" stroke-width="0.75" stroke-linejoin="round" stroke-dasharray="2 0.9 0.7 0.9"/>
<path d="M226.3 502.66 L225.53 502.66 L224.77 502.63 L224 502.57 L223.24 502.48 L222.48 502.36 L221.75 502.1 L221.08 501.65 L220.47 501.04 L219.92 500.34 L219.42 499.6 L219.03 498.71 L218.78 497.59 L218.66 496.36 L218.63 495.12 L218.64 493.97 L218.71 492.85 L218.88 491.71 L219.09 490.63 L219.27 489.69 L219.36 488.97 L219.36 488.4 L219.36 487.89 L219.34 487.43 L219.29 487.02 L219.2 486.66 L219.09 486.34 L218.98 486.02 L218.87 485.71 L218.75 485.42 L218.61 485.14 L218.41 484.89 L218.16 484.67 L217.85 484.46 L217.51 484.25 L217.13 484.04 L216.75 483.8 L216.37 483.55 L216 483.27 L215.56 482.98 L215.08 482.68 L214.57 482.35 L214.08 481.98 L213.63 481.59 L213.26 481.16 L213.01 480.7 L212.84 480.23 L212.69 479.75 L212.58 479.26 L212.51 478.76 L212.49 478.27 L212.54 477.77 L212.65 477.3 L212.88 476.85 L213.2 476.44 L213.57 476.07 L213.97 475.72 L214.37 475.39 L214.76 475.07 L215.2 474.8 L215.67 474.56 L216.15 474.36 L216.61 474.16 L217.03 473.97 L217.4 473.75 L217.69 473.48 L217.81 473.06 L217.72 472.41 L217.5 471.58 L217.23 470.63 L216.99 469.61 L216.81 468.56 L216.61 467.36 L216.36 465.97 L216.08 464.35 L215.54 462.07 L214.87 459.21 L214.54 456.59 L214.82 454.91 L215.39 453.7 L216.08 452.61 L216.79 451.42 L217.55 450.18 L218.41 449.04 L219.38 448.16 L220.48 447.7 L221.64 447.52 L222.8 447.4 L223.97 447.33 L225.13 447.31 L226.3 447.34 L227.46 447.43 L228.62 447.58 L229.76 447.81 L230.88 448.11 L231.98 448.5 L233 449.19 L233.88 450.28 L234.65 451.59 L235.32 452.93 L235.97 454.12 L236.65 455.07 L237.28 456.04 L237.61 457.51 L237.3 460.01 L236.63 462.8 L236.1 465.02 L235.85 466.54 L235.64 467.85 L235.46 468.98 L235.3 469.97 L235.08 470.95 L234.83 471.87 L234.62 472.67 L234.53 473.29 L234.64 473.7 L234.93 473.96 L235.28 474.17 L235.69 474.37 L236.13 474.56 L236.59 474.76 L237.04 474.99 L237.45 475.26 L237.82 475.57 L238.19 475.9 L238.55 476.24 L238.89 476.61 L239.17 477.01 L239.38 477.44 L239.5 477.89 L239.58 478.36 L239.63 478.83 L239.66 479.3 L239.66 479.77 L239.64 480.23 L239.59 480.7 L239.41 481.16 L239.02 481.59 L238.49 481.98 L237.87 482.33 L237.23 482.63 L236.64 482.9 L236.15 483.16 L235.81 483.43 L235.48 483.68 L235.15 483.92 L234.83 484.15 L234.54 484.37 L234.28 484.59 L234.06 484.83 L233.88 485.08 L233.73 485.34 L233.57 485.6 L233.4 485.86 L233.23 486.11 L233.05 486.36 L232.92 486.66 L232.88 487.06 L232.9 487.54 L232.94 488.08 L232.98 488.67 L233.14 489.45 L233.43 490.52 L233.75 491.74 L233.97 492.98 L234.01 494.06 L233.9 495 L233.71 495.89 L233.44 496.73 L233.1 497.53 L232.69 498.26 L232.23 498.95 L231.72 499.61 L231.16 500.21 L230.56 500.74 L229.92 501.21 L229.24 501.6 L228.53 501.96 L227.81 502.26 L227.06 502.49 L226.3 502.66Z" fill="none" stroke="#303030" stroke-width="0.75" stroke-linejoin="round" stroke-dasharray="2.2 0.9 0.8 0.9 0.8 0.9"/>
<path d="M226.3 503.88 L225.48 504.28 L224.64 504.5 L223.79 504.57 L222.95 504.53 L222.12 504.41 L221.33 504.1 L220.61 503.53 L219.97 502.77 L219.4 501.93 L218.88 501.08 L218.42 500.21 L218.04 499.25 L217.75 498.22 L217.56 497.14 L217.46 496.01 L217.52 494.75 L217.78 493.33 L218.15 491.92 L218.51 490.67 L218.74 489.71 L218.87 488.95 L219.01 488.25 L219.12 487.63 L219.17 487.12 L219.11 486.74 L218.98 486.42 L218.85 486.11 L218.71 485.82 L218.57 485.53 L218.42 485.25 L218.12 485.05 L217.58 484.95 L216.86 484.9 L216.01 484.86 L215.1 484.77 L214.22 484.62 L213.44 484.39 L212.79 484.07 L212.16 483.71 L211.53 483.31 L210.92 482.86 L210.38 482.37 L209.92 481.85 L209.58 481.28 L209.38 480.7 L209.27 480.11 L209.19 479.5 L209.15 478.9 L209.14 478.29 L209.19 477.68 L209.27 477.08 L209.41 476.49 L209.62 475.92 L209.87 475.36 L210.17 474.83 L210.49 474.31 L210.84 473.82 L211.19 473.33 L211.59 472.88 L212.01 472.45 L212.46 472.05 L212.92 471.67 L213.38 471.31 L213.85 470.97 L214.31 470.64 L214.77 470.32 L215.25 470.03 L215.73 469.75 L216.19 469.48 L216.63 469.18 L216.95 468.73 L216.71 467.5 L216.2 465.72 L215.74 463.8 L215.21 461.5 L214.62 458.73 L214.37 456.24 L214.71 454.68 L215.34 453.57 L216.06 452.55 L216.79 451.43 L217.57 450.24 L218.43 449.15 L219.41 448.29 L220.51 447.84 L221.67 447.74 L222.84 447.8 L224.01 447.99 L225.17 448.28 L226.3 448.61 L227.4 449.06 L228.47 449.66 L229.49 450.36 L230.46 451.1 L231.39 451.83 L232.29 452.53 L233.15 453.23 L233.97 453.96 L234.74 454.74 L235.44 455.58 L236.1 456.45 L236.66 457.44 L236.96 458.85 L236.68 461.17 L236.07 463.78 L235.52 465.95 L235.04 467.75 L234.5 469.41 L234.23 470.55 L234.48 470.95 L234.84 471.22 L235.2 471.49 L235.56 471.76 L235.93 472.03 L236.29 472.31 L236.73 472.55 L237.27 472.73 L237.89 472.88 L238.53 473.06 L239.16 473.28 L239.71 473.57 L240.12 473.96 L240.37 474.43 L240.58 474.93 L240.76 475.44 L240.92 475.95 L241.06 476.47 L241.2 476.99 L241.32 477.51 L241.45 478.03 L241.57 478.55 L241.69 479.08 L241.78 479.62 L241.85 480.16 L241.87 480.7 L241.78 481.24 L241.55 481.77 L241.19 482.26 L240.73 482.73 L240.2 483.15 L239.64 483.54 L239.07 483.88 L238.47 484.19 L237.69 484.4 L236.77 484.51 L235.81 484.54 L234.9 484.53 L234.12 484.51 L233.54 484.55 L233.24 484.71 L233.12 484.96 L233.02 485.23 L232.93 485.52 L232.86 485.82 L232.78 486.14 L232.75 486.51 L232.81 486.99 L232.92 487.56 L233.05 488.2 L233.17 488.89 L233.38 489.76 L233.68 490.86 L233.98 492.08 L234.17 493.3 L234.19 494.36 L234.05 495.28 L233.83 496.14 L233.53 496.94 L233.17 497.71 L232.76 498.45 L232.29 499.15 L231.78 499.8 L231.22 500.42 L230.62 501.01 L229.98 501.57 L229.31 502.1 L228.6 502.6 L227.86 503.07 L227.1 503.49 L226.3 503.88Z" fill="none" stroke="#2838ff" stroke-width="0.75" stroke-linejoin="round" stroke-dasharray="1.7 1"/>
<path d="M226.3 505.83 L225.42 505.8 L224.55 505.71 L223.69 505.56 L222.84 505.35 L222 505.1 L221.19 504.73 L220.45 504.17 L219.77 503.47 L219.16 502.68 L218.6 501.84 L218.15 500.87 L217.83 499.72 L217.63 498.47 L217.52 497.21 L217.46 496.01 L217.46 494.84 L217.56 493.66 L217.72 492.51 L217.89 491.46 L218.03 490.55 L218.17 489.73 L218.33 488.95 L218.48 488.25 L218.58 487.65 L218.57 487.19 L218.48 486.81 L218.4 486.44 L218.31 486.09 L218.19 485.77 L218.05 485.47 L217.81 485.21 L217.45 485.02 L216.98 484.85 L216.45 484.68 L215.86 484.5 L215.27 484.28 L214.69 484.03 L214.14 483.73 L213.49 483.42 L212.77 483.09 L212.03 482.7 L211.35 482.27 L210.78 481.78 L210.4 481.26 L210.25 480.7 L210.28 480.14 L210.34 479.58 L210.43 479.03 L210.55 478.49 L210.7 477.95 L210.85 477.42 L211.02 476.89 L211.19 476.37 L211.38 475.85 L211.59 475.35 L211.82 474.85 L212.08 474.37 L212.38 473.91 L212.79 473.52 L213.28 473.18 L213.81 472.89 L214.34 472.63 L214.84 472.38 L215.29 472.1 L215.65 471.76 L215.95 471.38 L216.22 470.96 L216.46 470.51 L216.69 470.03 L216.91 469.51 L217.03 468.84 L216.66 467.43 L216.06 465.52 L215.55 463.5 L215.07 461.25 L214.59 458.68 L214.39 456.29 L214.64 454.51 L215.14 453.09 L215.79 451.83 L216.51 450.57 L217.29 449.29 L218.18 448.14 L219.19 447.25 L220.32 446.79 L221.51 446.6 L222.7 446.47 L223.9 446.38 L225.1 446.35 L226.3 446.36 L227.49 446.49 L228.67 446.77 L229.82 447.18 L230.94 447.69 L232.02 448.27 L233.04 449 L233.97 449.95 L234.81 451.04 L235.56 452.2 L236.25 453.37 L236.88 454.5 L237.41 455.74 L237.67 457.39 L237.41 459.8 L236.86 462.4 L236.38 464.57 L236.01 466.3 L235.63 467.86 L235.39 469.07 L235.44 469.81 L235.54 470.43 L235.66 471.01 L235.81 471.52 L236 471.96 L236.26 472.34 L236.58 472.67 L236.97 472.94 L237.41 473.2 L237.89 473.46 L238.37 473.73 L238.86 474.02 L239.32 474.35 L239.74 474.71 L240.2 475.08 L240.66 475.47 L241.1 475.89 L241.47 476.35 L241.74 476.85 L241.88 477.39 L241.95 477.94 L241.96 478.5 L241.93 479.06 L241.86 479.61 L241.75 480.16 L241.61 480.7 L241.39 481.23 L241.05 481.73 L240.61 482.2 L240.12 482.64 L239.58 483.04 L239.05 483.41 L238.53 483.75 L238.04 484.07 L237.51 484.34 L236.94 484.57 L236.37 484.77 L235.84 484.95 L235.37 485.13 L235.01 485.33 L234.77 485.59 L234.61 485.89 L234.46 486.2 L234.32 486.52 L234.18 486.85 L234.04 487.19 L233.93 487.57 L233.87 488.01 L233.86 488.53 L233.87 489.11 L233.9 489.75 L234.07 490.64 L234.42 491.88 L234.8 493.3 L235.06 494.73 L235.12 495.97 L234.98 497.02 L234.74 498.01 L234.42 498.94 L234.03 499.83 L233.57 500.69 L233.07 501.52 L232.51 502.34 L231.89 503.11 L231.2 503.78 L230.46 504.32 L229.68 504.76 L228.87 505.15 L228.03 505.47 L227.17 505.7 L226.3 505.83Z" fill="none" stroke="#282898" stroke-width="0.75" stroke-linejoin="round" stroke-dasharray="1.5 0.9"/>
<path d="M226.3 504.37 L225.48 504.22 L224.67 503.99 L223.88 503.7 L223.12 503.34 L222.38 502.94 L221.67 502.48 L221 501.95 L220.38 501.34 L219.82 500.65 L219.31 499.89 L218.91 499 L218.63 497.93 L218.46 496.78 L218.37 495.62 L218.33 494.5 L218.37 493.39 L218.51 492.26 L218.7 491.16 L218.91 490.16 L219.07 489.31 L219.23 488.55 L219.42 487.82 L219.6 487.17 L219.69 486.65 L219.64 486.29 L219.49 486.02 L219.34 485.76 L219.2 485.49 L219.05 485.23 L218.9 484.97 L218.69 484.74 L218.38 484.56 L217.98 484.41 L217.52 484.25 L217.03 484.08 L216.53 483.87 L216.07 483.63 L215.65 483.35 L215.21 483.06 L214.74 482.74 L214.28 482.39 L213.85 482.01 L213.48 481.6 L213.19 481.16 L213.01 480.7 L212.91 480.23 L212.83 479.76 L212.78 479.28 L212.77 478.8 L212.79 478.32 L212.86 477.84 L212.96 477.37 L213.11 476.92 L213.28 476.47 L213.48 476.03 L213.71 475.61 L213.96 475.2 L214.24 474.82 L214.65 474.51 L215.16 474.27 L215.71 474.08 L216.27 473.93 L216.78 473.78 L217.21 473.6 L217.53 473.34 L217.69 472.95 L217.69 472.39 L217.6 471.69 L217.45 470.88 L217.31 469.99 L217.18 469.03 L216.94 467.82 L216.63 466.36 L216.29 464.68 L215.75 462.43 L215.1 459.64 L214.75 457.02 L214.93 455.17 L215.4 453.72 L216.03 452.49 L216.77 451.38 L217.6 450.35 L218.5 449.42 L219.48 448.61 L220.52 447.93 L221.62 447.37 L222.75 446.89 L223.91 446.49 L225.09 446.18 L226.3 445.97 L227.52 445.83 L228.74 445.75 L229.98 445.73 L231.21 445.8 L232.43 445.96 L233.58 446.44 L234.61 447.36 L235.51 448.58 L236.29 449.96 L236.98 451.37 L237.53 452.91 L237.88 454.7 L238 456.72 L237.75 459.16 L237.3 461.65 L236.87 463.78 L236.5 465.59 L236.09 467.23 L235.8 468.54 L235.75 469.43 L235.74 470.22 L235.74 470.93 L235.78 471.54 L235.9 472.06 L236.12 472.46 L236.41 472.8 L236.72 473.13 L237.05 473.45 L237.37 473.78 L237.7 474.12 L238.02 474.47 L238.33 474.83 L238.63 475.21 L238.95 475.59 L239.27 475.98 L239.58 476.39 L239.86 476.81 L240.1 477.26 L240.27 477.73 L240.43 478.21 L240.55 478.7 L240.66 479.19 L240.74 479.69 L240.79 480.19 L240.8 480.7 L240.71 481.2 L240.46 481.69 L240.09 482.15 L239.63 482.57 L239.11 482.96 L238.58 483.31 L238.07 483.63 L237.59 483.94 L237.03 484.19 L236.42 484.38 L235.8 484.54 L235.22 484.67 L234.72 484.81 L234.33 484.97 L234.09 485.2 L233.93 485.47 L233.77 485.74 L233.6 486.01 L233.44 486.27 L233.26 486.54 L233.22 486.93 L233.37 487.53 L233.62 488.28 L233.89 489.13 L234.09 489.99 L234.27 490.9 L234.46 491.93 L234.62 493.04 L234.72 494.17 L234.72 495.28 L234.63 496.37 L234.48 497.48 L234.26 498.57 L233.94 499.62 L233.54 500.58 L233.07 501.54 L232.56 502.53 L231.96 503.42 L231.27 504.1 L230.49 504.46 L229.66 504.58 L228.82 504.66 L227.98 504.67 L227.13 504.57 L226.3 504.37Z" fill="none" stroke="#ff28ff" stroke-width="0.75" stroke-linejoin="round" stroke-dasharray="2 0.9 0.7 0.9"/>
<path d="M226.3 505.1 L225.44 505.31 L224.57 505.41 L223.7 505.4 L222.84 505.32 L221.98 505.19 L221.17 504.83 L220.46 504.12 L219.85 503.2 L219.32 502.19 L218.83 501.21 L218.4 500.25 L218.05 499.23 L217.78 498.16 L217.59 497.07 L217.48 495.97 L217.48 494.82 L217.59 493.61 L217.79 492.42 L218.01 491.31 L218.2 490.35 L218.41 489.46 L218.68 488.59 L218.94 487.81 L219.08 487.2 L219.01 486.82 L218.79 486.57 L218.57 486.32 L218.35 486.07 L218.12 485.81 L217.89 485.55 L217.62 485.32 L217.26 485.11 L216.82 484.92 L216.33 484.73 L215.81 484.52 L215.28 484.28 L214.76 484.01 L214.27 483.7 L213.68 483.38 L213.04 483.04 L212.39 482.65 L211.79 482.22 L211.3 481.75 L210.96 481.24 L210.83 480.7 L210.87 480.16 L210.97 479.63 L211.11 479.1 L211.3 478.59 L211.51 478.09 L211.73 477.6 L211.95 477.12 L212.19 476.66 L212.46 476.2 L212.74 475.76 L213.04 475.34 L213.35 474.94 L213.69 474.55 L214.07 474.2 L214.49 473.88 L214.92 473.59 L215.34 473.3 L215.74 473.02 L216.1 472.73 L216.42 472.41 L216.63 471.99 L216.72 471.45 L216.73 470.79 L216.7 470.03 L216.64 469.19 L216.55 468.22 L216.21 466.81 L215.74 465.05 L215.34 463.16 L214.96 461.06 L214.6 458.69 L214.41 456.32 L214.47 454.14 L214.71 452.01 L215.23 450.28 L215.97 448.89 L216.81 447.6 L217.77 446.48 L218.85 445.65 L220.04 445.21 L221.29 445.02 L222.54 444.91 L223.79 444.85 L225.05 444.85 L226.3 444.9 L227.55 445 L228.78 445.17 L230.01 445.42 L231.21 445.75 L232.39 446.16 L233.51 446.78 L234.54 447.67 L235.45 448.78 L236.26 450.06 L236.95 451.44 L237.43 453.16 L237.64 455.23 L237.71 457.31 L237.56 459.52 L237.26 461.71 L236.91 463.72 L236.45 465.65 L235.89 467.5 L235.47 468.97 L235.37 469.89 L235.34 470.66 L235.32 471.36 L235.35 471.96 L235.45 472.46 L235.66 472.84 L235.99 473.13 L236.4 473.36 L236.88 473.57 L237.39 473.77 L237.89 474.01 L238.37 474.28 L238.77 474.62 L239.07 475.02 L239.32 475.44 L239.55 475.88 L239.76 476.33 L239.95 476.78 L240.13 477.25 L240.3 477.72 L240.47 478.2 L240.63 478.69 L240.77 479.18 L240.88 479.68 L240.95 480.19 L240.98 480.7 L240.87 481.21 L240.57 481.7 L240.12 482.15 L239.58 482.57 L238.99 482.94 L238.39 483.27 L237.83 483.58 L237.34 483.86 L236.79 484.11 L236.2 484.3 L235.62 484.47 L235.08 484.61 L234.62 484.76 L234.25 484.93 L234.02 485.16 L233.87 485.43 L233.73 485.71 L233.58 485.99 L233.44 486.28 L233.3 486.57 L233.25 486.95 L233.33 487.49 L233.5 488.16 L233.7 488.91 L233.86 489.71 L234.08 490.66 L234.38 491.82 L234.66 493.1 L234.85 494.38 L234.87 495.54 L234.75 496.59 L234.54 497.6 L234.25 498.56 L233.88 499.46 L233.43 500.29 L232.91 501.04 L232.34 501.75 L231.71 502.4 L231.03 502.97 L230.32 503.48 L229.56 503.92 L228.78 504.31 L227.97 504.64 L227.15 504.91 L226.3 505.1Z" fill="none" stroke="#9c9c28" stroke-width="0.75" stroke-linejoin="round" stroke-dasharray="1 0.8"/>
<path d="M226.3 505.59 L225.43 505.53 L224.58 505.36 L223.74 505.09 L222.92 504.76 L222.13 504.37 L221.38 503.85 L220.7 503.15 L220.1 502.32 L219.56 501.44 L219.08 500.55 L218.64 499.67 L218.26 498.76 L217.95 497.82 L217.73 496.82 L217.6 495.77 L217.64 494.55 L217.89 493.17 L218.23 491.81 L218.55 490.61 L218.72 489.74 L218.73 489.1 L218.73 488.54 L218.7 488.04 L218.66 487.58 L218.61 487.15 L218.58 486.73 L218.56 486.33 L218.53 485.94 L218.46 485.6 L218.34 485.29 L218.09 485.07 L217.66 484.91 L217.11 484.79 L216.48 484.67 L215.81 484.52 L215.16 484.32 L214.58 484.06 L214.11 483.74 L213.66 483.39 L213.23 483 L212.83 482.59 L212.46 482.15 L212.13 481.69 L211.84 481.21 L211.6 480.7 L211.38 480.18 L211.18 479.64 L211.01 479.09 L210.89 478.53 L210.83 477.97 L210.86 477.42 L210.98 476.88 L211.2 476.37 L211.48 475.88 L211.81 475.43 L212.18 475 L212.57 474.59 L212.98 474.21 L213.49 473.89 L214.06 473.63 L214.65 473.42 L215.23 473.24 L215.77 473.05 L216.22 472.83 L216.57 472.53 L216.81 472.15 L216.97 471.69 L217.08 471.15 L217.16 470.55 L217.22 469.88 L217.24 469.1 L217 467.9 L216.63 466.36 L216.26 464.63 L215.77 462.47 L215.21 459.84 L214.9 457.33 L215.04 455.4 L215.43 453.79 L216.02 452.47 L216.77 451.36 L217.6 450.37 L218.52 449.5 L219.51 448.73 L220.55 448.08 L221.63 447.49 L222.75 446.94 L223.91 446.49 L225.09 446.18 L226.3 446.07 L227.51 446.09 L228.71 446.17 L229.92 446.29 L231.11 446.46 L232.3 446.68 L233.42 447.19 L234.42 448.13 L235.29 449.36 L236.04 450.72 L236.73 452.06 L237.34 453.38 L237.8 454.87 L238.02 456.68 L237.82 459.03 L237.37 461.53 L236.9 463.73 L236.4 465.72 L235.81 467.61 L235.42 469.02 L235.48 469.77 L235.62 470.35 L235.78 470.89 L235.96 471.37 L236.19 471.8 L236.46 472.18 L236.82 472.48 L237.29 472.71 L237.84 472.92 L238.43 473.12 L239.02 473.36 L239.57 473.65 L240.03 474 L240.37 474.44 L240.67 474.89 L240.95 475.37 L241.19 475.86 L241.4 476.37 L241.58 476.89 L241.7 477.43 L241.79 477.97 L241.85 478.51 L241.88 479.06 L241.88 479.61 L241.85 480.16 L241.79 480.7 L241.62 481.24 L241.28 481.75 L240.82 482.23 L240.27 482.66 L239.68 483.06 L239.1 483.42 L238.57 483.76 L238.11 484.09 L237.65 484.39 L237.18 484.66 L236.71 484.91 L236.27 485.14 L235.85 485.36 L235.48 485.58 L235.16 485.81 L234.86 486.05 L234.56 486.27 L234.28 486.49 L234.01 486.73 L233.78 486.97 L233.68 487.35 L233.78 487.93 L233.99 488.66 L234.23 489.5 L234.42 490.38 L234.65 491.39 L234.96 492.62 L235.25 493.97 L235.44 495.33 L235.47 496.57 L235.35 497.72 L235.15 498.84 L234.85 499.91 L234.46 500.9 L233.97 501.79 L233.42 502.62 L232.82 503.44 L232.15 504.17 L231.41 504.74 L230.6 505.08 L229.75 505.26 L228.9 505.4 L228.03 505.5 L227.17 505.57 L226.3 505.59Z" fill="none" stroke="#a038c0" stroke-width="0.75" stroke-linejoin="round" stroke-dasharray="2.6 1.2"/>
<path d="M226.3 504.61 L225.47 504.57 L224.64 504.45 L223.82 504.26 L223.02 504.01 L222.24 503.72 L221.5 503.3 L220.81 502.73 L220.18 502.03 L219.62 501.25 L219.12 500.43 L218.69 499.55 L218.35 498.55 L218.12 497.47 L217.97 496.37 L217.9 495.26 L217.94 494.08 L218.13 492.81 L218.4 491.57 L218.67 490.46 L218.84 489.59 L218.94 488.87 L219.05 488.2 L219.14 487.61 L219.17 487.12 L219.08 486.76 L218.93 486.45 L218.79 486.16 L218.64 485.87 L218.49 485.58 L218.33 485.3 L218.12 485.05 L217.8 484.84 L217.41 484.66 L216.96 484.47 L216.48 484.28 L215.98 484.05 L215.5 483.8 L215.04 483.51 L214.48 483.21 L213.85 482.9 L213.21 482.54 L212.62 482.14 L212.12 481.69 L211.78 481.21 L211.66 480.7 L211.67 480.19 L211.7 479.68 L211.76 479.17 L211.84 478.67 L211.95 478.17 L212.07 477.68 L212.22 477.19 L212.42 476.72 L212.67 476.27 L212.95 475.84 L213.26 475.43 L213.58 475.04 L213.92 474.66 L214.3 474.32 L214.72 474.01 L215.15 473.73 L215.58 473.47 L215.98 473.2 L216.34 472.92 L216.66 472.61 L216.85 472.19 L216.91 471.63 L216.88 470.95 L216.81 470.16 L216.72 469.29 L216.64 468.33 L216.39 467.06 L216.05 465.5 L215.71 463.75 L215.26 461.58 L214.75 458.98 L214.45 456.4 L214.53 454.25 L214.84 452.33 L215.38 450.71 L216.1 449.29 L216.9 447.94 L217.83 446.75 L218.89 445.84 L220.07 445.35 L221.3 445.12 L222.54 444.93 L223.79 444.8 L225.04 444.73 L226.3 444.7 L227.56 444.74 L228.81 444.86 L230.05 445.06 L231.27 445.33 L232.48 445.67 L233.62 446.28 L234.63 447.29 L235.52 448.55 L236.29 449.95 L236.98 451.35 L237.58 452.78 L238.01 454.4 L238.17 456.36 L237.86 458.95 L237.3 461.64 L236.82 463.86 L236.5 465.57 L236.19 467.08 L235.96 468.33 L235.86 469.31 L235.74 470.21 L235.63 471.04 L235.56 471.76 L235.59 472.34 L235.77 472.76 L236.09 473.05 L236.48 473.3 L236.94 473.52 L237.43 473.74 L237.94 473.98 L238.44 474.25 L238.9 474.56 L239.3 474.91 L239.71 475.28 L240.11 475.67 L240.49 476.09 L240.8 476.54 L241.03 477.03 L241.16 477.54 L241.24 478.07 L241.29 478.59 L241.29 479.12 L241.27 479.65 L241.21 480.18 L241.13 480.7 L240.94 481.21 L240.61 481.7 L240.18 482.16 L239.66 482.58 L239.12 482.96 L238.57 483.31 L238.06 483.63 L237.6 483.94 L237.13 484.22 L236.64 484.46 L236.16 484.68 L235.7 484.89 L235.28 485.08 L234.9 485.27 L234.59 485.49 L234.31 485.71 L234.03 485.92 L233.77 486.13 L233.53 486.35 L233.31 486.58 L233.24 486.95 L233.37 487.53 L233.61 488.27 L233.87 489.11 L234.08 489.97 L234.3 490.94 L234.57 492.09 L234.82 493.32 L234.96 494.55 L234.94 495.66 L234.77 496.63 L234.51 497.54 L234.19 498.41 L233.79 499.25 L233.35 500.06 L232.87 500.91 L232.34 501.77 L231.75 502.57 L231.09 503.24 L230.36 503.7 L229.57 504 L228.78 504.25 L227.96 504.45 L227.13 504.57 L226.3 504.61Z" fill="none" stroke="#ff2828" stroke-width="0.75" stroke-linejoin="round"/>
<text x="226.7" y="427.8" font-size="5.8" text-anchor="middle" font-family='"Liberation Sans", sans-serif' font-weight="bold" font-style="normal" fill="#111" stroke="#111" stroke-width="0.15">z-x plane</text>
<text x="226.5" y="434.4" font-size="5.9" text-anchor="middle" font-family='"Liberation Sans", sans-serif' font-weight="bold" font-style="normal" fill="#111" stroke="#111" stroke-width="0.15">0</text>
<text x="227" y="533.2" font-size="5.9" text-anchor="middle" font-family='"Liberation Sans", sans-serif' font-weight="bold" font-style="normal" fill="#111" stroke="#111" stroke-width="0.15">180</text>
<text x="203.8" y="440.5" font-size="5.9" text-anchor="middle" font-family='"Liberation Sans", sans-serif' font-weight="bold" font-style="normal" fill="#111" stroke="#111" stroke-width="0.15">30</text>
<text x="249.7" y="440.5" font-size="5.9" text-anchor="middle" font-family='"Liberation Sans", sans-serif' font-weight="bold" font-style="normal" fill="#111" stroke="#111" stroke-width="0.15">30</text>
<text x="182.9" y="459.5" font-size="5.9" text-anchor="middle" font-family='"Liberation Sans", sans-serif' font-weight="bold" font-style="normal" fill="#111" stroke="#111" stroke-width="0.15">60</text>
<text x="272.3" y="459.5" font-size="5.9" text-anchor="middle" font-family='"Liberation Sans", sans-serif' font-weight="bold" font-style="normal" fill="#111" stroke="#111" stroke-width="0.15">60</text>
<text x="176.9" y="482.8" font-size="5.9" text-anchor="middle" font-family='"Liberation Sans", sans-serif' font-weight="bold" font-style="normal" fill="#111" stroke="#111" stroke-width="0.15">90</text>
<text x="277.6" y="482.8" font-size="5.9" text-anchor="middle" font-family='"Liberation Sans", sans-serif' font-weight="bold" font-style="normal" fill="#111" stroke="#111" stroke-width="0.15">90</text>
<text x="181.1" y="506.2" font-size="5.9" text-anchor="middle" font-family='"Liberation Sans", sans-serif' font-weight="bold" font-style="normal" fill="#111" stroke="#111" stroke-width="0.15">120</text>
<text x="274.3" y="506.2" font-size="5.9" text-anchor="middle" font-family='"Liberation Sans", sans-serif' font-weight="bold" font-style="normal" fill="#111" stroke="#111" stroke-width="0.15">120</text>
<text x="204.4" y="526.9" font-size="5.9" text-anchor="middle" font-family='"Liberation Sans", sans-serif' font-weight="bold" font-style="normal" fill="#111" stroke="#111" stroke-width="0.15">150</text>
<text x="249.5" y="526.9" font-size="5.9" text-anchor="middle" font-family='"Liberation Sans", sans-serif' font-weight="bold" font-style="normal" fill="#111" stroke="#111" stroke-width="0.15">150</text>
<text x="226.3" y="490.1" font-size="5.6" text-anchor="middle" font-family='"Liberation Sans", sans-serif' font-weight="bold" font-style="normal" fill="#111" stroke="#111" stroke-width="0.15">-30</text>
<text x="234.86" y="490.1" font-size="5.6" text-anchor="middle" font-family='"Liberation Sans", sans-serif' font-weight="bold" font-style="normal" fill="#111" stroke="#111" stroke-width="0.15">-20</text>
<text x="243.42" y="490.1" font-size="5.6" text-anchor="middle" font-family='"Liberation Sans", sans-serif' font-weight="bold" font-style="normal" fill="#111" stroke="#111" stroke-width="0.15">-10</text>
<text x="251.98" y="490.1" font-size="5.6" text-anchor="middle" font-family='"Liberation Sans", sans-serif' font-weight="bold" font-style="normal" fill="#111" stroke="#111" stroke-width="0.15">0</text>
<text x="260.54" y="490.1" font-size="5.6" text-anchor="middle" font-family='"Liberation Sans", sans-serif' font-weight="bold" font-style="normal" fill="#111" stroke="#111" stroke-width="0.15">10</text>
<text x="269.1" y="490.1" font-size="5.6" text-anchor="middle" font-family='"Liberation Sans", sans-serif' font-weight="bold" font-style="normal" fill="#111" stroke="#111" stroke-width="0.15">20</text>
<rect x="280.8" y="443.7" width="58.5" height="73.2" fill="#fff" stroke="#8a8a8a" stroke-width="0.5"/>
<line x1="283.8" y1="448.8" x2="314" y2="448.8" stroke="#303030" stroke-width="0.85" stroke-dasharray="3 1.1 1 1.1 1 1.1"/>
<text x="320.6" y="451.1" font-size="5.3" font-family='"Liberation Sans", sans-serif' fill="#1a1a1a" word-spacing="-0.9"><tspan font-weight="normal">θ</tspan><tspan font-weight="bold" stroke="#1a1a1a" stroke-width="0.18"> = 0°</tspan></text>
<line x1="283.8" y1="455.85" x2="314" y2="455.85" stroke="#10e810" stroke-width="0.55" stroke-dasharray="2.6 1 0.9 1"/>
<text x="320.6" y="458.15" font-size="5.3" font-family='"Liberation Sans", sans-serif' fill="#1a1a1a" word-spacing="-0.9"><tspan font-weight="normal">θ</tspan><tspan font-weight="bold" stroke="#1a1a1a" stroke-width="0.18"> = 10°</tspan></text>
<line x1="283.8" y1="462.9" x2="314" y2="462.9" stroke="#10e8ff" stroke-width="0.55" stroke-dasharray="2.6 1 0.9 1"/>
<text x="320.6" y="465.2" font-size="5.3" font-family='"Liberation Sans", sans-serif' fill="#1a1a1a" word-spacing="-0.9"><tspan font-weight="normal">θ</tspan><tspan font-weight="bold" stroke="#1a1a1a" stroke-width="0.18"> = 20°</tspan></text>
<line x1="283.8" y1="469.95" x2="314" y2="469.95" stroke="#cdcdcd" stroke-width="0.55" stroke-dasharray="3 1.1 1 1.1 1 1.1"/>
<text x="320.6" y="472.25" font-size="5.3" font-family='"Liberation Sans", sans-serif' fill="#1a1a1a" word-spacing="-0.9"><tspan font-weight="normal">θ</tspan><tspan font-weight="bold" stroke="#1a1a1a" stroke-width="0.18"> = 30°</tspan></text>
<line x1="283.8" y1="477" x2="314" y2="477" stroke="#2838ff" stroke-width="0.55" stroke-dasharray="2.2 1.2"/>
<text x="320.6" y="479.3" font-size="5.3" font-family='"Liberation Sans", sans-serif' fill="#1a1a1a" word-spacing="-0.9"><tspan font-weight="normal">θ</tspan><tspan font-weight="bold" stroke="#1a1a1a" stroke-width="0.18"> = 40°</tspan></text>
<line x1="283.8" y1="484.05" x2="314" y2="484.05" stroke="#ff28ff" stroke-width="0.55" stroke-dasharray="2.6 1 0.9 1"/>
<text x="320.6" y="486.35" font-size="5.3" font-family='"Liberation Sans", sans-serif' fill="#1a1a1a" word-spacing="-0.9"><tspan font-weight="normal">θ</tspan><tspan font-weight="bold" stroke="#1a1a1a" stroke-width="0.18"> = 50°</tspan></text>
<line x1="283.8" y1="491.1" x2="314" y2="491.1" stroke="#9c9c28" stroke-width="0.55" stroke-dasharray="1.2 0.9"/>
<text x="320.6" y="493.4" font-size="5.3" font-family='"Liberation Sans", sans-serif' fill="#1a1a1a" word-spacing="-0.9"><tspan font-weight="normal">θ</tspan><tspan font-weight="bold" stroke="#1a1a1a" stroke-width="0.18"> = 60°</tspan></text>
<line x1="283.8" y1="498.15" x2="314" y2="498.15" stroke="#ff2828" stroke-width="0.55"/>
<text x="320.6" y="500.45" font-size="5.3" font-family='"Liberation Sans", sans-serif' fill="#1a1a1a" word-spacing="-0.9"><tspan font-weight="normal">θ</tspan><tspan font-weight="bold" stroke="#1a1a1a" stroke-width="0.18"> = 70°</tspan></text>
<line x1="283.8" y1="505.2" x2="314" y2="505.2" stroke="#a038c0" stroke-width="0.55" stroke-dasharray="3.4 1.6"/>
<text x="320.6" y="507.5" font-size="5.3" font-family='"Liberation Sans", sans-serif' fill="#1a1a1a" word-spacing="-0.9"><tspan font-weight="normal">θ</tspan><tspan font-weight="bold" stroke="#1a1a1a" stroke-width="0.18"> = 80°</tspan></text>
<line x1="283.8" y1="512.25" x2="314" y2="512.25" stroke="#282898" stroke-width="0.55" stroke-dasharray="2 1.1"/>
<text x="320.6" y="514.55" font-size="5.3" font-family='"Liberation Sans", sans-serif' fill="#1a1a1a" word-spacing="-0.9"><tspan font-weight="normal">θ</tspan><tspan font-weight="bold" stroke="#1a1a1a" stroke-width="0.18"> = 90°</tspan></text>
<text x="256.2" y="544.3" font-size="9.3" text-anchor="middle" font-family='"Liberation Serif", serif' font-weight="normal" font-style="normal" fill="#000" stroke="#000" stroke-width="0.28">(g)</text>
</g>
</svg>
</body>
</html>
